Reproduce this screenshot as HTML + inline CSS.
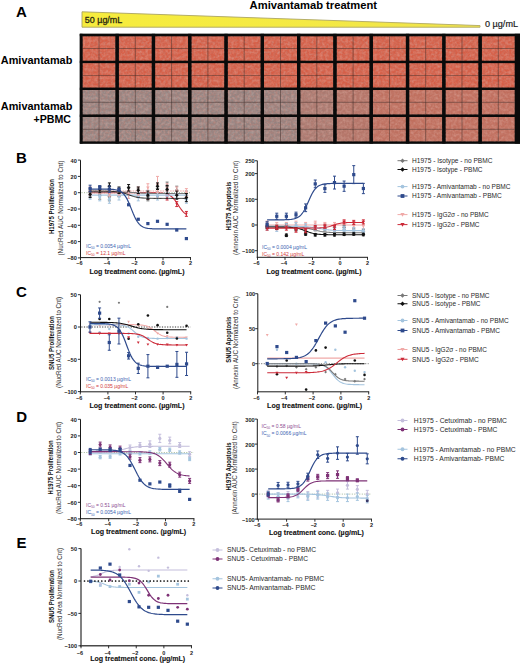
<!DOCTYPE html>
<html><head><meta charset="utf-8"><style>html,body{margin:0;padding:0;background:#fff;width:520px;height:664px;overflow:hidden}svg{display:block}</style></head>
<body><svg width="520" height="664" viewBox="0 0 520 664">
<rect width="520" height="664" fill="#fff"/>
<defs>
<linearGradient id="wedge" x1="0" x2="1" y1="0" y2="0"><stop offset="0" stop-color="#f8ec50" stop-opacity="0"/><stop offset="1" stop-color="#e0d070" stop-opacity="0.3"/></linearGradient>
<filter id="nz1" x="0" y="0" width="100%" height="100%" filterUnits="objectBoundingBox"><feTurbulence type="fractalNoise" baseFrequency="0.5" numOctaves="2" seed="4" result="t"/><feColorMatrix in="t" type="matrix" values="0 0 0 0 0.55  0 0 0 0 0.22  0 0 0 0 0.18  1.6 0 0 0 -0.55"/></filter>
<filter id="nz2" x="0" y="0" width="100%" height="100%" filterUnits="objectBoundingBox"><feTurbulence type="fractalNoise" baseFrequency="0.35" numOctaves="2" seed="11" result="t"/><feColorMatrix in="t" type="matrix" values="0 0 0 0 0.95  0 0 0 0 0.72  0 0 0 0 0.66  1.6 0 0 0 -0.6"/></filter>
<filter id="gblur" x="0" y="0" width="520" height="664" filterUnits="userSpaceOnUse"><feGaussianBlur stdDeviation="0.35"/></filter>
</defs>
<g>
<text x="16.00" y="16.60" font-size="15.0" font-family="Liberation Sans" font-weight="bold" text-anchor="start" fill="#000" >A</text>
<polygon points="82,11.8 480,25.6 480,27.2 82,27.2" fill="#f6ec3e" stroke="#a8a264" stroke-width="0.9"/>
<polygon points="82,11.8 480,25.6 480,27.2 82,27.2" fill="url(#wedge)"/>
<text x="84.80" y="23.00" font-size="9" font-family="Liberation Sans" text-anchor="start" fill="#2a2a10" textLength="37.5" lengthAdjust="spacingAndGlyphs" stroke="#2a2a10" stroke-width="0.3">50 µg/mL</text>
<text x="485.00" y="26.80" font-size="9" font-family="Liberation Sans" text-anchor="start" fill="#222" textLength="33" lengthAdjust="spacingAndGlyphs" stroke="#222" stroke-width="0.2">0 µg/mL</text>
<text x="249.60" y="9.00" font-size="10.3" font-family="Liberation Sans" font-weight="bold" text-anchor="start" fill="#000" textLength="127.5" lengthAdjust="spacingAndGlyphs" >Amivantamab treatment</text>
<text x="0.80" y="63.80" font-size="10" font-family="Liberation Sans" font-weight="bold" text-anchor="start" fill="#000" textLength="71.5" lengthAdjust="spacingAndGlyphs" >Amivantamab</text>
<text x="0.80" y="110.20" font-size="10" font-family="Liberation Sans" font-weight="bold" text-anchor="start" fill="#000" textLength="71.5" lengthAdjust="spacingAndGlyphs" >Amivantamab</text>
<text x="33.50" y="122.60" font-size="10" font-family="Liberation Sans" font-weight="bold" text-anchor="start" fill="#000" textLength="37.5" lengthAdjust="spacingAndGlyphs" >+PBMC</text>
<rect x="79.8" y="33.8" width="440.2" height="109.8" fill="#0a0a0a"/>
<rect x="82.5" y="36.2" width="33.0" height="24.6" fill="rgb(214, 94, 70)"/>
<rect x="118.8" y="36.2" width="33.0" height="24.6" fill="rgb(214, 94, 70)"/>
<rect x="155.1" y="36.2" width="33.0" height="24.6" fill="rgb(214, 94, 70)"/>
<rect x="191.4" y="36.2" width="33.0" height="24.6" fill="rgb(214, 94, 70)"/>
<rect x="227.7" y="36.2" width="33.0" height="24.6" fill="rgb(214, 94, 70)"/>
<rect x="264.0" y="36.2" width="33.0" height="24.6" fill="rgb(214, 94, 70)"/>
<rect x="300.3" y="36.2" width="33.0" height="24.6" fill="rgb(214, 94, 70)"/>
<rect x="336.6" y="36.2" width="33.0" height="24.6" fill="rgb(214, 94, 70)"/>
<rect x="372.9" y="36.2" width="33.0" height="24.6" fill="rgb(214, 94, 70)"/>
<rect x="409.2" y="36.2" width="33.0" height="24.6" fill="rgb(214, 94, 70)"/>
<rect x="445.5" y="36.2" width="33.0" height="24.6" fill="rgb(214, 94, 70)"/>
<rect x="481.8" y="36.2" width="33.0" height="24.6" fill="rgb(214, 94, 70)"/>
<rect x="82.5" y="63.1" width="33.0" height="24.6" fill="rgb(214, 94, 70)"/>
<rect x="118.8" y="63.1" width="33.0" height="24.6" fill="rgb(214, 94, 70)"/>
<rect x="155.1" y="63.1" width="33.0" height="24.6" fill="rgb(214, 94, 70)"/>
<rect x="191.4" y="63.1" width="33.0" height="24.6" fill="rgb(214, 94, 70)"/>
<rect x="227.7" y="63.1" width="33.0" height="24.6" fill="rgb(214, 94, 70)"/>
<rect x="264.0" y="63.1" width="33.0" height="24.6" fill="rgb(214, 94, 70)"/>
<rect x="300.3" y="63.1" width="33.0" height="24.6" fill="rgb(214, 94, 70)"/>
<rect x="336.6" y="63.1" width="33.0" height="24.6" fill="rgb(214, 94, 70)"/>
<rect x="372.9" y="63.1" width="33.0" height="24.6" fill="rgb(214, 94, 70)"/>
<rect x="409.2" y="63.1" width="33.0" height="24.6" fill="rgb(214, 94, 70)"/>
<rect x="445.5" y="63.1" width="33.0" height="24.6" fill="rgb(214, 94, 70)"/>
<rect x="481.8" y="63.1" width="33.0" height="24.6" fill="rgb(214, 94, 70)"/>
<rect x="82.5" y="90.0" width="33.0" height="24.6" fill="rgb(148, 132, 130)"/>
<rect x="118.8" y="90.0" width="33.0" height="24.6" fill="rgb(148, 132, 130)"/>
<rect x="155.1" y="90.0" width="33.0" height="24.6" fill="rgb(148, 132, 130)"/>
<rect x="191.4" y="90.0" width="33.0" height="24.6" fill="rgb(148, 132, 130)"/>
<rect x="227.7" y="90.0" width="33.0" height="24.6" fill="rgb(148, 132, 130)"/>
<rect x="264.0" y="90.0" width="33.0" height="24.6" fill="rgb(150, 130, 127)"/>
<rect x="300.3" y="90.0" width="33.0" height="24.6" fill="rgb(168, 122, 113)"/>
<rect x="336.6" y="90.0" width="33.0" height="24.6" fill="rgb(179, 117, 104)"/>
<rect x="372.9" y="90.0" width="33.0" height="24.6" fill="rgb(190, 112, 95)"/>
<rect x="409.2" y="90.0" width="33.0" height="24.6" fill="rgb(192, 111, 93)"/>
<rect x="445.5" y="90.0" width="33.0" height="24.6" fill="rgb(193, 110, 93)"/>
<rect x="481.8" y="90.0" width="33.0" height="24.6" fill="rgb(193, 110, 93)"/>
<rect x="82.5" y="117.0" width="33.0" height="24.6" fill="rgb(148, 132, 130)"/>
<rect x="118.8" y="117.0" width="33.0" height="24.6" fill="rgb(148, 132, 130)"/>
<rect x="155.1" y="117.0" width="33.0" height="24.6" fill="rgb(148, 132, 130)"/>
<rect x="191.4" y="117.0" width="33.0" height="24.6" fill="rgb(148, 132, 130)"/>
<rect x="227.7" y="117.0" width="33.0" height="24.6" fill="rgb(148, 132, 130)"/>
<rect x="264.0" y="117.0" width="33.0" height="24.6" fill="rgb(150, 130, 127)"/>
<rect x="300.3" y="117.0" width="33.0" height="24.6" fill="rgb(168, 122, 113)"/>
<rect x="336.6" y="117.0" width="33.0" height="24.6" fill="rgb(179, 117, 104)"/>
<rect x="372.9" y="117.0" width="33.0" height="24.6" fill="rgb(190, 112, 95)"/>
<rect x="409.2" y="117.0" width="33.0" height="24.6" fill="rgb(192, 111, 93)"/>
<rect x="445.5" y="117.0" width="33.0" height="24.6" fill="rgb(193, 110, 93)"/>
<rect x="481.8" y="117.0" width="33.0" height="24.6" fill="rgb(193, 110, 93)"/>
<rect x="80" y="34" width="440" height="109" filter="url(#nz1)" opacity="0.7"/>
<rect x="80" y="34" width="440" height="109" filter="url(#nz2)" opacity="0.3"/>
<rect x="115.5" y="33.8" width="3.3" height="109.8" fill="#0a0a0a"/>
<rect x="151.8" y="33.8" width="3.3" height="109.8" fill="#0a0a0a"/>
<rect x="188.1" y="33.8" width="3.3" height="109.8" fill="#0a0a0a"/>
<rect x="224.4" y="33.8" width="3.3" height="109.8" fill="#0a0a0a"/>
<rect x="260.7" y="33.8" width="3.3" height="109.8" fill="#0a0a0a"/>
<rect x="297.0" y="33.8" width="3.3" height="109.8" fill="#0a0a0a"/>
<rect x="333.3" y="33.8" width="3.3" height="109.8" fill="#0a0a0a"/>
<rect x="369.6" y="33.8" width="3.3" height="109.8" fill="#0a0a0a"/>
<rect x="405.9" y="33.8" width="3.3" height="109.8" fill="#0a0a0a"/>
<rect x="442.2" y="33.8" width="3.3" height="109.8" fill="#0a0a0a"/>
<rect x="478.5" y="33.8" width="3.3" height="109.8" fill="#0a0a0a"/>
<rect x="514.8" y="33.8" width="5.2" height="109.8" fill="#0a0a0a"/>
<rect x="79.8" y="33.8" width="2.7" height="109.8" fill="#0a0a0a"/>
<rect x="79.8" y="60.8" width="440.2" height="2.3" fill="#0a0a0a"/>
<rect x="79.8" y="87.7" width="440.2" height="2.3" fill="#0a0a0a"/>
<rect x="79.8" y="114.6" width="440.2" height="2.4" fill="#0a0a0a"/>
<rect x="79.8" y="141.6" width="440.2" height="2.0" fill="#0a0a0a"/>
<rect x="79.8" y="33.8" width="440.2" height="2.4" fill="#0a0a0a"/>
<line x1="99.0" y1="36.2" x2="99.0" y2="60.800000000000004" stroke="#3a2a26" stroke-width="0.8" opacity="0.6"/>
<line x1="82.5" y1="48.5" x2="115.5" y2="48.5" stroke="#3a2a26" stroke-width="0.8" opacity="0.6"/>
<line x1="135.3" y1="36.2" x2="135.3" y2="60.800000000000004" stroke="#3a2a26" stroke-width="0.8" opacity="0.6"/>
<line x1="118.8" y1="48.5" x2="151.8" y2="48.5" stroke="#3a2a26" stroke-width="0.8" opacity="0.6"/>
<line x1="171.6" y1="36.2" x2="171.6" y2="60.800000000000004" stroke="#3a2a26" stroke-width="0.8" opacity="0.6"/>
<line x1="155.1" y1="48.5" x2="188.1" y2="48.5" stroke="#3a2a26" stroke-width="0.8" opacity="0.6"/>
<line x1="207.9" y1="36.2" x2="207.9" y2="60.800000000000004" stroke="#3a2a26" stroke-width="0.8" opacity="0.6"/>
<line x1="191.39999999999998" y1="48.5" x2="224.39999999999998" y2="48.5" stroke="#3a2a26" stroke-width="0.8" opacity="0.6"/>
<line x1="244.2" y1="36.2" x2="244.2" y2="60.800000000000004" stroke="#3a2a26" stroke-width="0.8" opacity="0.6"/>
<line x1="227.7" y1="48.5" x2="260.7" y2="48.5" stroke="#3a2a26" stroke-width="0.8" opacity="0.6"/>
<line x1="280.5" y1="36.2" x2="280.5" y2="60.800000000000004" stroke="#3a2a26" stroke-width="0.8" opacity="0.6"/>
<line x1="264.0" y1="48.5" x2="297.0" y2="48.5" stroke="#3a2a26" stroke-width="0.8" opacity="0.6"/>
<line x1="316.8" y1="36.2" x2="316.8" y2="60.800000000000004" stroke="#3a2a26" stroke-width="0.8" opacity="0.6"/>
<line x1="300.29999999999995" y1="48.5" x2="333.29999999999995" y2="48.5" stroke="#3a2a26" stroke-width="0.8" opacity="0.6"/>
<line x1="353.1" y1="36.2" x2="353.1" y2="60.800000000000004" stroke="#3a2a26" stroke-width="0.8" opacity="0.6"/>
<line x1="336.59999999999997" y1="48.5" x2="369.59999999999997" y2="48.5" stroke="#3a2a26" stroke-width="0.8" opacity="0.6"/>
<line x1="389.4" y1="36.2" x2="389.4" y2="60.800000000000004" stroke="#3a2a26" stroke-width="0.8" opacity="0.6"/>
<line x1="372.9" y1="48.5" x2="405.9" y2="48.5" stroke="#3a2a26" stroke-width="0.8" opacity="0.6"/>
<line x1="425.7" y1="36.2" x2="425.7" y2="60.800000000000004" stroke="#3a2a26" stroke-width="0.8" opacity="0.6"/>
<line x1="409.2" y1="48.5" x2="442.2" y2="48.5" stroke="#3a2a26" stroke-width="0.8" opacity="0.6"/>
<line x1="462.0" y1="36.2" x2="462.0" y2="60.800000000000004" stroke="#3a2a26" stroke-width="0.8" opacity="0.6"/>
<line x1="445.5" y1="48.5" x2="478.5" y2="48.5" stroke="#3a2a26" stroke-width="0.8" opacity="0.6"/>
<line x1="498.3" y1="36.2" x2="498.3" y2="60.800000000000004" stroke="#3a2a26" stroke-width="0.8" opacity="0.6"/>
<line x1="481.79999999999995" y1="48.5" x2="514.8" y2="48.5" stroke="#3a2a26" stroke-width="0.8" opacity="0.6"/>
<line x1="99.0" y1="63.1" x2="99.0" y2="87.7" stroke="#3a2a26" stroke-width="0.8" opacity="0.6"/>
<line x1="82.5" y1="75.4" x2="115.5" y2="75.4" stroke="#3a2a26" stroke-width="0.8" opacity="0.6"/>
<line x1="135.3" y1="63.1" x2="135.3" y2="87.7" stroke="#3a2a26" stroke-width="0.8" opacity="0.6"/>
<line x1="118.8" y1="75.4" x2="151.8" y2="75.4" stroke="#3a2a26" stroke-width="0.8" opacity="0.6"/>
<line x1="171.6" y1="63.1" x2="171.6" y2="87.7" stroke="#3a2a26" stroke-width="0.8" opacity="0.6"/>
<line x1="155.1" y1="75.4" x2="188.1" y2="75.4" stroke="#3a2a26" stroke-width="0.8" opacity="0.6"/>
<line x1="207.9" y1="63.1" x2="207.9" y2="87.7" stroke="#3a2a26" stroke-width="0.8" opacity="0.6"/>
<line x1="191.39999999999998" y1="75.4" x2="224.39999999999998" y2="75.4" stroke="#3a2a26" stroke-width="0.8" opacity="0.6"/>
<line x1="244.2" y1="63.1" x2="244.2" y2="87.7" stroke="#3a2a26" stroke-width="0.8" opacity="0.6"/>
<line x1="227.7" y1="75.4" x2="260.7" y2="75.4" stroke="#3a2a26" stroke-width="0.8" opacity="0.6"/>
<line x1="280.5" y1="63.1" x2="280.5" y2="87.7" stroke="#3a2a26" stroke-width="0.8" opacity="0.6"/>
<line x1="264.0" y1="75.4" x2="297.0" y2="75.4" stroke="#3a2a26" stroke-width="0.8" opacity="0.6"/>
<line x1="316.8" y1="63.1" x2="316.8" y2="87.7" stroke="#3a2a26" stroke-width="0.8" opacity="0.6"/>
<line x1="300.29999999999995" y1="75.4" x2="333.29999999999995" y2="75.4" stroke="#3a2a26" stroke-width="0.8" opacity="0.6"/>
<line x1="353.1" y1="63.1" x2="353.1" y2="87.7" stroke="#3a2a26" stroke-width="0.8" opacity="0.6"/>
<line x1="336.59999999999997" y1="75.4" x2="369.59999999999997" y2="75.4" stroke="#3a2a26" stroke-width="0.8" opacity="0.6"/>
<line x1="389.4" y1="63.1" x2="389.4" y2="87.7" stroke="#3a2a26" stroke-width="0.8" opacity="0.6"/>
<line x1="372.9" y1="75.4" x2="405.9" y2="75.4" stroke="#3a2a26" stroke-width="0.8" opacity="0.6"/>
<line x1="425.7" y1="63.1" x2="425.7" y2="87.7" stroke="#3a2a26" stroke-width="0.8" opacity="0.6"/>
<line x1="409.2" y1="75.4" x2="442.2" y2="75.4" stroke="#3a2a26" stroke-width="0.8" opacity="0.6"/>
<line x1="462.0" y1="63.1" x2="462.0" y2="87.7" stroke="#3a2a26" stroke-width="0.8" opacity="0.6"/>
<line x1="445.5" y1="75.4" x2="478.5" y2="75.4" stroke="#3a2a26" stroke-width="0.8" opacity="0.6"/>
<line x1="498.3" y1="63.1" x2="498.3" y2="87.7" stroke="#3a2a26" stroke-width="0.8" opacity="0.6"/>
<line x1="481.79999999999995" y1="75.4" x2="514.8" y2="75.4" stroke="#3a2a26" stroke-width="0.8" opacity="0.6"/>
<line x1="99.0" y1="90.0" x2="99.0" y2="114.6" stroke="#3a2a26" stroke-width="0.8" opacity="0.6"/>
<line x1="82.5" y1="102.3" x2="115.5" y2="102.3" stroke="#3a2a26" stroke-width="0.8" opacity="0.6"/>
<line x1="135.3" y1="90.0" x2="135.3" y2="114.6" stroke="#3a2a26" stroke-width="0.8" opacity="0.6"/>
<line x1="118.8" y1="102.3" x2="151.8" y2="102.3" stroke="#3a2a26" stroke-width="0.8" opacity="0.6"/>
<line x1="171.6" y1="90.0" x2="171.6" y2="114.6" stroke="#3a2a26" stroke-width="0.8" opacity="0.6"/>
<line x1="155.1" y1="102.3" x2="188.1" y2="102.3" stroke="#3a2a26" stroke-width="0.8" opacity="0.6"/>
<line x1="207.9" y1="90.0" x2="207.9" y2="114.6" stroke="#3a2a26" stroke-width="0.8" opacity="0.6"/>
<line x1="191.39999999999998" y1="102.3" x2="224.39999999999998" y2="102.3" stroke="#3a2a26" stroke-width="0.8" opacity="0.6"/>
<line x1="244.2" y1="90.0" x2="244.2" y2="114.6" stroke="#3a2a26" stroke-width="0.8" opacity="0.6"/>
<line x1="227.7" y1="102.3" x2="260.7" y2="102.3" stroke="#3a2a26" stroke-width="0.8" opacity="0.6"/>
<line x1="280.5" y1="90.0" x2="280.5" y2="114.6" stroke="#3a2a26" stroke-width="0.8" opacity="0.6"/>
<line x1="264.0" y1="102.3" x2="297.0" y2="102.3" stroke="#3a2a26" stroke-width="0.8" opacity="0.6"/>
<line x1="316.8" y1="90.0" x2="316.8" y2="114.6" stroke="#3a2a26" stroke-width="0.8" opacity="0.6"/>
<line x1="300.29999999999995" y1="102.3" x2="333.29999999999995" y2="102.3" stroke="#3a2a26" stroke-width="0.8" opacity="0.6"/>
<line x1="353.1" y1="90.0" x2="353.1" y2="114.6" stroke="#3a2a26" stroke-width="0.8" opacity="0.6"/>
<line x1="336.59999999999997" y1="102.3" x2="369.59999999999997" y2="102.3" stroke="#3a2a26" stroke-width="0.8" opacity="0.6"/>
<line x1="389.4" y1="90.0" x2="389.4" y2="114.6" stroke="#3a2a26" stroke-width="0.8" opacity="0.6"/>
<line x1="372.9" y1="102.3" x2="405.9" y2="102.3" stroke="#3a2a26" stroke-width="0.8" opacity="0.6"/>
<line x1="425.7" y1="90.0" x2="425.7" y2="114.6" stroke="#3a2a26" stroke-width="0.8" opacity="0.6"/>
<line x1="409.2" y1="102.3" x2="442.2" y2="102.3" stroke="#3a2a26" stroke-width="0.8" opacity="0.6"/>
<line x1="462.0" y1="90.0" x2="462.0" y2="114.6" stroke="#3a2a26" stroke-width="0.8" opacity="0.6"/>
<line x1="445.5" y1="102.3" x2="478.5" y2="102.3" stroke="#3a2a26" stroke-width="0.8" opacity="0.6"/>
<line x1="498.3" y1="90.0" x2="498.3" y2="114.6" stroke="#3a2a26" stroke-width="0.8" opacity="0.6"/>
<line x1="481.79999999999995" y1="102.3" x2="514.8" y2="102.3" stroke="#3a2a26" stroke-width="0.8" opacity="0.6"/>
<line x1="99.0" y1="117.0" x2="99.0" y2="141.6" stroke="#3a2a26" stroke-width="0.8" opacity="0.6"/>
<line x1="82.5" y1="129.3" x2="115.5" y2="129.3" stroke="#3a2a26" stroke-width="0.8" opacity="0.6"/>
<line x1="135.3" y1="117.0" x2="135.3" y2="141.6" stroke="#3a2a26" stroke-width="0.8" opacity="0.6"/>
<line x1="118.8" y1="129.3" x2="151.8" y2="129.3" stroke="#3a2a26" stroke-width="0.8" opacity="0.6"/>
<line x1="171.6" y1="117.0" x2="171.6" y2="141.6" stroke="#3a2a26" stroke-width="0.8" opacity="0.6"/>
<line x1="155.1" y1="129.3" x2="188.1" y2="129.3" stroke="#3a2a26" stroke-width="0.8" opacity="0.6"/>
<line x1="207.9" y1="117.0" x2="207.9" y2="141.6" stroke="#3a2a26" stroke-width="0.8" opacity="0.6"/>
<line x1="191.39999999999998" y1="129.3" x2="224.39999999999998" y2="129.3" stroke="#3a2a26" stroke-width="0.8" opacity="0.6"/>
<line x1="244.2" y1="117.0" x2="244.2" y2="141.6" stroke="#3a2a26" stroke-width="0.8" opacity="0.6"/>
<line x1="227.7" y1="129.3" x2="260.7" y2="129.3" stroke="#3a2a26" stroke-width="0.8" opacity="0.6"/>
<line x1="280.5" y1="117.0" x2="280.5" y2="141.6" stroke="#3a2a26" stroke-width="0.8" opacity="0.6"/>
<line x1="264.0" y1="129.3" x2="297.0" y2="129.3" stroke="#3a2a26" stroke-width="0.8" opacity="0.6"/>
<line x1="316.8" y1="117.0" x2="316.8" y2="141.6" stroke="#3a2a26" stroke-width="0.8" opacity="0.6"/>
<line x1="300.29999999999995" y1="129.3" x2="333.29999999999995" y2="129.3" stroke="#3a2a26" stroke-width="0.8" opacity="0.6"/>
<line x1="353.1" y1="117.0" x2="353.1" y2="141.6" stroke="#3a2a26" stroke-width="0.8" opacity="0.6"/>
<line x1="336.59999999999997" y1="129.3" x2="369.59999999999997" y2="129.3" stroke="#3a2a26" stroke-width="0.8" opacity="0.6"/>
<line x1="389.4" y1="117.0" x2="389.4" y2="141.6" stroke="#3a2a26" stroke-width="0.8" opacity="0.6"/>
<line x1="372.9" y1="129.3" x2="405.9" y2="129.3" stroke="#3a2a26" stroke-width="0.8" opacity="0.6"/>
<line x1="425.7" y1="117.0" x2="425.7" y2="141.6" stroke="#3a2a26" stroke-width="0.8" opacity="0.6"/>
<line x1="409.2" y1="129.3" x2="442.2" y2="129.3" stroke="#3a2a26" stroke-width="0.8" opacity="0.6"/>
<line x1="462.0" y1="117.0" x2="462.0" y2="141.6" stroke="#3a2a26" stroke-width="0.8" opacity="0.6"/>
<line x1="445.5" y1="129.3" x2="478.5" y2="129.3" stroke="#3a2a26" stroke-width="0.8" opacity="0.6"/>
<line x1="498.3" y1="117.0" x2="498.3" y2="141.6" stroke="#3a2a26" stroke-width="0.8" opacity="0.6"/>
<line x1="481.79999999999995" y1="129.3" x2="514.8" y2="129.3" stroke="#3a2a26" stroke-width="0.8" opacity="0.6"/>
<text x="15.90" y="163.00" font-size="15.0" font-family="Liberation Sans" font-weight="bold" text-anchor="start" fill="#000" >B</text>
<text x="16.10" y="297.40" font-size="15.0" font-family="Liberation Sans" font-weight="bold" text-anchor="start" fill="#000" >C</text>
<text x="16.20" y="422.00" font-size="15.0" font-family="Liberation Sans" font-weight="bold" text-anchor="start" fill="#000" >D</text>
<text x="16.50" y="547.80" font-size="15.0" font-family="Liberation Sans" font-weight="bold" text-anchor="start" fill="#000" >E</text>
<line x1="81.50" y1="192.70" x2="190.50" y2="192.70" stroke="#7a9a6a" stroke-width="0.7" stroke-dasharray="1,1.5"/>
<g stroke="#cc2a38" stroke-width="1" opacity="1"><line x1="90.12" y1="191.88" x2="90.12" y2="195.14"/><line x1="88.62" y1="191.88" x2="91.62" y2="191.88"/><line x1="88.62" y1="195.14" x2="91.62" y2="195.14"/></g>
<polygon points="88.69,192.47 91.56,192.47 90.12,194.94" fill="#cc2a38"/>
<g stroke="#cc2a38" stroke-width="1" opacity="1"><line x1="99.75" y1="191.88" x2="99.75" y2="195.14"/><line x1="98.25" y1="191.88" x2="101.25" y2="191.88"/><line x1="98.25" y1="195.14" x2="101.25" y2="195.14"/></g>
<polygon points="98.32,192.47 101.18,192.47 99.75,194.94" fill="#cc2a38"/>
<g stroke="#cc2a38" stroke-width="1" opacity="1"><line x1="109.38" y1="191.88" x2="109.38" y2="195.14"/><line x1="107.88" y1="191.88" x2="110.88" y2="191.88"/><line x1="107.88" y1="195.14" x2="110.88" y2="195.14"/></g>
<polygon points="107.94,192.47 110.81,192.47 109.38,194.94" fill="#cc2a38"/>
<g stroke="#cc2a38" stroke-width="1" opacity="1"><line x1="119.00" y1="192.70" x2="119.00" y2="195.96"/><line x1="117.50" y1="192.70" x2="120.50" y2="192.70"/><line x1="117.50" y1="195.96" x2="120.50" y2="195.96"/></g>
<polygon points="117.57,193.29 120.43,193.29 119.00,195.76" fill="#cc2a38"/>
<g stroke="#cc2a38" stroke-width="1" opacity="1"><line x1="128.62" y1="191.88" x2="128.62" y2="195.14"/><line x1="127.12" y1="191.88" x2="130.12" y2="191.88"/><line x1="127.12" y1="195.14" x2="130.12" y2="195.14"/></g>
<polygon points="127.19,192.47 130.06,192.47 128.62,194.94" fill="#cc2a38"/>
<g stroke="#cc2a38" stroke-width="1" opacity="1"><line x1="138.25" y1="192.70" x2="138.25" y2="197.59"/><line x1="136.75" y1="192.70" x2="139.75" y2="192.70"/><line x1="136.75" y1="197.59" x2="139.75" y2="197.59"/></g>
<polygon points="136.82,194.10 139.68,194.10 138.25,196.57" fill="#cc2a38"/>
<g stroke="#cc2a38" stroke-width="1" opacity="1"><line x1="147.88" y1="194.33" x2="147.88" y2="199.22"/><line x1="146.38" y1="194.33" x2="149.38" y2="194.33"/><line x1="146.38" y1="199.22" x2="149.38" y2="199.22"/></g>
<polygon points="146.44,195.73 149.31,195.73 147.88,198.20" fill="#cc2a38"/>
<g stroke="#cc2a38" stroke-width="1" opacity="1"><line x1="157.50" y1="191.88" x2="157.50" y2="196.77"/><line x1="156.00" y1="191.88" x2="159.00" y2="191.88"/><line x1="156.00" y1="196.77" x2="159.00" y2="196.77"/></g>
<polygon points="156.07,193.29 158.93,193.29 157.50,195.76" fill="#cc2a38"/>
<g stroke="#cc2a38" stroke-width="1" opacity="1"><line x1="167.12" y1="195.14" x2="167.12" y2="200.03"/><line x1="165.62" y1="195.14" x2="168.62" y2="195.14"/><line x1="165.62" y1="200.03" x2="168.62" y2="200.03"/></g>
<polygon points="165.69,196.55 168.56,196.55 167.12,199.02" fill="#cc2a38"/>
<g stroke="#cc2a38" stroke-width="1" opacity="1"><line x1="176.75" y1="201.66" x2="176.75" y2="206.55"/><line x1="175.25" y1="201.66" x2="178.25" y2="201.66"/><line x1="175.25" y1="206.55" x2="178.25" y2="206.55"/></g>
<polygon points="175.32,203.07 178.18,203.07 176.75,205.54" fill="#cc2a38"/>
<g stroke="#cc2a38" stroke-width="1" opacity="1"><line x1="186.38" y1="211.44" x2="186.38" y2="216.33"/><line x1="184.88" y1="211.44" x2="187.88" y2="211.44"/><line x1="184.88" y1="216.33" x2="187.88" y2="216.33"/></g>
<polygon points="184.94,212.85 187.81,212.85 186.38,215.32" fill="#cc2a38"/>
<polyline points="90.12,192.70 91.33,192.70 92.53,192.70 93.73,192.70 94.94,192.70 96.14,192.70 97.34,192.70 98.55,192.70 99.75,192.70 100.95,192.70 102.16,192.70 103.36,192.70 104.56,192.70 105.77,192.70 106.97,192.70 108.17,192.70 109.38,192.70 110.58,192.70 111.78,192.70 112.98,192.70 114.19,192.70 115.39,192.70 116.59,192.70 117.80,192.70 119.00,192.70 120.20,192.70 121.41,192.70 122.61,192.70 123.81,192.70 125.02,192.70 126.22,192.70 127.42,192.70 128.62,192.70 129.83,192.70 131.03,192.70 132.23,192.70 133.44,192.70 134.64,192.70 135.84,192.70 137.05,192.70 138.25,192.70 139.45,192.70 140.66,192.70 141.86,192.70 143.06,192.70 144.27,192.70 145.47,192.71 146.67,192.71 147.88,192.71 149.08,192.72 150.28,192.72 151.48,192.73 152.69,192.74 153.89,192.76 155.09,192.77 156.30,192.80 157.50,192.84 158.70,192.88 159.91,192.95 161.11,193.04 162.31,193.15 163.52,193.31 164.72,193.51 165.92,193.79 167.12,194.15 168.33,194.62 169.53,195.23 170.73,196.00 171.94,196.97 173.14,198.14 174.34,199.52 175.55,201.10 176.75,202.83 177.95,204.66 179.16,206.50 180.36,208.27 181.56,209.90 182.77,211.34 183.97,212.57 185.17,213.59 186.38,214.42" fill="none" stroke="#cc2a38" stroke-width="1.1" opacity="1"/>
<g stroke="#787878" stroke-width="1" opacity="1"><line x1="90.12" y1="188.62" x2="90.12" y2="196.77"/><line x1="88.62" y1="188.62" x2="91.62" y2="188.62"/><line x1="88.62" y1="196.77" x2="91.62" y2="196.77"/></g>
<polygon points="90.12,190.78 92.05,192.70 90.12,194.62 88.20,192.70" fill="#787878"/>
<g stroke="#787878" stroke-width="1" opacity="1"><line x1="99.75" y1="191.07" x2="99.75" y2="199.22"/><line x1="98.25" y1="191.07" x2="101.25" y2="191.07"/><line x1="98.25" y1="199.22" x2="101.25" y2="199.22"/></g>
<polygon points="99.75,193.22 101.67,195.14 99.75,197.06 97.83,195.14" fill="#787878"/>
<g stroke="#787878" stroke-width="1" opacity="1"><line x1="109.38" y1="192.70" x2="109.38" y2="200.85"/><line x1="107.88" y1="192.70" x2="110.88" y2="192.70"/><line x1="107.88" y1="200.85" x2="110.88" y2="200.85"/></g>
<polygon points="109.38,194.85 111.30,196.77 109.38,198.69 107.45,196.77" fill="#787878"/>
<g stroke="#787878" stroke-width="1" opacity="1"><line x1="119.00" y1="188.62" x2="119.00" y2="196.77"/><line x1="117.50" y1="188.62" x2="120.50" y2="188.62"/><line x1="117.50" y1="196.77" x2="120.50" y2="196.77"/></g>
<polygon points="119.00,190.78 120.92,192.70 119.00,194.62 117.08,192.70" fill="#787878"/>
<g stroke="#787878" stroke-width="1" opacity="1"><line x1="128.62" y1="187.00" x2="128.62" y2="195.14"/><line x1="127.12" y1="187.00" x2="130.12" y2="187.00"/><line x1="127.12" y1="195.14" x2="130.12" y2="195.14"/></g>
<polygon points="128.62,189.15 130.54,191.07 128.62,192.99 126.70,191.07" fill="#787878"/>
<g stroke="#787878" stroke-width="1" opacity="1"><line x1="138.25" y1="188.62" x2="138.25" y2="196.77"/><line x1="136.75" y1="188.62" x2="139.75" y2="188.62"/><line x1="136.75" y1="196.77" x2="139.75" y2="196.77"/></g>
<polygon points="138.25,190.78 140.17,192.70 138.25,194.62 136.33,192.70" fill="#787878"/>
<g stroke="#787878" stroke-width="1" opacity="1"><line x1="147.88" y1="192.70" x2="147.88" y2="200.85"/><line x1="146.38" y1="192.70" x2="149.38" y2="192.70"/><line x1="146.38" y1="200.85" x2="149.38" y2="200.85"/></g>
<polygon points="147.88,194.85 149.79,196.77 147.88,198.69 145.96,196.77" fill="#787878"/>
<g stroke="#787878" stroke-width="1" opacity="1"><line x1="157.50" y1="184.55" x2="157.50" y2="192.70"/><line x1="156.00" y1="184.55" x2="159.00" y2="184.55"/><line x1="156.00" y1="192.70" x2="159.00" y2="192.70"/></g>
<polygon points="157.50,186.71 159.42,188.62 157.50,190.54 155.58,188.62" fill="#787878"/>
<g stroke="#787878" stroke-width="1" opacity="1"><line x1="167.12" y1="182.10" x2="167.12" y2="190.25"/><line x1="165.62" y1="182.10" x2="168.62" y2="182.10"/><line x1="165.62" y1="190.25" x2="168.62" y2="190.25"/></g>
<polygon points="167.12,184.26 169.04,186.18 167.12,188.10 165.21,186.18" fill="#787878"/>
<g stroke="#787878" stroke-width="1" opacity="1"><line x1="176.75" y1="186.18" x2="176.75" y2="194.33"/><line x1="175.25" y1="186.18" x2="178.25" y2="186.18"/><line x1="175.25" y1="194.33" x2="178.25" y2="194.33"/></g>
<polygon points="176.75,188.34 178.67,190.25 176.75,192.17 174.83,190.25" fill="#787878"/>
<g stroke="#787878" stroke-width="1" opacity="1"><line x1="186.38" y1="191.07" x2="186.38" y2="199.22"/><line x1="184.88" y1="191.07" x2="187.88" y2="191.07"/><line x1="184.88" y1="199.22" x2="187.88" y2="199.22"/></g>
<polygon points="186.38,193.22 188.29,195.14 186.38,197.06 184.46,195.14" fill="#787878"/>
<polyline points="90.12,191.89 91.33,191.89 92.53,191.89 93.73,191.89 94.94,191.89 96.14,191.89 97.34,191.89 98.55,191.89 99.75,191.89 100.95,191.89 102.16,191.89 103.36,191.89 104.56,191.89 105.77,191.90 106.97,191.90 108.17,191.90 109.38,191.91 110.58,191.91 111.78,191.92 112.98,191.92 114.19,191.93 115.39,191.94 116.59,191.95 117.80,191.96 119.00,191.98 120.20,192.00 121.41,192.03 122.61,192.05 123.81,192.09 125.02,192.13 126.22,192.17 127.42,192.22 128.62,192.28 129.83,192.34 131.03,192.41 132.23,192.48 133.44,192.56 134.64,192.64 135.84,192.72 137.05,192.80 138.25,192.88 139.45,192.96 140.66,193.03 141.86,193.10 143.06,193.16 144.27,193.21 145.47,193.26 146.67,193.30 147.88,193.33 149.08,193.36 150.28,193.39 151.48,193.41 152.69,193.43 153.89,193.44 155.09,193.46 156.30,193.47 157.50,193.48 158.70,193.48 159.91,193.49 161.11,193.49 162.31,193.50 163.52,193.50 164.72,193.50 165.92,193.51 167.12,193.51 168.33,193.51 169.53,193.51 170.73,193.51 171.94,193.51 173.14,193.51 174.34,193.51 175.55,193.51 176.75,193.51 177.95,193.51 179.16,193.51 180.36,193.51 181.56,193.51 182.77,193.51 183.97,193.51 185.17,193.51 186.38,193.51" fill="none" stroke="#787878" stroke-width="1.1" opacity="1"/>
<g stroke="#a4c4de" stroke-width="1" opacity="1"><line x1="90.12" y1="191.07" x2="90.12" y2="199.22"/><line x1="88.62" y1="191.07" x2="91.62" y2="191.07"/><line x1="88.62" y1="199.22" x2="91.62" y2="199.22"/></g>
<circle cx="90.12" cy="195.14" r="1.60" fill="#a4c4de"/>
<g stroke="#a4c4de" stroke-width="1" opacity="1"><line x1="99.75" y1="192.70" x2="99.75" y2="200.85"/><line x1="98.25" y1="192.70" x2="101.25" y2="192.70"/><line x1="98.25" y1="200.85" x2="101.25" y2="200.85"/></g>
<circle cx="99.75" cy="196.77" r="1.60" fill="#a4c4de"/>
<g stroke="#a4c4de" stroke-width="1" opacity="1"><line x1="109.38" y1="195.15" x2="109.38" y2="203.29"/><line x1="107.88" y1="195.15" x2="110.88" y2="195.15"/><line x1="107.88" y1="203.29" x2="110.88" y2="203.29"/></g>
<circle cx="109.38" cy="199.22" r="1.60" fill="#a4c4de"/>
<g stroke="#a4c4de" stroke-width="1" opacity="1"><line x1="119.00" y1="191.88" x2="119.00" y2="200.03"/><line x1="117.50" y1="191.88" x2="120.50" y2="191.88"/><line x1="117.50" y1="200.03" x2="120.50" y2="200.03"/></g>
<circle cx="119.00" cy="195.96" r="1.60" fill="#a4c4de"/>
<g stroke="#a4c4de" stroke-width="1" opacity="1"><line x1="128.62" y1="190.25" x2="128.62" y2="198.40"/><line x1="127.12" y1="190.25" x2="130.12" y2="190.25"/><line x1="127.12" y1="198.40" x2="130.12" y2="198.40"/></g>
<circle cx="128.62" cy="194.33" r="1.60" fill="#a4c4de"/>
<g stroke="#a4c4de" stroke-width="1" opacity="1"><line x1="138.25" y1="192.70" x2="138.25" y2="200.85"/><line x1="136.75" y1="192.70" x2="139.75" y2="192.70"/><line x1="136.75" y1="200.85" x2="139.75" y2="200.85"/></g>
<circle cx="138.25" cy="196.77" r="1.60" fill="#a4c4de"/>
<g stroke="#a4c4de" stroke-width="1" opacity="1"><line x1="147.88" y1="190.25" x2="147.88" y2="198.40"/><line x1="146.38" y1="190.25" x2="149.38" y2="190.25"/><line x1="146.38" y1="198.40" x2="149.38" y2="198.40"/></g>
<circle cx="147.88" cy="194.33" r="1.60" fill="#a4c4de"/>
<g stroke="#a4c4de" stroke-width="1" opacity="1"><line x1="157.50" y1="191.88" x2="157.50" y2="200.03"/><line x1="156.00" y1="191.88" x2="159.00" y2="191.88"/><line x1="156.00" y1="200.03" x2="159.00" y2="200.03"/></g>
<circle cx="157.50" cy="195.96" r="1.60" fill="#a4c4de"/>
<g stroke="#a4c4de" stroke-width="1" opacity="1"><line x1="167.12" y1="188.62" x2="167.12" y2="196.77"/><line x1="165.62" y1="188.62" x2="168.62" y2="188.62"/><line x1="165.62" y1="196.77" x2="168.62" y2="196.77"/></g>
<circle cx="167.12" cy="192.70" r="1.60" fill="#a4c4de"/>
<g stroke="#a4c4de" stroke-width="1" opacity="1"><line x1="176.75" y1="190.25" x2="176.75" y2="198.40"/><line x1="175.25" y1="190.25" x2="178.25" y2="190.25"/><line x1="175.25" y1="198.40" x2="178.25" y2="198.40"/></g>
<circle cx="176.75" cy="194.33" r="1.60" fill="#a4c4de"/>
<g stroke="#a4c4de" stroke-width="1" opacity="1"><line x1="186.38" y1="195.15" x2="186.38" y2="203.29"/><line x1="184.88" y1="195.15" x2="187.88" y2="195.15"/><line x1="184.88" y1="203.29" x2="187.88" y2="203.29"/></g>
<circle cx="186.38" cy="199.22" r="1.60" fill="#a4c4de"/>
<polyline points="90.12,195.14 91.33,195.14 92.53,195.14 93.73,195.14 94.94,195.14 96.14,195.14 97.34,195.14 98.55,195.14 99.75,195.14 100.95,195.14 102.16,195.14 103.36,195.14 104.56,195.14 105.77,195.14 106.97,195.14 108.17,195.14 109.38,195.14 110.58,195.14 111.78,195.14 112.98,195.14 114.19,195.14 115.39,195.14 116.59,195.14 117.80,195.14 119.00,195.14 120.20,195.14 121.41,195.14 122.61,195.14 123.81,195.14 125.02,195.14 126.22,195.14 127.42,195.14 128.62,195.14 129.83,195.14 131.03,195.14 132.23,195.14 133.44,195.14 134.64,195.14 135.84,195.14 137.05,195.14 138.25,195.14 139.45,195.14 140.66,195.14 141.86,195.14 143.06,195.14 144.27,195.14 145.47,195.14 146.67,195.14 147.88,195.14 149.08,195.14 150.28,195.14 151.48,195.14 152.69,195.14 153.89,195.14 155.09,195.14 156.30,195.14 157.50,195.14 158.70,195.14 159.91,195.14 161.11,195.14 162.31,195.14 163.52,195.14 164.72,195.14 165.92,195.14 167.12,195.14 168.33,195.14 169.53,195.14 170.73,195.14 171.94,195.14 173.14,195.14 174.34,195.14 175.55,195.14 176.75,195.14 177.95,195.14 179.16,195.14 180.36,195.14 181.56,195.14 182.77,195.14 183.97,195.14 185.17,195.14 186.38,195.14" fill="none" stroke="#a4c4de" stroke-width="1.1" opacity="1"/>
<g stroke="#f0aaa8" stroke-width="1" opacity="1"><line x1="90.12" y1="187.00" x2="90.12" y2="195.14"/><line x1="88.62" y1="187.00" x2="91.62" y2="187.00"/><line x1="88.62" y1="195.14" x2="91.62" y2="195.14"/></g>
<polygon points="88.36,189.79 91.89,189.79 90.12,192.83" fill="#f0aaa8"/>
<g stroke="#f0aaa8" stroke-width="1" opacity="1"><line x1="99.75" y1="187.00" x2="99.75" y2="193.51"/><line x1="98.25" y1="187.00" x2="101.25" y2="187.00"/><line x1="98.25" y1="193.51" x2="101.25" y2="193.51"/></g>
<polygon points="97.99,188.97 101.51,188.97 99.75,192.01" fill="#f0aaa8"/>
<g stroke="#f0aaa8" stroke-width="1" opacity="1"><line x1="109.38" y1="189.44" x2="109.38" y2="195.96"/><line x1="107.88" y1="189.44" x2="110.88" y2="189.44"/><line x1="107.88" y1="195.96" x2="110.88" y2="195.96"/></g>
<polygon points="107.61,191.42 111.14,191.42 109.38,194.46" fill="#f0aaa8"/>
<g stroke="#f0aaa8" stroke-width="1" opacity="1"><line x1="119.00" y1="188.62" x2="119.00" y2="195.14"/><line x1="117.50" y1="188.62" x2="120.50" y2="188.62"/><line x1="117.50" y1="195.14" x2="120.50" y2="195.14"/></g>
<polygon points="117.24,190.60 120.76,190.60 119.00,193.64" fill="#f0aaa8"/>
<g stroke="#f0aaa8" stroke-width="1" opacity="1"><line x1="128.62" y1="190.25" x2="128.62" y2="198.40"/><line x1="127.12" y1="190.25" x2="130.12" y2="190.25"/><line x1="127.12" y1="198.40" x2="130.12" y2="198.40"/></g>
<polygon points="126.86,193.05 130.38,193.05 128.62,196.09" fill="#f0aaa8"/>
<g stroke="#f0aaa8" stroke-width="1" opacity="1"><line x1="138.25" y1="187.00" x2="138.25" y2="195.14"/><line x1="136.75" y1="187.00" x2="139.75" y2="187.00"/><line x1="136.75" y1="195.14" x2="139.75" y2="195.14"/></g>
<polygon points="136.49,189.79 140.01,189.79 138.25,192.83" fill="#f0aaa8"/>
<g stroke="#f0aaa8" stroke-width="1" opacity="1"><line x1="147.88" y1="183.74" x2="147.88" y2="191.88"/><line x1="146.38" y1="183.74" x2="149.38" y2="183.74"/><line x1="146.38" y1="191.88" x2="149.38" y2="191.88"/></g>
<polygon points="146.12,186.53 149.63,186.53 147.88,189.57" fill="#f0aaa8"/>
<g stroke="#f0aaa8" stroke-width="1" opacity="1"><line x1="157.50" y1="176.40" x2="157.50" y2="192.70"/><line x1="156.00" y1="176.40" x2="159.00" y2="176.40"/><line x1="156.00" y1="192.70" x2="159.00" y2="192.70"/></g>
<polygon points="155.74,183.27 159.26,183.27 157.50,186.31" fill="#f0aaa8"/>
<g stroke="#f0aaa8" stroke-width="1" opacity="1"><line x1="167.12" y1="183.74" x2="167.12" y2="193.51"/><line x1="165.62" y1="183.74" x2="168.62" y2="183.74"/><line x1="165.62" y1="193.51" x2="168.62" y2="193.51"/></g>
<polygon points="165.37,187.34 168.88,187.34 167.12,190.38" fill="#f0aaa8"/>
<g stroke="#f0aaa8" stroke-width="1" opacity="1"><line x1="176.75" y1="187.00" x2="176.75" y2="195.14"/><line x1="175.25" y1="187.00" x2="178.25" y2="187.00"/><line x1="175.25" y1="195.14" x2="178.25" y2="195.14"/></g>
<polygon points="174.99,189.79 178.51,189.79 176.75,192.83" fill="#f0aaa8"/>
<g stroke="#f0aaa8" stroke-width="1" opacity="1"><line x1="186.38" y1="188.62" x2="186.38" y2="196.77"/><line x1="184.88" y1="188.62" x2="187.88" y2="188.62"/><line x1="184.88" y1="196.77" x2="187.88" y2="196.77"/></g>
<polygon points="184.62,191.42 188.13,191.42 186.38,194.46" fill="#f0aaa8"/>
<polyline points="90.12,191.07 91.33,191.07 92.53,191.07 93.73,191.07 94.94,191.07 96.14,191.07 97.34,191.07 98.55,191.07 99.75,191.07 100.95,191.07 102.16,191.07 103.36,191.07 104.56,191.07 105.77,191.07 106.97,191.07 108.17,191.07 109.38,191.07 110.58,191.07 111.78,191.07 112.98,191.07 114.19,191.07 115.39,191.07 116.59,191.07 117.80,191.07 119.00,191.07 120.20,191.07 121.41,191.07 122.61,191.07 123.81,191.07 125.02,191.07 126.22,191.07 127.42,191.07 128.62,191.07 129.83,191.07 131.03,191.07 132.23,191.07 133.44,191.07 134.64,191.07 135.84,191.07 137.05,191.07 138.25,191.07 139.45,191.07 140.66,191.07 141.86,191.07 143.06,191.07 144.27,191.07 145.47,191.07 146.67,191.07 147.88,191.07 149.08,191.07 150.28,191.07 151.48,191.07 152.69,191.07 153.89,191.07 155.09,191.07 156.30,191.07 157.50,191.07 158.70,191.07 159.91,191.07 161.11,191.07 162.31,191.07 163.52,191.07 164.72,191.07 165.92,191.07 167.12,191.07 168.33,191.07 169.53,191.07 170.73,191.07 171.94,191.07 173.14,191.07 174.34,191.07 175.55,191.07 176.75,191.07 177.95,191.07 179.16,191.07 180.36,191.07 181.56,191.07 182.77,191.07 183.97,191.07 185.17,191.07 186.38,191.07" fill="none" stroke="#f0aaa8" stroke-width="1.1" opacity="1" stroke-dasharray="1.5,1"/>
<g stroke="#111111" stroke-width="1" opacity="1"><line x1="90.12" y1="191.07" x2="90.12" y2="197.59"/><line x1="88.62" y1="191.07" x2="91.62" y2="191.07"/><line x1="88.62" y1="197.59" x2="91.62" y2="197.59"/></g>
<polygon points="90.12,192.41 92.05,194.33 90.12,196.25 88.20,194.33" fill="#111111"/>
<g stroke="#111111" stroke-width="1" opacity="1"><line x1="99.75" y1="186.18" x2="99.75" y2="192.70"/><line x1="98.25" y1="186.18" x2="101.25" y2="186.18"/><line x1="98.25" y1="192.70" x2="101.25" y2="192.70"/></g>
<polygon points="99.75,187.52 101.67,189.44 99.75,191.36 97.83,189.44" fill="#111111"/>
<g stroke="#111111" stroke-width="1" opacity="1"><line x1="109.38" y1="182.92" x2="109.38" y2="189.44"/><line x1="107.88" y1="182.92" x2="110.88" y2="182.92"/><line x1="107.88" y1="189.44" x2="110.88" y2="189.44"/></g>
<polygon points="109.38,184.26 111.30,186.18 109.38,188.10 107.45,186.18" fill="#111111"/>
<g stroke="#111111" stroke-width="1" opacity="1"><line x1="119.00" y1="187.00" x2="119.00" y2="193.51"/><line x1="117.50" y1="187.00" x2="120.50" y2="187.00"/><line x1="117.50" y1="193.51" x2="120.50" y2="193.51"/></g>
<polygon points="119.00,188.34 120.92,190.25 119.00,192.17 117.08,190.25" fill="#111111"/>
<g stroke="#111111" stroke-width="1" opacity="1"><line x1="128.62" y1="184.55" x2="128.62" y2="191.07"/><line x1="127.12" y1="184.55" x2="130.12" y2="184.55"/><line x1="127.12" y1="191.07" x2="130.12" y2="191.07"/></g>
<polygon points="128.62,185.89 130.54,187.81 128.62,189.73 126.70,187.81" fill="#111111"/>
<g stroke="#111111" stroke-width="1" opacity="1"><line x1="138.25" y1="187.00" x2="138.25" y2="193.51"/><line x1="136.75" y1="187.00" x2="139.75" y2="187.00"/><line x1="136.75" y1="193.51" x2="139.75" y2="193.51"/></g>
<polygon points="138.25,188.34 140.17,190.25 138.25,192.17 136.33,190.25" fill="#111111"/>
<g stroke="#111111" stroke-width="1" opacity="1"><line x1="147.88" y1="191.07" x2="147.88" y2="199.22"/><line x1="146.38" y1="191.07" x2="149.38" y2="191.07"/><line x1="146.38" y1="199.22" x2="149.38" y2="199.22"/></g>
<polygon points="147.88,193.22 149.79,195.14 147.88,197.06 145.96,195.14" fill="#111111"/>
<g stroke="#111111" stroke-width="1" opacity="1"><line x1="157.50" y1="182.92" x2="157.50" y2="189.44"/><line x1="156.00" y1="182.92" x2="159.00" y2="182.92"/><line x1="156.00" y1="189.44" x2="159.00" y2="189.44"/></g>
<polygon points="157.50,184.26 159.42,186.18 157.50,188.10 155.58,186.18" fill="#111111"/>
<g stroke="#111111" stroke-width="1" opacity="1"><line x1="167.12" y1="185.37" x2="167.12" y2="193.51"/><line x1="165.62" y1="185.37" x2="168.62" y2="185.37"/><line x1="165.62" y1="193.51" x2="168.62" y2="193.51"/></g>
<polygon points="167.12,187.52 169.04,189.44 167.12,191.36 165.21,189.44" fill="#111111"/>
<g stroke="#111111" stroke-width="1" opacity="1"><line x1="176.75" y1="191.07" x2="176.75" y2="199.22"/><line x1="175.25" y1="191.07" x2="178.25" y2="191.07"/><line x1="175.25" y1="199.22" x2="178.25" y2="199.22"/></g>
<polygon points="176.75,193.22 178.67,195.14 176.75,197.06 174.83,195.14" fill="#111111"/>
<g stroke="#111111" stroke-width="1" opacity="1"><line x1="186.38" y1="193.51" x2="186.38" y2="201.66"/><line x1="184.88" y1="193.51" x2="187.88" y2="193.51"/><line x1="184.88" y1="201.66" x2="187.88" y2="201.66"/></g>
<polygon points="186.38,195.67 188.29,197.59 186.38,199.51 184.46,197.59" fill="#111111"/>
<polyline points="90.12,191.07 91.33,191.07 92.53,191.08 93.73,191.08 94.94,191.08 96.14,191.08 97.34,191.08 98.55,191.09 99.75,191.09 100.95,191.10 102.16,191.11 103.36,191.12 104.56,191.13 105.77,191.14 106.97,191.16 108.17,191.19 109.38,191.22 110.58,191.26 111.78,191.31 112.98,191.37 114.19,191.45 115.39,191.55 116.59,191.67 117.80,191.82 119.00,192.00 120.20,192.21 121.41,192.46 122.61,192.76 123.81,193.09 125.02,193.46 126.22,193.87 127.42,194.30 128.62,194.74 129.83,195.18 131.03,195.61 132.23,196.01 133.44,196.38 134.64,196.72 135.84,197.01 137.05,197.26 138.25,197.48 139.45,197.66 140.66,197.80 141.86,197.93 143.06,198.02 144.27,198.10 145.47,198.16 146.67,198.21 147.88,198.25 149.08,198.29 150.28,198.31 151.48,198.33 152.69,198.35 153.89,198.36 155.09,198.37 156.30,198.38 157.50,198.38 158.70,198.39 159.91,198.39 161.11,198.39 162.31,198.40 163.52,198.40 164.72,198.40 165.92,198.40 167.12,198.40 168.33,198.40 169.53,198.40 170.73,198.40 171.94,198.40 173.14,198.40 174.34,198.40 175.55,198.40 176.75,198.40 177.95,198.40 179.16,198.40 180.36,198.40 181.56,198.40 182.77,198.40 183.97,198.40 185.17,198.40 186.38,198.40" fill="none" stroke="#111111" stroke-width="0.9" opacity="1"/>
<g stroke="#2e4a8c" stroke-width="1" opacity="1"><line x1="90.12" y1="185.20" x2="90.12" y2="191.72"/><line x1="88.62" y1="185.20" x2="91.62" y2="185.20"/><line x1="88.62" y1="191.72" x2="91.62" y2="191.72"/></g>
<rect x="88.53" y="186.86" width="3.20" height="3.20" fill="#2e4a8c"/>
<g stroke="#2e4a8c" stroke-width="1" opacity="1"><line x1="99.75" y1="185.69" x2="99.75" y2="188.95"/><line x1="98.25" y1="185.69" x2="101.25" y2="185.69"/><line x1="98.25" y1="188.95" x2="101.25" y2="188.95"/></g>
<rect x="98.15" y="185.72" width="3.20" height="3.20" fill="#2e4a8c"/>
<g stroke="#2e4a8c" stroke-width="1" opacity="1"><line x1="109.38" y1="185.94" x2="109.38" y2="192.46"/><line x1="107.88" y1="185.94" x2="110.88" y2="185.94"/><line x1="107.88" y1="192.46" x2="110.88" y2="192.46"/></g>
<rect x="107.78" y="187.60" width="3.20" height="3.20" fill="#2e4a8c"/>
<g stroke="#2e4a8c" stroke-width="1" opacity="1"><line x1="119.00" y1="187.97" x2="119.00" y2="191.23"/><line x1="117.50" y1="187.97" x2="120.50" y2="187.97"/><line x1="117.50" y1="191.23" x2="120.50" y2="191.23"/></g>
<rect x="117.40" y="188.00" width="3.20" height="3.20" fill="#2e4a8c"/>
<rect x="127.03" y="203.16" width="3.20" height="3.20" fill="#2e4a8c"/>
<rect x="136.65" y="217.67" width="3.20" height="3.20" fill="#2e4a8c"/>
<rect x="146.28" y="221.99" width="3.20" height="3.20" fill="#2e4a8c"/>
<rect x="155.90" y="219.71" width="3.20" height="3.20" fill="#2e4a8c"/>
<rect x="165.53" y="222.72" width="3.20" height="3.20" fill="#2e4a8c"/>
<rect x="175.15" y="228.43" width="3.20" height="3.20" fill="#2e4a8c"/>
<rect x="184.78" y="236.98" width="3.20" height="3.20" fill="#2e4a8c"/>
<polyline points="90.12,189.03 91.33,189.03 92.53,189.03 93.73,189.04 94.94,189.04 96.14,189.04 97.34,189.04 98.55,189.04 99.75,189.05 100.95,189.05 102.16,189.06 103.36,189.07 104.56,189.08 105.77,189.10 106.97,189.12 108.17,189.15 109.38,189.19 110.58,189.25 111.78,189.32 112.98,189.42 114.19,189.56 115.39,189.74 116.59,189.98 117.80,190.31 119.00,190.74 120.20,191.31 121.41,192.05 122.61,193.01 123.81,194.23 125.02,195.76 126.22,197.62 127.42,199.83 128.62,202.37 129.83,205.17 131.03,208.14 132.23,211.15 133.44,214.06 134.64,216.76 135.84,219.16 137.05,221.22 138.25,222.94 139.45,224.33 140.66,225.43 141.86,226.29 143.06,226.95 144.27,227.46 145.47,227.84 146.67,228.13 147.88,228.34 149.08,228.51 150.28,228.62 151.48,228.71 152.69,228.78 153.89,228.83 155.09,228.86 156.30,228.89 157.50,228.91 158.70,228.93 159.91,228.94 161.11,228.94 162.31,228.95 163.52,228.96 164.72,228.96 165.92,228.96 167.12,228.96 168.33,228.96 169.53,228.96 170.73,228.97 171.94,228.97 173.14,228.97 174.34,228.97 175.55,228.97 176.75,228.97 177.95,228.97 179.16,228.97 180.36,228.97 181.56,228.97 182.77,228.97 183.97,228.97 185.17,228.97 186.38,228.97" fill="none" stroke="#2e4a8c" stroke-width="1.2" opacity="1"/>
<text x="86.00" y="247.60" font-size="5.0" font-family="Liberation Sans" fill="#3a62b0">IC<tspan font-size="3.3" dy="1.2">50</tspan><tspan dy="-1.2"> = 0.0054 µg/mL</tspan></text>
<text x="86.00" y="254.50" font-size="5.0" font-family="Liberation Sans" fill="#d23a3a">IC<tspan font-size="3.3" dy="1.2">50</tspan><tspan dy="-1.2"> = 12.1 µg/mL</tspan></text>
<g stroke="#f0aaa8" stroke-width="1" opacity="1"><line x1="267.12" y1="221.15" x2="267.12" y2="226.28"/><line x1="265.62" y1="221.15" x2="268.62" y2="221.15"/><line x1="265.62" y1="226.28" x2="268.62" y2="226.28"/></g>
<polygon points="265.37,222.44 268.88,222.44 267.12,225.47" fill="#f0aaa8"/>
<g stroke="#f0aaa8" stroke-width="1" opacity="1"><line x1="276.75" y1="222.43" x2="276.75" y2="227.57"/><line x1="275.25" y1="222.43" x2="278.25" y2="222.43"/><line x1="275.25" y1="227.57" x2="278.25" y2="227.57"/></g>
<polygon points="274.99,223.72 278.51,223.72 276.75,226.76" fill="#f0aaa8"/>
<g stroke="#f0aaa8" stroke-width="1" opacity="1"><line x1="286.38" y1="222.43" x2="286.38" y2="227.57"/><line x1="284.88" y1="222.43" x2="287.88" y2="222.43"/><line x1="284.88" y1="227.57" x2="287.88" y2="227.57"/></g>
<polygon points="284.62,223.72 288.13,223.72 286.38,226.76" fill="#f0aaa8"/>
<g stroke="#f0aaa8" stroke-width="1" opacity="1"><line x1="296.00" y1="221.15" x2="296.00" y2="226.28"/><line x1="294.50" y1="221.15" x2="297.50" y2="221.15"/><line x1="294.50" y1="226.28" x2="297.50" y2="226.28"/></g>
<polygon points="294.24,222.44 297.76,222.44 296.00,225.47" fill="#f0aaa8"/>
<g stroke="#f0aaa8" stroke-width="1" opacity="1"><line x1="305.62" y1="222.43" x2="305.62" y2="227.57"/><line x1="304.12" y1="222.43" x2="307.12" y2="222.43"/><line x1="304.12" y1="227.57" x2="307.12" y2="227.57"/></g>
<polygon points="303.87,223.72 307.38,223.72 305.62,226.76" fill="#f0aaa8"/>
<g stroke="#f0aaa8" stroke-width="1" opacity="1"><line x1="315.25" y1="221.15" x2="315.25" y2="226.28"/><line x1="313.75" y1="221.15" x2="316.75" y2="221.15"/><line x1="313.75" y1="226.28" x2="316.75" y2="226.28"/></g>
<polygon points="313.49,222.44 317.01,222.44 315.25,225.47" fill="#f0aaa8"/>
<g stroke="#f0aaa8" stroke-width="1" opacity="1"><line x1="324.88" y1="222.43" x2="324.88" y2="227.57"/><line x1="323.38" y1="222.43" x2="326.38" y2="222.43"/><line x1="323.38" y1="227.57" x2="326.38" y2="227.57"/></g>
<polygon points="323.12,223.72 326.63,223.72 324.88,226.76" fill="#f0aaa8"/>
<g stroke="#f0aaa8" stroke-width="1" opacity="1"><line x1="334.50" y1="222.43" x2="334.50" y2="227.57"/><line x1="333.00" y1="222.43" x2="336.00" y2="222.43"/><line x1="333.00" y1="227.57" x2="336.00" y2="227.57"/></g>
<polygon points="332.74,223.72 336.26,223.72 334.50,226.76" fill="#f0aaa8"/>
<g stroke="#f0aaa8" stroke-width="1" opacity="1"><line x1="344.12" y1="221.15" x2="344.12" y2="226.28"/><line x1="342.62" y1="221.15" x2="345.62" y2="221.15"/><line x1="342.62" y1="226.28" x2="345.62" y2="226.28"/></g>
<polygon points="342.37,222.44 345.88,222.44 344.12,225.47" fill="#f0aaa8"/>
<g stroke="#f0aaa8" stroke-width="1" opacity="1"><line x1="353.75" y1="223.72" x2="353.75" y2="228.85"/><line x1="352.25" y1="223.72" x2="355.25" y2="223.72"/><line x1="352.25" y1="228.85" x2="355.25" y2="228.85"/></g>
<polygon points="351.99,225.00 355.51,225.00 353.75,228.04" fill="#f0aaa8"/>
<g stroke="#f0aaa8" stroke-width="1" opacity="1"><line x1="363.38" y1="223.72" x2="363.38" y2="228.85"/><line x1="361.88" y1="223.72" x2="364.88" y2="223.72"/><line x1="361.88" y1="228.85" x2="364.88" y2="228.85"/></g>
<polygon points="361.62,225.00 365.13,225.00 363.38,228.04" fill="#f0aaa8"/>
<polyline points="267.12,225.00 268.33,225.00 269.53,225.00 270.73,225.00 271.94,225.00 273.14,225.00 274.34,225.00 275.55,225.00 276.75,225.00 277.95,225.00 279.16,225.00 280.36,225.00 281.56,225.00 282.77,225.00 283.97,225.00 285.17,225.00 286.38,225.00 287.58,225.00 288.78,225.00 289.98,225.00 291.19,225.00 292.39,225.00 293.59,225.00 294.80,225.00 296.00,225.00 297.20,225.00 298.41,225.00 299.61,225.00 300.81,225.00 302.02,225.00 303.22,225.00 304.42,225.00 305.62,225.00 306.83,225.00 308.03,225.00 309.23,225.00 310.44,225.00 311.64,225.00 312.84,225.00 314.05,225.00 315.25,225.00 316.45,225.00 317.66,225.00 318.86,225.00 320.06,225.00 321.27,225.00 322.47,225.00 323.67,225.00 324.88,225.00 326.08,225.00 327.28,225.00 328.48,225.00 329.69,225.00 330.89,225.00 332.09,225.00 333.30,225.00 334.50,225.00 335.70,225.00 336.91,225.00 338.11,225.00 339.31,225.00 340.52,225.00 341.72,225.00 342.92,225.00 344.12,225.00 345.33,225.00 346.53,225.00 347.73,225.00 348.94,225.00 350.14,225.00 351.34,225.00 352.55,225.00 353.75,225.00 354.95,225.00 356.16,225.00 357.36,225.00 358.56,225.00 359.77,225.00 360.97,225.00 362.17,225.00 363.38,225.00" fill="none" stroke="#f0aaa8" stroke-width="1.1" opacity="1"/>
<g stroke="#787878" stroke-width="1" opacity="1"><line x1="267.12" y1="224.23" x2="267.12" y2="228.34"/><line x1="265.62" y1="224.23" x2="268.62" y2="224.23"/><line x1="265.62" y1="228.34" x2="268.62" y2="228.34"/></g>
<polygon points="267.12,224.37 269.05,226.28 267.12,228.20 265.20,226.28" fill="#787878"/>
<g stroke="#787878" stroke-width="1" opacity="1"><line x1="276.75" y1="225.00" x2="276.75" y2="229.11"/><line x1="275.25" y1="225.00" x2="278.25" y2="225.00"/><line x1="275.25" y1="229.11" x2="278.25" y2="229.11"/></g>
<polygon points="276.75,225.14 278.67,227.06 276.75,228.98 274.83,227.06" fill="#787878"/>
<g stroke="#787878" stroke-width="1" opacity="1"><line x1="286.38" y1="223.46" x2="286.38" y2="227.57"/><line x1="284.88" y1="223.46" x2="287.88" y2="223.46"/><line x1="284.88" y1="227.57" x2="287.88" y2="227.57"/></g>
<polygon points="286.38,223.59 288.30,225.51 286.38,227.43 284.45,225.51" fill="#787878"/>
<g stroke="#787878" stroke-width="1" opacity="1"><line x1="296.00" y1="226.80" x2="296.00" y2="230.91"/><line x1="294.50" y1="226.80" x2="297.50" y2="226.80"/><line x1="294.50" y1="230.91" x2="297.50" y2="230.91"/></g>
<polygon points="296.00,226.94 297.92,228.85 296.00,230.77 294.08,228.85" fill="#787878"/>
<g stroke="#787878" stroke-width="1" opacity="1"><line x1="305.62" y1="229.37" x2="305.62" y2="233.48"/><line x1="304.12" y1="229.37" x2="307.12" y2="229.37"/><line x1="304.12" y1="233.48" x2="307.12" y2="233.48"/></g>
<polygon points="305.62,229.51 307.55,231.43 305.62,233.34 303.70,231.43" fill="#787878"/>
<g stroke="#787878" stroke-width="1" opacity="1"><line x1="315.25" y1="226.80" x2="315.25" y2="230.91"/><line x1="313.75" y1="226.80" x2="316.75" y2="226.80"/><line x1="313.75" y1="230.91" x2="316.75" y2="230.91"/></g>
<polygon points="315.25,226.94 317.17,228.85 315.25,230.77 313.33,228.85" fill="#787878"/>
<g stroke="#787878" stroke-width="1" opacity="1"><line x1="324.88" y1="226.80" x2="324.88" y2="230.91"/><line x1="323.38" y1="226.80" x2="326.38" y2="226.80"/><line x1="323.38" y1="230.91" x2="326.38" y2="230.91"/></g>
<polygon points="324.88,226.94 326.80,228.85 324.88,230.77 322.95,228.85" fill="#787878"/>
<g stroke="#787878" stroke-width="1" opacity="1"><line x1="334.50" y1="225.51" x2="334.50" y2="229.63"/><line x1="333.00" y1="225.51" x2="336.00" y2="225.51"/><line x1="333.00" y1="229.63" x2="336.00" y2="229.63"/></g>
<polygon points="334.50,225.65 336.42,227.57 334.50,229.49 332.58,227.57" fill="#787878"/>
<g stroke="#787878" stroke-width="1" opacity="1"><line x1="344.12" y1="225.51" x2="344.12" y2="229.63"/><line x1="342.62" y1="225.51" x2="345.62" y2="225.51"/><line x1="342.62" y1="229.63" x2="345.62" y2="229.63"/></g>
<polygon points="344.12,225.65 346.05,227.57 344.12,229.49 342.20,227.57" fill="#787878"/>
<g stroke="#787878" stroke-width="1" opacity="1"><line x1="353.75" y1="228.08" x2="353.75" y2="232.20"/><line x1="352.25" y1="228.08" x2="355.25" y2="228.08"/><line x1="352.25" y1="232.20" x2="355.25" y2="232.20"/></g>
<polygon points="353.75,228.22 355.67,230.14 353.75,232.06 351.83,230.14" fill="#787878"/>
<g stroke="#787878" stroke-width="1" opacity="1"><line x1="363.38" y1="229.37" x2="363.38" y2="233.48"/><line x1="361.88" y1="229.37" x2="364.88" y2="229.37"/><line x1="361.88" y1="233.48" x2="364.88" y2="233.48"/></g>
<polygon points="363.38,229.51 365.30,231.43 363.38,233.34 361.45,231.43" fill="#787878"/>
<polyline points="267.12,226.29 268.33,226.29 269.53,226.29 270.73,226.29 271.94,226.29 273.14,226.29 274.34,226.30 275.55,226.30 276.75,226.30 277.95,226.30 279.16,226.31 280.36,226.31 281.56,226.32 282.77,226.33 283.97,226.34 285.17,226.35 286.38,226.36 287.58,226.38 288.78,226.40 289.98,226.43 291.19,226.46 292.39,226.50 293.59,226.54 294.80,226.60 296.00,226.67 297.20,226.75 298.41,226.84 299.61,226.95 300.81,227.08 302.02,227.23 303.22,227.41 304.42,227.60 305.62,227.83 306.83,228.08 308.03,228.35 309.23,228.64 310.44,228.95 311.64,229.27 312.84,229.59 314.05,229.91 315.25,230.22 316.45,230.52 317.66,230.80 318.86,231.06 320.06,231.30 321.27,231.51 322.47,231.69 323.67,231.85 324.88,231.99 326.08,232.11 327.28,232.21 328.48,232.30 329.69,232.37 330.89,232.43 332.09,232.48 333.30,232.52 334.50,232.55 335.70,232.58 336.91,232.60 338.11,232.62 339.31,232.64 340.52,232.65 341.72,232.66 342.92,232.67 344.12,232.68 345.33,232.68 346.53,232.69 347.73,232.69 348.94,232.70 350.14,232.70 351.34,232.70 352.55,232.70 353.75,232.70 354.95,232.70 356.16,232.71 357.36,232.71 358.56,232.71 359.77,232.71 360.97,232.71 362.17,232.71 363.38,232.71" fill="none" stroke="#787878" stroke-width="1.1" opacity="1"/>
<g stroke="#a4c4de" stroke-width="1" opacity="1"><line x1="267.12" y1="225.00" x2="267.12" y2="230.14"/><line x1="265.62" y1="225.00" x2="268.62" y2="225.00"/><line x1="265.62" y1="230.14" x2="268.62" y2="230.14"/></g>
<circle cx="267.12" cy="227.57" r="1.60" fill="#a4c4de"/>
<g stroke="#a4c4de" stroke-width="1" opacity="1"><line x1="276.75" y1="226.28" x2="276.75" y2="231.42"/><line x1="275.25" y1="226.28" x2="278.25" y2="226.28"/><line x1="275.25" y1="231.42" x2="278.25" y2="231.42"/></g>
<circle cx="276.75" cy="228.85" r="1.60" fill="#a4c4de"/>
<g stroke="#a4c4de" stroke-width="1" opacity="1"><line x1="286.38" y1="223.72" x2="286.38" y2="228.85"/><line x1="284.88" y1="223.72" x2="287.88" y2="223.72"/><line x1="284.88" y1="228.85" x2="287.88" y2="228.85"/></g>
<circle cx="286.38" cy="226.28" r="1.60" fill="#a4c4de"/>
<g stroke="#a4c4de" stroke-width="1" opacity="1"><line x1="296.00" y1="222.43" x2="296.00" y2="227.57"/><line x1="294.50" y1="222.43" x2="297.50" y2="222.43"/><line x1="294.50" y1="227.57" x2="297.50" y2="227.57"/></g>
<circle cx="296.00" cy="225.00" r="1.60" fill="#a4c4de"/>
<g stroke="#a4c4de" stroke-width="1" opacity="1"><line x1="305.62" y1="223.72" x2="305.62" y2="228.85"/><line x1="304.12" y1="223.72" x2="307.12" y2="223.72"/><line x1="304.12" y1="228.85" x2="307.12" y2="228.85"/></g>
<circle cx="305.62" cy="226.28" r="1.60" fill="#a4c4de"/>
<g stroke="#a4c4de" stroke-width="1" opacity="1"><line x1="315.25" y1="225.00" x2="315.25" y2="230.14"/><line x1="313.75" y1="225.00" x2="316.75" y2="225.00"/><line x1="313.75" y1="230.14" x2="316.75" y2="230.14"/></g>
<circle cx="315.25" cy="227.57" r="1.60" fill="#a4c4de"/>
<g stroke="#a4c4de" stroke-width="1" opacity="1"><line x1="324.88" y1="225.00" x2="324.88" y2="230.14"/><line x1="323.38" y1="225.00" x2="326.38" y2="225.00"/><line x1="323.38" y1="230.14" x2="326.38" y2="230.14"/></g>
<circle cx="324.88" cy="227.57" r="1.60" fill="#a4c4de"/>
<g stroke="#a4c4de" stroke-width="1" opacity="1"><line x1="334.50" y1="226.28" x2="334.50" y2="231.42"/><line x1="333.00" y1="226.28" x2="336.00" y2="226.28"/><line x1="333.00" y1="231.42" x2="336.00" y2="231.42"/></g>
<circle cx="334.50" cy="228.85" r="1.60" fill="#a4c4de"/>
<g stroke="#a4c4de" stroke-width="1" opacity="1"><line x1="344.12" y1="226.28" x2="344.12" y2="231.42"/><line x1="342.62" y1="226.28" x2="345.62" y2="226.28"/><line x1="342.62" y1="231.42" x2="345.62" y2="231.42"/></g>
<circle cx="344.12" cy="228.85" r="1.60" fill="#a4c4de"/>
<g stroke="#a4c4de" stroke-width="1" opacity="1"><line x1="353.75" y1="227.57" x2="353.75" y2="232.71"/><line x1="352.25" y1="227.57" x2="355.25" y2="227.57"/><line x1="352.25" y1="232.71" x2="355.25" y2="232.71"/></g>
<circle cx="353.75" cy="230.14" r="1.60" fill="#a4c4de"/>
<g stroke="#a4c4de" stroke-width="1" opacity="1"><line x1="363.38" y1="228.86" x2="363.38" y2="234.00"/><line x1="361.88" y1="228.86" x2="364.88" y2="228.86"/><line x1="361.88" y1="234.00" x2="364.88" y2="234.00"/></g>
<circle cx="363.38" cy="231.43" r="1.60" fill="#a4c4de"/>
<polyline points="267.12,226.29 268.33,226.29 269.53,226.29 270.73,226.29 271.94,226.29 273.14,226.29 274.34,226.29 275.55,226.29 276.75,226.29 277.95,226.29 279.16,226.29 280.36,226.29 281.56,226.29 282.77,226.29 283.97,226.30 285.17,226.30 286.38,226.30 287.58,226.31 288.78,226.31 289.98,226.32 291.19,226.32 292.39,226.33 293.59,226.34 294.80,226.36 296.00,226.37 297.20,226.39 298.41,226.41 299.61,226.44 300.81,226.47 302.02,226.51 303.22,226.56 304.42,226.62 305.62,226.68 306.83,226.76 308.03,226.85 309.23,226.96 310.44,227.08 311.64,227.22 312.84,227.38 314.05,227.55 315.25,227.74 316.45,227.95 317.66,228.16 318.86,228.38 320.06,228.60 321.27,228.81 322.47,229.02 323.67,229.22 324.88,229.41 326.08,229.58 327.28,229.74 328.48,229.87 329.69,229.99 330.89,230.10 332.09,230.19 333.30,230.27 334.50,230.33 335.70,230.39 336.91,230.43 338.11,230.47 339.31,230.50 340.52,230.53 341.72,230.55 342.92,230.57 344.12,230.59 345.33,230.60 346.53,230.61 347.73,230.62 348.94,230.62 350.14,230.63 351.34,230.63 352.55,230.64 353.75,230.64 354.95,230.64 356.16,230.64 357.36,230.65 358.56,230.65 359.77,230.65 360.97,230.65 362.17,230.65 363.38,230.65" fill="none" stroke="#a4c4de" stroke-width="1.1" opacity="1"/>
<g stroke="#111111" stroke-width="1" opacity="1"><line x1="267.12" y1="225.77" x2="267.12" y2="228.34"/><line x1="265.62" y1="225.77" x2="268.62" y2="225.77"/><line x1="265.62" y1="228.34" x2="268.62" y2="228.34"/></g>
<polygon points="267.12,225.14 269.05,227.06 267.12,228.98 265.20,227.06" fill="#111111"/>
<g stroke="#111111" stroke-width="1" opacity="1"><line x1="276.75" y1="226.80" x2="276.75" y2="229.37"/><line x1="275.25" y1="226.80" x2="278.25" y2="226.80"/><line x1="275.25" y1="229.37" x2="278.25" y2="229.37"/></g>
<polygon points="276.75,226.16 278.67,228.08 276.75,230.00 274.83,228.08" fill="#111111"/>
<g stroke="#111111" stroke-width="1" opacity="1"><line x1="286.38" y1="234.00" x2="286.38" y2="236.56"/><line x1="284.88" y1="234.00" x2="287.88" y2="234.00"/><line x1="284.88" y1="236.56" x2="287.88" y2="236.56"/></g>
<polygon points="286.38,233.36 288.30,235.28 286.38,237.20 284.45,235.28" fill="#111111"/>
<g stroke="#111111" stroke-width="1" opacity="1"><line x1="296.00" y1="227.57" x2="296.00" y2="230.14"/><line x1="294.50" y1="227.57" x2="297.50" y2="227.57"/><line x1="294.50" y1="230.14" x2="297.50" y2="230.14"/></g>
<polygon points="296.00,226.94 297.92,228.85 296.00,230.77 294.08,228.85" fill="#111111"/>
<g stroke="#111111" stroke-width="1" opacity="1"><line x1="305.62" y1="232.71" x2="305.62" y2="235.28"/><line x1="304.12" y1="232.71" x2="307.12" y2="232.71"/><line x1="304.12" y1="235.28" x2="307.12" y2="235.28"/></g>
<polygon points="305.62,232.08 307.55,234.00 305.62,235.91 303.70,234.00" fill="#111111"/>
<g stroke="#111111" stroke-width="1" opacity="1"><line x1="315.25" y1="233.48" x2="315.25" y2="236.05"/><line x1="313.75" y1="233.48" x2="316.75" y2="233.48"/><line x1="313.75" y1="236.05" x2="316.75" y2="236.05"/></g>
<polygon points="315.25,232.85 317.17,234.77 315.25,236.69 313.33,234.77" fill="#111111"/>
<g stroke="#111111" stroke-width="1" opacity="1"><line x1="324.88" y1="233.48" x2="324.88" y2="236.05"/><line x1="323.38" y1="233.48" x2="326.38" y2="233.48"/><line x1="323.38" y1="236.05" x2="326.38" y2="236.05"/></g>
<polygon points="324.88,232.85 326.80,234.77 324.88,236.69 322.95,234.77" fill="#111111"/>
<g stroke="#111111" stroke-width="1" opacity="1"><line x1="334.50" y1="233.48" x2="334.50" y2="236.05"/><line x1="333.00" y1="233.48" x2="336.00" y2="233.48"/><line x1="333.00" y1="236.05" x2="336.00" y2="236.05"/></g>
<polygon points="334.50,232.85 336.42,234.77 334.50,236.69 332.58,234.77" fill="#111111"/>
<g stroke="#111111" stroke-width="1" opacity="1"><line x1="344.12" y1="232.97" x2="344.12" y2="235.54"/><line x1="342.62" y1="232.97" x2="345.62" y2="232.97"/><line x1="342.62" y1="235.54" x2="345.62" y2="235.54"/></g>
<polygon points="344.12,232.33 346.05,234.25 344.12,236.17 342.20,234.25" fill="#111111"/>
<g stroke="#111111" stroke-width="1" opacity="1"><line x1="353.75" y1="232.71" x2="353.75" y2="235.28"/><line x1="352.25" y1="232.71" x2="355.25" y2="232.71"/><line x1="352.25" y1="235.28" x2="355.25" y2="235.28"/></g>
<polygon points="353.75,232.08 355.67,234.00 353.75,235.91 351.83,234.00" fill="#111111"/>
<g stroke="#111111" stroke-width="1" opacity="1"><line x1="363.38" y1="233.22" x2="363.38" y2="235.79"/><line x1="361.88" y1="233.22" x2="364.88" y2="233.22"/><line x1="361.88" y1="235.79" x2="364.88" y2="235.79"/></g>
<polygon points="363.38,232.59 365.30,234.51 363.38,236.43 361.45,234.51" fill="#111111"/>
<polyline points="267.12,227.06 268.33,227.06 269.53,227.06 270.73,227.06 271.94,227.06 273.14,227.07 274.34,227.07 275.55,227.07 276.75,227.08 277.95,227.09 279.16,227.09 280.36,227.10 281.56,227.12 282.77,227.13 283.97,227.15 285.17,227.18 286.38,227.21 287.58,227.26 288.78,227.31 289.98,227.37 291.19,227.46 292.39,227.56 293.59,227.69 294.80,227.84 296.00,228.03 297.20,228.25 298.41,228.52 299.61,228.83 300.81,229.18 302.02,229.57 303.22,230.00 304.42,230.45 305.62,230.91 306.83,231.37 308.03,231.83 309.23,232.25 310.44,232.64 311.64,232.99 312.84,233.30 314.05,233.57 315.25,233.79 316.45,233.98 317.66,234.14 318.86,234.26 320.06,234.36 321.27,234.45 322.47,234.51 323.67,234.57 324.88,234.61 326.08,234.64 327.28,234.67 328.48,234.69 329.69,234.71 330.89,234.72 332.09,234.73 333.30,234.74 334.50,234.74 335.70,234.75 336.91,234.75 338.11,234.75 339.31,234.76 340.52,234.76 341.72,234.76 342.92,234.76 344.12,234.76 345.33,234.76 346.53,234.76 347.73,234.76 348.94,234.76 350.14,234.76 351.34,234.77 352.55,234.77 353.75,234.77 354.95,234.77 356.16,234.77 357.36,234.77 358.56,234.77 359.77,234.77 360.97,234.77 362.17,234.77 363.38,234.77" fill="none" stroke="#111111" stroke-width="1.1" opacity="1"/>
<g stroke="#cc2a38" stroke-width="1" opacity="1"><line x1="267.12" y1="226.03" x2="267.12" y2="230.14"/><line x1="265.62" y1="226.03" x2="268.62" y2="226.03"/><line x1="265.62" y1="230.14" x2="268.62" y2="230.14"/></g>
<polygon points="265.37,226.80 268.88,226.80 267.12,229.84" fill="#cc2a38"/>
<g stroke="#cc2a38" stroke-width="1" opacity="1"><line x1="276.75" y1="225.51" x2="276.75" y2="229.63"/><line x1="275.25" y1="225.51" x2="278.25" y2="225.51"/><line x1="275.25" y1="229.63" x2="278.25" y2="229.63"/></g>
<polygon points="274.99,226.29 278.51,226.29 276.75,229.33" fill="#cc2a38"/>
<g stroke="#cc2a38" stroke-width="1" opacity="1"><line x1="286.38" y1="226.03" x2="286.38" y2="230.14"/><line x1="284.88" y1="226.03" x2="287.88" y2="226.03"/><line x1="284.88" y1="230.14" x2="287.88" y2="230.14"/></g>
<polygon points="284.62,226.80 288.13,226.80 286.38,229.84" fill="#cc2a38"/>
<g stroke="#cc2a38" stroke-width="1" opacity="1"><line x1="296.00" y1="228.08" x2="296.00" y2="232.20"/><line x1="294.50" y1="228.08" x2="297.50" y2="228.08"/><line x1="294.50" y1="232.20" x2="297.50" y2="232.20"/></g>
<polygon points="294.24,228.86 297.76,228.86 296.00,231.90" fill="#cc2a38"/>
<g stroke="#cc2a38" stroke-width="1" opacity="1"><line x1="305.62" y1="228.60" x2="305.62" y2="232.71"/><line x1="304.12" y1="228.60" x2="307.12" y2="228.60"/><line x1="304.12" y1="232.71" x2="307.12" y2="232.71"/></g>
<polygon points="303.87,229.37 307.38,229.37 305.62,232.41" fill="#cc2a38"/>
<g stroke="#cc2a38" stroke-width="1" opacity="1"><line x1="315.25" y1="225.51" x2="315.25" y2="229.63"/><line x1="313.75" y1="225.51" x2="316.75" y2="225.51"/><line x1="313.75" y1="229.63" x2="316.75" y2="229.63"/></g>
<polygon points="313.49,226.29 317.01,226.29 315.25,229.33" fill="#cc2a38"/>
<g stroke="#cc2a38" stroke-width="1" opacity="1"><line x1="324.88" y1="224.23" x2="324.88" y2="228.34"/><line x1="323.38" y1="224.23" x2="326.38" y2="224.23"/><line x1="323.38" y1="228.34" x2="326.38" y2="228.34"/></g>
<polygon points="323.12,225.00 326.63,225.00 324.88,228.04" fill="#cc2a38"/>
<g stroke="#cc2a38" stroke-width="1" opacity="1"><line x1="334.50" y1="225.51" x2="334.50" y2="229.63"/><line x1="333.00" y1="225.51" x2="336.00" y2="225.51"/><line x1="333.00" y1="229.63" x2="336.00" y2="229.63"/></g>
<polygon points="332.74,226.29 336.26,226.29 334.50,229.33" fill="#cc2a38"/>
<g stroke="#cc2a38" stroke-width="1" opacity="1"><line x1="344.12" y1="219.86" x2="344.12" y2="223.97"/><line x1="342.62" y1="219.86" x2="345.62" y2="219.86"/><line x1="342.62" y1="223.97" x2="345.62" y2="223.97"/></g>
<polygon points="342.37,220.64 345.88,220.64 344.12,223.68" fill="#cc2a38"/>
<g stroke="#cc2a38" stroke-width="1" opacity="1"><line x1="353.75" y1="220.37" x2="353.75" y2="224.49"/><line x1="352.25" y1="220.37" x2="355.25" y2="220.37"/><line x1="352.25" y1="224.49" x2="355.25" y2="224.49"/></g>
<polygon points="351.99,221.15 355.51,221.15 353.75,224.19" fill="#cc2a38"/>
<g stroke="#cc2a38" stroke-width="1" opacity="1"><line x1="363.38" y1="219.86" x2="363.38" y2="223.97"/><line x1="361.88" y1="219.86" x2="364.88" y2="219.86"/><line x1="361.88" y1="223.97" x2="364.88" y2="223.97"/></g>
<polygon points="361.62,220.64 365.13,220.64 363.38,223.68" fill="#cc2a38"/>
<polyline points="267.12,228.08 268.33,228.08 269.53,228.08 270.73,228.08 271.94,228.08 273.14,228.08 274.34,228.08 275.55,228.08 276.75,228.08 277.95,228.08 279.16,228.08 280.36,228.08 281.56,228.08 282.77,228.08 283.97,228.08 285.17,228.08 286.38,228.08 287.58,228.08 288.78,228.08 289.98,228.08 291.19,228.08 292.39,228.08 293.59,228.08 294.80,228.08 296.00,228.08 297.20,228.08 298.41,228.08 299.61,228.08 300.81,228.08 302.02,228.08 303.22,228.08 304.42,228.08 305.62,228.08 306.83,228.08 308.03,228.07 309.23,228.07 310.44,228.07 311.64,228.06 312.84,228.05 314.05,228.04 315.25,228.02 316.45,228.00 317.66,227.97 318.86,227.93 320.06,227.88 321.27,227.81 322.47,227.72 323.67,227.60 324.88,227.45 326.08,227.26 327.28,227.03 328.48,226.74 329.69,226.41 330.89,226.03 332.09,225.62 333.30,225.20 334.50,224.77 335.70,224.37 336.91,224.01 338.11,223.69 339.31,223.42 340.52,223.19 341.72,223.02 342.92,222.87 344.12,222.77 345.33,222.68 346.53,222.62 347.73,222.57 348.94,222.53 350.14,222.51 351.34,222.49 352.55,222.47 353.75,222.46 354.95,222.45 356.16,222.45 357.36,222.44 358.56,222.44 359.77,222.44 360.97,222.44 362.17,222.43 363.38,222.43" fill="none" stroke="#cc2a38" stroke-width="1.1" opacity="1"/>
<g stroke="#2e4a8c" stroke-width="1" opacity="1"><line x1="267.12" y1="221.74" x2="267.12" y2="226.88"/><line x1="265.62" y1="221.74" x2="268.62" y2="221.74"/><line x1="265.62" y1="226.88" x2="268.62" y2="226.88"/></g>
<rect x="265.52" y="222.71" width="3.20" height="3.20" fill="#2e4a8c"/>
<g stroke="#2e4a8c" stroke-width="1" opacity="1"><line x1="276.75" y1="213.18" x2="276.75" y2="219.35"/><line x1="275.25" y1="213.18" x2="278.25" y2="213.18"/><line x1="275.25" y1="219.35" x2="278.25" y2="219.35"/></g>
<rect x="275.15" y="214.66" width="3.20" height="3.20" fill="#2e4a8c"/>
<g stroke="#2e4a8c" stroke-width="1" opacity="1"><line x1="286.38" y1="213.18" x2="286.38" y2="219.35"/><line x1="284.88" y1="213.18" x2="287.88" y2="213.18"/><line x1="284.88" y1="219.35" x2="287.88" y2="219.35"/></g>
<rect x="284.77" y="214.66" width="3.20" height="3.20" fill="#2e4a8c"/>
<g stroke="#2e4a8c" stroke-width="1" opacity="1"><line x1="296.00" y1="212.15" x2="296.00" y2="217.29"/><line x1="294.50" y1="212.15" x2="297.50" y2="212.15"/><line x1="294.50" y1="217.29" x2="297.50" y2="217.29"/></g>
<rect x="294.40" y="213.12" width="3.20" height="3.20" fill="#2e4a8c"/>
<g stroke="#2e4a8c" stroke-width="1" opacity="1"><line x1="305.62" y1="203.93" x2="305.62" y2="211.64"/><line x1="304.12" y1="203.93" x2="307.12" y2="203.93"/><line x1="304.12" y1="211.64" x2="307.12" y2="211.64"/></g>
<rect x="304.02" y="206.18" width="3.20" height="3.20" fill="#2e4a8c"/>
<g stroke="#2e4a8c" stroke-width="1" opacity="1"><line x1="315.25" y1="180.03" x2="315.25" y2="187.73"/><line x1="313.75" y1="180.03" x2="316.75" y2="180.03"/><line x1="313.75" y1="187.73" x2="316.75" y2="187.73"/></g>
<rect x="313.65" y="182.28" width="3.20" height="3.20" fill="#2e4a8c"/>
<g stroke="#2e4a8c" stroke-width="1" opacity="1"><line x1="324.88" y1="184.65" x2="324.88" y2="192.36"/><line x1="323.38" y1="184.65" x2="326.38" y2="184.65"/><line x1="323.38" y1="192.36" x2="326.38" y2="192.36"/></g>
<rect x="323.27" y="186.91" width="3.20" height="3.20" fill="#2e4a8c"/>
<g stroke="#2e4a8c" stroke-width="1" opacity="1"><line x1="334.50" y1="176.17" x2="334.50" y2="189.02"/><line x1="333.00" y1="176.17" x2="336.00" y2="176.17"/><line x1="333.00" y1="189.02" x2="336.00" y2="189.02"/></g>
<rect x="332.90" y="181.00" width="3.20" height="3.20" fill="#2e4a8c"/>
<g stroke="#2e4a8c" stroke-width="1" opacity="1"><line x1="344.12" y1="181.05" x2="344.12" y2="191.33"/><line x1="342.62" y1="181.05" x2="345.62" y2="181.05"/><line x1="342.62" y1="191.33" x2="345.62" y2="191.33"/></g>
<rect x="342.52" y="184.59" width="3.20" height="3.20" fill="#2e4a8c"/>
<g stroke="#2e4a8c" stroke-width="1" opacity="1"><line x1="353.75" y1="165.63" x2="353.75" y2="183.62"/><line x1="352.25" y1="165.63" x2="355.25" y2="165.63"/><line x1="352.25" y1="183.62" x2="355.25" y2="183.62"/></g>
<rect x="352.15" y="173.03" width="3.20" height="3.20" fill="#2e4a8c"/>
<g stroke="#2e4a8c" stroke-width="1" opacity="1"><line x1="363.38" y1="183.37" x2="363.38" y2="193.65"/><line x1="361.88" y1="183.37" x2="364.88" y2="183.37"/><line x1="361.88" y1="193.65" x2="364.88" y2="193.65"/></g>
<rect x="361.77" y="186.91" width="3.20" height="3.20" fill="#2e4a8c"/>
<polyline points="267.12,219.86 268.33,219.86 269.53,219.86 270.73,219.86 271.94,219.86 273.14,219.85 274.34,219.85 275.55,219.85 276.75,219.85 277.95,219.84 279.16,219.84 280.36,219.83 281.56,219.82 282.77,219.80 283.97,219.78 285.17,219.75 286.38,219.72 287.58,219.66 288.78,219.60 289.98,219.50 291.19,219.38 292.39,219.21 293.59,218.99 294.80,218.69 296.00,218.30 297.20,217.78 298.41,217.10 299.61,216.23 300.81,215.11 302.02,213.72 303.22,212.01 304.42,209.99 305.62,207.68 306.83,205.11 308.03,202.40 309.23,199.65 310.44,196.99 311.64,194.52 312.84,192.33 314.05,190.44 315.25,188.88 316.45,187.61 317.66,186.60 318.86,185.81 320.06,185.21 321.27,184.74 322.47,184.39 323.67,184.13 324.88,183.94 326.08,183.79 327.28,183.68 328.48,183.60 329.69,183.54 330.89,183.49 332.09,183.46 333.30,183.44 334.50,183.42 335.70,183.40 336.91,183.39 338.11,183.39 339.31,183.38 340.52,183.38 341.72,183.37 342.92,183.37 344.12,183.37 345.33,183.37 346.53,183.37 347.73,183.37 348.94,183.37 350.14,183.37 351.34,183.37 352.55,183.37 353.75,183.37 354.95,183.37 356.16,183.37 357.36,183.37 358.56,183.37 359.77,183.37 360.97,183.37 362.17,183.37 363.38,183.37" fill="none" stroke="#2e4a8c" stroke-width="1.2" opacity="1"/>
<text x="262.00" y="248.80" font-size="5.0" font-family="Liberation Sans" fill="#3a62b0">IC<tspan font-size="3.3" dy="1.2">50</tspan><tspan dy="-1.2"> = 0.0004 µg/mL</tspan></text>
<text x="262.00" y="255.50" font-size="5.0" font-family="Liberation Sans" fill="#d23a3a">IC<tspan font-size="3.3" dy="1.2">50</tspan><tspan dy="-1.2"> = 0.142 µg/mL</tspan></text>
<line x1="81.30" y1="327.00" x2="190.70" y2="327.00" stroke="#222" stroke-width="0.9" stroke-dasharray="1.2,1.4"/>
<circle cx="99.62" cy="301.81" r="1.10" fill="#787878"/>
<circle cx="118.94" cy="302.77" r="1.10" fill="#787878"/>
<circle cx="167.24" cy="306.97" r="1.10" fill="#787878"/>
<polyline points="89.96,324.61 91.17,324.61 92.38,324.61 93.58,324.61 94.79,324.61 96.00,324.61 97.21,324.61 98.41,324.61 99.62,324.61 100.83,324.61 102.03,324.61 103.24,324.61 104.45,324.61 105.66,324.61 106.87,324.61 108.07,324.61 109.28,324.61 110.49,324.61 111.70,324.61 112.90,324.61 114.11,324.61 115.32,324.61 116.53,324.61 117.73,324.61 118.94,324.61 120.15,324.61 121.36,324.61 122.56,324.61 123.77,324.62 124.98,324.62 126.19,324.62 127.39,324.62 128.60,324.63 129.81,324.63 131.01,324.64 132.22,324.65 133.43,324.67 134.64,324.69 135.84,324.72 137.05,324.76 138.26,324.81 139.47,324.88 140.68,324.97 141.88,325.09 143.09,325.25 144.30,325.46 145.50,325.74 146.71,326.09 147.92,326.53 149.13,327.08 150.34,327.73 151.54,328.50 152.75,329.36 153.96,330.29 155.16,331.25 156.37,332.19 157.58,333.09 158.79,333.90 160.00,334.60 161.20,335.19 162.41,335.68 163.62,336.07 164.82,336.37 166.03,336.61 167.24,336.79 168.45,336.93 169.66,337.03 170.86,337.11 172.07,337.17 173.28,337.21 174.49,337.24 175.69,337.27 176.90,337.29 178.11,337.30 179.31,337.31 180.52,337.32 181.73,337.32 182.94,337.32 184.15,337.33 185.35,337.33 186.56,337.33" fill="none" stroke="#f0aaa8" stroke-width="1.1" opacity="1"/>
<polygon points="88.64,323.46 91.28,323.46 89.96,325.74" fill="#f0aaa8"/>
<polygon points="98.30,324.75 100.94,324.75 99.62,327.03" fill="#f0aaa8"/>
<polygon points="107.96,324.10 110.60,324.10 109.28,326.38" fill="#f0aaa8"/>
<polygon points="117.62,323.46 120.26,323.46 118.94,325.74" fill="#f0aaa8"/>
<polygon points="127.28,320.87 129.92,320.87 128.60,323.15" fill="#f0aaa8"/>
<polygon points="136.94,324.75 139.58,324.75 138.26,327.03" fill="#f0aaa8"/>
<polygon points="146.60,327.98 149.24,327.98 147.92,330.26" fill="#f0aaa8"/>
<polygon points="156.26,332.50 158.90,332.50 157.58,334.78" fill="#f0aaa8"/>
<polygon points="165.92,335.08 168.56,335.08 167.24,337.36" fill="#f0aaa8"/>
<polygon points="175.58,336.38 178.22,336.38 176.90,338.66" fill="#f0aaa8"/>
<polygon points="185.24,336.38 187.88,336.38 186.56,338.66" fill="#f0aaa8"/>
<polyline points="89.96,324.61 91.17,324.61 92.38,324.61 93.58,324.61 94.79,324.61 96.00,324.61 97.21,324.61 98.41,324.61 99.62,324.61 100.83,324.61 102.03,324.61 103.24,324.62 104.45,324.62 105.66,324.62 106.87,324.62 108.07,324.63 109.28,324.64 110.49,324.65 111.70,324.66 112.90,324.68 114.11,324.70 115.32,324.73 116.53,324.78 117.73,324.84 118.94,324.91 120.15,325.02 121.36,325.16 122.56,325.34 123.77,325.58 124.98,325.89 126.19,326.29 127.39,326.78 128.60,327.40 129.81,328.13 131.01,328.98 132.22,329.94 133.43,330.96 134.64,332.00 135.84,333.03 137.05,333.99 138.26,334.86 139.47,335.61 140.68,336.24 141.88,336.76 143.09,337.17 144.30,337.49 145.50,337.74 146.71,337.93 147.92,338.07 149.13,338.18 150.34,338.26 151.54,338.32 152.75,338.37 153.96,338.40 155.16,338.43 156.37,338.45 157.58,338.46 158.79,338.47 160.00,338.48 161.20,338.48 162.41,338.49 163.62,338.49 164.82,338.49 166.03,338.49 167.24,338.50 168.45,338.50 169.66,338.50 170.86,338.50 172.07,338.50 173.28,338.50 174.49,338.50 175.69,338.50 176.90,338.50 178.11,338.50 179.31,338.50 180.52,338.50 181.73,338.50 182.94,338.50 184.15,338.50 185.35,338.50 186.56,338.50" fill="none" stroke="#a4c4de" stroke-width="1.1" opacity="1"/>
<circle cx="89.96" cy="325.71" r="1.20" fill="#a4c4de"/>
<circle cx="99.62" cy="332.17" r="1.20" fill="#a4c4de"/>
<circle cx="109.28" cy="328.94" r="1.20" fill="#a4c4de"/>
<circle cx="118.94" cy="332.17" r="1.20" fill="#a4c4de"/>
<circle cx="128.60" cy="333.46" r="1.20" fill="#a4c4de"/>
<circle cx="138.26" cy="336.69" r="1.20" fill="#a4c4de"/>
<circle cx="147.92" cy="337.98" r="1.20" fill="#a4c4de"/>
<circle cx="157.58" cy="338.63" r="1.20" fill="#a4c4de"/>
<circle cx="167.24" cy="337.98" r="1.20" fill="#a4c4de"/>
<circle cx="176.90" cy="337.34" r="1.20" fill="#a4c4de"/>
<circle cx="186.56" cy="338.63" r="1.20" fill="#a4c4de"/>
<circle cx="99.62" cy="318.93" r="1.30" fill="#111111"/>
<circle cx="109.28" cy="318.93" r="1.30" fill="#111111"/>
<circle cx="128.60" cy="338.63" r="1.30" fill="#111111"/>
<circle cx="138.26" cy="324.22" r="1.30" fill="#111111"/>
<circle cx="147.92" cy="315.44" r="1.30" fill="#111111"/>
<circle cx="157.58" cy="325.13" r="1.30" fill="#111111"/>
<circle cx="167.24" cy="332.75" r="1.30" fill="#111111"/>
<circle cx="176.90" cy="338.56" r="1.30" fill="#111111"/>
<circle cx="186.56" cy="325.84" r="1.30" fill="#111111"/>
<polyline points="89.96,322.29 91.17,322.29 92.38,322.30 93.58,322.30 94.79,322.30 96.00,322.30 97.21,322.31 98.41,322.31 99.62,322.32 100.83,322.33 102.03,322.34 103.24,322.35 104.45,322.37 105.66,322.38 106.87,322.41 108.07,322.43 109.28,322.47 110.49,322.51 111.70,322.55 112.90,322.61 114.11,322.68 115.32,322.76 116.53,322.86 117.73,322.98 118.94,323.11 120.15,323.28 121.36,323.46 122.56,323.68 123.77,323.92 124.98,324.19 126.19,324.49 127.39,324.81 128.60,325.16 129.81,325.52 131.01,325.89 132.22,326.27 133.43,326.63 134.64,326.99 135.84,327.33 137.05,327.64 138.26,327.93 139.47,328.19 140.68,328.42 141.88,328.62 143.09,328.79 144.30,328.94 145.50,329.07 146.71,329.18 147.92,329.27 149.13,329.35 150.34,329.41 151.54,329.47 152.75,329.51 153.96,329.55 155.16,329.58 156.37,329.60 157.58,329.62 158.79,329.64 160.00,329.65 161.20,329.66 162.41,329.67 163.62,329.68 164.82,329.69 166.03,329.69 167.24,329.69 168.45,329.70 169.66,329.70 170.86,329.70 172.07,329.70 173.28,329.71 174.49,329.71 175.69,329.71 176.90,329.71 178.11,329.71 179.31,329.71 180.52,329.71 181.73,329.71 182.94,329.71 184.15,329.71 185.35,329.71 186.56,329.71" fill="none" stroke="#111111" stroke-width="1.1" opacity="1"/>
<polyline points="89.96,333.40 91.17,333.40 92.38,333.40 93.58,333.40 94.79,333.40 96.00,333.40 97.21,333.40 98.41,333.40 99.62,333.40 100.83,333.40 102.03,333.40 103.24,333.40 104.45,333.40 105.66,333.40 106.87,333.40 108.07,333.40 109.28,333.40 110.49,333.40 111.70,333.40 112.90,333.40 114.11,333.40 115.32,333.40 116.53,333.40 117.73,333.40 118.94,333.40 120.15,333.41 121.36,333.41 122.56,333.42 123.77,333.42 124.98,333.43 126.19,333.45 127.39,333.46 128.60,333.49 129.81,333.52 131.01,333.56 132.22,333.62 133.43,333.70 134.64,333.80 135.84,333.93 137.05,334.11 138.26,334.34 139.47,334.64 140.68,335.02 141.88,335.49 143.09,336.05 144.30,336.72 145.50,337.48 146.71,338.31 147.92,339.18 149.13,340.04 150.34,340.87 151.54,341.63 152.75,342.30 153.96,342.87 155.16,343.34 156.37,343.71 157.58,344.01 158.79,344.24 160.00,344.42 161.20,344.56 162.41,344.66 163.62,344.74 164.82,344.79 166.03,344.84 167.24,344.87 168.45,344.89 169.66,344.91 170.86,344.92 172.07,344.93 173.28,344.94 174.49,344.94 175.69,344.95 176.90,344.95 178.11,344.95 179.31,344.95 180.52,344.96 181.73,344.96 182.94,344.96 184.15,344.96 185.35,344.96 186.56,344.96" fill="none" stroke="#cc2a38" stroke-width="1.1" opacity="1"/>
<polygon points="88.53,331.77 91.39,331.77 89.96,334.24" fill="#cc2a38"/>
<polygon points="98.19,332.42 101.05,332.42 99.62,334.89" fill="#cc2a38"/>
<polygon points="107.85,332.42 110.71,332.42 109.28,334.89" fill="#cc2a38"/>
<polygon points="117.51,332.42 120.37,332.42 118.94,334.89" fill="#cc2a38"/>
<polygon points="127.17,336.30 130.03,336.30 128.60,338.77" fill="#cc2a38"/>
<polygon points="136.83,341.46 139.69,341.46 138.26,343.93" fill="#cc2a38"/>
<polygon points="146.49,343.40 149.35,343.40 147.92,345.87" fill="#cc2a38"/>
<polygon points="156.15,343.40 159.01,343.40 157.58,345.87" fill="#cc2a38"/>
<polygon points="165.81,343.40 168.67,343.40 167.24,345.87" fill="#cc2a38"/>
<polygon points="175.47,344.05 178.33,344.05 176.90,346.52" fill="#cc2a38"/>
<polygon points="185.13,344.05 187.99,344.05 186.56,346.52" fill="#cc2a38"/>
<g stroke="#2e4a8c" stroke-width="1" opacity="1"><line x1="89.96" y1="321.83" x2="89.96" y2="332.17"/><line x1="88.46" y1="321.83" x2="91.46" y2="321.83"/><line x1="88.46" y1="332.17" x2="91.46" y2="332.17"/></g>
<rect x="88.36" y="325.40" width="3.20" height="3.20" fill="#2e4a8c"/>
<g stroke="#2e4a8c" stroke-width="1" opacity="1"><line x1="99.62" y1="307.94" x2="99.62" y2="318.28"/><line x1="98.12" y1="307.94" x2="101.12" y2="307.94"/><line x1="98.12" y1="318.28" x2="101.12" y2="318.28"/></g>
<rect x="98.02" y="311.51" width="3.20" height="3.20" fill="#2e4a8c"/>
<g stroke="#2e4a8c" stroke-width="1" opacity="1"><line x1="109.28" y1="334.75" x2="109.28" y2="350.26"/><line x1="107.78" y1="334.75" x2="110.78" y2="334.75"/><line x1="107.78" y1="350.26" x2="110.78" y2="350.26"/></g>
<rect x="107.68" y="340.90" width="3.20" height="3.20" fill="#2e4a8c"/>
<g stroke="#2e4a8c" stroke-width="1" opacity="1"><line x1="118.94" y1="318.15" x2="118.94" y2="343.99"/><line x1="117.44" y1="318.15" x2="120.44" y2="318.15"/><line x1="117.44" y1="343.99" x2="120.44" y2="343.99"/></g>
<rect x="117.34" y="329.47" width="3.20" height="3.20" fill="#2e4a8c"/>
<g stroke="#2e4a8c" stroke-width="1" opacity="1"><line x1="128.60" y1="352.58" x2="128.60" y2="359.04"/><line x1="127.10" y1="352.58" x2="130.10" y2="352.58"/><line x1="127.10" y1="359.04" x2="130.10" y2="359.04"/></g>
<rect x="127.00" y="354.21" width="3.20" height="3.20" fill="#2e4a8c"/>
<g stroke="#2e4a8c" stroke-width="1" opacity="1"><line x1="138.26" y1="363.18" x2="138.26" y2="373.51"/><line x1="136.76" y1="363.18" x2="139.76" y2="363.18"/><line x1="136.76" y1="373.51" x2="139.76" y2="373.51"/></g>
<rect x="136.66" y="366.74" width="3.20" height="3.20" fill="#2e4a8c"/>
<g stroke="#2e4a8c" stroke-width="1" opacity="1"><line x1="147.92" y1="354.58" x2="147.92" y2="377.84"/><line x1="146.42" y1="354.58" x2="149.42" y2="354.58"/><line x1="146.42" y1="377.84" x2="149.42" y2="377.84"/></g>
<rect x="146.32" y="364.61" width="3.20" height="3.20" fill="#2e4a8c"/>
<rect x="155.98" y="365.77" width="3.20" height="3.20" fill="#2e4a8c"/>
<rect x="165.64" y="364.61" width="3.20" height="3.20" fill="#2e4a8c"/>
<g stroke="#2e4a8c" stroke-width="1" opacity="1"><line x1="176.90" y1="351.48" x2="176.90" y2="377.32"/><line x1="175.40" y1="351.48" x2="178.40" y2="351.48"/><line x1="175.40" y1="377.32" x2="178.40" y2="377.32"/></g>
<rect x="175.30" y="362.80" width="3.20" height="3.20" fill="#2e4a8c"/>
<g stroke="#2e4a8c" stroke-width="1" opacity="1"><line x1="186.56" y1="352.26" x2="186.56" y2="375.51"/><line x1="185.06" y1="352.26" x2="188.06" y2="352.26"/><line x1="185.06" y1="375.51" x2="188.06" y2="375.51"/></g>
<rect x="184.96" y="362.29" width="3.20" height="3.20" fill="#2e4a8c"/>
<polyline points="89.96,323.52 91.17,323.52 92.38,323.52 93.58,323.52 94.79,323.53 96.00,323.53 97.21,323.54 98.41,323.55 99.62,323.56 100.83,323.58 102.03,323.60 103.24,323.64 104.45,323.68 105.66,323.74 106.87,323.82 108.07,323.93 109.28,324.08 110.49,324.27 111.70,324.53 112.90,324.88 114.11,325.35 115.32,325.96 116.53,326.75 117.73,327.78 118.94,329.09 120.15,330.73 121.36,332.73 122.56,335.11 123.77,337.83 124.98,340.84 126.19,344.03 127.39,347.26 128.60,350.39 129.81,353.29 131.01,355.87 132.22,358.09 133.43,359.93 134.64,361.42 135.84,362.61 137.05,363.53 138.26,364.24 139.47,364.79 140.68,365.20 141.88,365.51 143.09,365.74 144.30,365.91 145.50,366.04 146.71,366.13 147.92,366.20 149.13,366.26 150.34,366.30 151.54,366.32 152.75,366.35 153.96,366.36 155.16,366.37 156.37,366.38 157.58,366.39 158.79,366.39 160.00,366.40 161.20,366.40 162.41,366.40 163.62,366.40 164.82,366.40 166.03,366.40 167.24,366.40 168.45,366.40 169.66,366.41 170.86,366.41 172.07,366.41 173.28,366.41 174.49,366.41 175.69,366.41 176.90,366.41 178.11,366.41 179.31,366.41 180.52,366.41 181.73,366.41 182.94,366.41 184.15,366.41 185.35,366.41 186.56,366.41" fill="none" stroke="#2e4a8c" stroke-width="1.2" opacity="1"/>
<text x="86.00" y="380.80" font-size="5.0" font-family="Liberation Sans" fill="#3a62b0">IC<tspan font-size="3.3" dy="1.2">50</tspan><tspan dy="-1.2"> = 0.0013 µg/mL</tspan></text>
<text x="86.00" y="387.70" font-size="5.0" font-family="Liberation Sans" fill="#d23a3a">IC<tspan font-size="3.3" dy="1.2">50</tspan><tspan dy="-1.2"> = 0.035 µg/mL</tspan></text>
<line x1="258.50" y1="363.70" x2="368.70" y2="363.70" stroke="#555" stroke-width="0.8" stroke-dasharray="1.2,1.4"/>
<polygon points="265.80,333.96 268.66,333.96 267.23,336.43" fill="#f0aaa8"/>
<polygon points="294.99,323.46 297.85,323.46 296.42,325.93" fill="#f0aaa8"/>
<circle cx="267.23" cy="363.70" r="1.20" fill="#a4c4de"/>
<circle cx="276.96" cy="349.70" r="1.20" fill="#a4c4de"/>
<circle cx="286.69" cy="352.50" r="1.20" fill="#a4c4de"/>
<circle cx="296.42" cy="363.70" r="1.20" fill="#a4c4de"/>
<circle cx="325.61" cy="362.30" r="1.20" fill="#a4c4de"/>
<circle cx="335.34" cy="349.70" r="1.20" fill="#a4c4de"/>
<circle cx="345.07" cy="367.20" r="1.20" fill="#a4c4de"/>
<circle cx="354.80" cy="370.70" r="1.20" fill="#a4c4de"/>
<circle cx="364.53" cy="372.10" r="1.20" fill="#a4c4de"/>
<polyline points="267.23,358.10 268.45,358.10 269.66,358.10 270.88,358.10 272.09,358.10 273.31,358.10 274.53,358.10 275.74,358.10 276.96,358.10 278.18,358.10 279.39,358.10 280.61,358.10 281.82,358.10 283.04,358.10 284.26,358.10 285.47,358.10 286.69,358.10 287.91,358.10 289.12,358.10 290.34,358.10 291.56,358.10 292.77,358.10 293.99,358.10 295.20,358.10 296.42,358.10 297.64,358.10 298.85,358.10 300.07,358.10 301.29,358.10 302.50,358.10 303.72,358.10 304.93,358.10 306.15,358.10 307.37,358.10 308.58,358.10 309.80,358.10 311.01,358.10 312.23,358.10 313.45,358.10 314.66,358.10 315.88,358.10 317.10,358.10 318.31,358.10 319.53,358.10 320.75,358.10 321.96,358.10 323.18,358.10 324.39,358.10 325.61,358.10 326.83,358.10 328.04,358.10 329.26,358.10 330.48,358.10 331.69,358.10 332.91,358.10 334.12,358.10 335.34,358.10 336.56,358.10 337.77,358.10 338.99,358.10 340.20,358.10 341.42,358.10 342.64,358.10 343.85,358.10 345.07,358.10 346.29,358.10 347.50,358.10 348.72,358.10 349.94,358.10 351.15,358.10 352.37,358.10 353.58,358.10 354.80,358.10 356.02,358.10 357.23,358.10 358.45,358.10 359.67,358.10 360.88,358.10 362.10,358.10 363.31,358.10 364.53,358.10" fill="none" stroke="#f0aaa8" stroke-width="1.1" opacity="1"/>
<polyline points="267.23,363.70 268.45,363.70 269.66,363.70 270.88,363.70 272.09,363.70 273.31,363.70 274.53,363.70 275.74,363.70 276.96,363.70 278.18,363.70 279.39,363.70 280.61,363.70 281.82,363.70 283.04,363.70 284.26,363.70 285.47,363.70 286.69,363.70 287.91,363.70 289.12,363.70 290.34,363.70 291.56,363.70 292.77,363.70 293.99,363.70 295.20,363.70 296.42,363.70 297.64,363.70 298.85,363.70 300.07,363.71 301.29,363.71 302.50,363.71 303.72,363.72 304.93,363.72 306.15,363.73 307.37,363.74 308.58,363.75 309.80,363.77 311.01,363.80 312.23,363.83 313.45,363.88 314.66,363.94 315.88,364.03 317.10,364.14 318.31,364.29 319.53,364.49 320.75,364.76 321.96,365.11 323.18,365.56 324.39,366.14 325.61,366.87 326.83,367.77 328.04,368.86 329.26,370.12 330.48,371.54 331.69,373.07 332.91,374.65 334.12,376.21 335.34,377.69 336.56,379.02 337.77,380.19 338.99,381.16 340.20,381.97 341.42,382.61 342.64,383.11 343.85,383.50 345.07,383.80 346.29,384.03 347.50,384.20 348.72,384.33 349.94,384.42 351.15,384.50 352.37,384.55 353.58,384.59 354.80,384.62 356.02,384.64 357.23,384.65 358.45,384.67 359.67,384.68 360.88,384.68 362.10,384.69 363.31,384.69 364.53,384.69" fill="none" stroke="#a4c4de" stroke-width="1.1" opacity="1"/>
<polyline points="267.23,363.70 268.45,363.70 269.66,363.70 270.88,363.70 272.09,363.70 273.31,363.70 274.53,363.70 275.74,363.70 276.96,363.70 278.18,363.70 279.39,363.70 280.61,363.70 281.82,363.70 283.04,363.70 284.26,363.70 285.47,363.70 286.69,363.70 287.91,363.70 289.12,363.70 290.34,363.70 291.56,363.70 292.77,363.70 293.99,363.70 295.20,363.70 296.42,363.70 297.64,363.70 298.85,363.70 300.07,363.71 301.29,363.71 302.50,363.71 303.72,363.71 304.93,363.72 306.15,363.72 307.37,363.73 308.58,363.75 309.80,363.76 311.01,363.78 312.23,363.81 313.45,363.85 314.66,363.90 315.88,363.97 317.10,364.07 318.31,364.19 319.53,364.36 320.75,364.58 321.96,364.87 323.18,365.25 324.39,365.73 325.61,366.34 326.83,367.09 328.04,368.00 329.26,369.05 330.48,370.23 331.69,371.51 332.91,372.83 334.12,374.13 335.34,375.36 336.56,376.47 337.77,377.44 338.99,378.25 340.20,378.92 341.42,379.46 342.64,379.88 343.85,380.20 345.07,380.45 346.29,380.64 347.50,380.78 348.72,380.89 349.94,380.97 351.15,381.03 352.37,381.07 353.58,381.11 354.80,381.13 356.02,381.15 357.23,381.16 358.45,381.17 359.67,381.18 360.88,381.18 362.10,381.19 363.31,381.19 364.53,381.19" fill="none" stroke="#787878" stroke-width="1.1" opacity="1"/>
<polygon points="267.23,363.66 268.67,365.10 267.23,366.54 265.79,365.10" fill="#787878"/>
<polygon points="276.96,365.06 278.40,366.50 276.96,367.94 275.52,366.50" fill="#787878"/>
<polygon points="286.69,364.36 288.13,365.80 286.69,367.24 285.25,365.80" fill="#787878"/>
<polygon points="296.42,365.76 297.86,367.20 296.42,368.64 294.98,367.20" fill="#787878"/>
<polygon points="306.15,367.86 307.59,369.30 306.15,370.74 304.71,369.30" fill="#787878"/>
<polygon points="315.88,365.76 317.32,367.20 315.88,368.64 314.44,367.20" fill="#787878"/>
<polygon points="325.61,370.66 327.05,372.10 325.61,373.54 324.17,372.10" fill="#787878"/>
<polygon points="335.34,372.76 336.78,374.20 335.34,375.64 333.90,374.20" fill="#787878"/>
<polygon points="345.07,377.66 346.51,379.10 345.07,380.54 343.63,379.10" fill="#787878"/>
<polygon points="354.80,379.76 356.24,381.20 354.80,382.64 353.36,381.20" fill="#787878"/>
<polygon points="364.53,377.66 365.97,379.10 364.53,380.54 363.09,379.10" fill="#787878"/>
<circle cx="276.96" cy="374.20" r="1.30" fill="#111111"/>
<circle cx="286.69" cy="360.48" r="1.30" fill="#111111"/>
<circle cx="306.15" cy="389.60" r="1.30" fill="#111111"/>
<circle cx="315.88" cy="350.40" r="1.30" fill="#111111"/>
<circle cx="325.61" cy="347.60" r="1.30" fill="#111111"/>
<circle cx="354.80" cy="360.48" r="1.30" fill="#111111"/>
<circle cx="364.53" cy="374.90" r="1.30" fill="#111111"/>
<polyline points="267.23,366.15 268.45,366.15 269.66,366.15 270.88,366.15 272.09,366.15 273.31,366.15 274.53,366.15 275.74,366.15 276.96,366.15 278.18,366.15 279.39,366.15 280.61,366.15 281.82,366.15 283.04,366.15 284.26,366.15 285.47,366.15 286.69,366.15 287.91,366.15 289.12,366.15 290.34,366.14 291.56,366.14 292.77,366.14 293.99,366.14 295.20,366.14 296.42,366.13 297.64,366.13 298.85,366.13 300.07,366.12 301.29,366.12 302.50,366.11 303.72,366.10 304.93,366.09 306.15,366.07 307.37,366.06 308.58,366.04 309.80,366.02 311.01,365.99 312.23,365.95 313.45,365.92 314.66,365.87 315.88,365.81 317.10,365.75 318.31,365.68 319.53,365.60 320.75,365.51 321.96,365.41 323.18,365.30 324.39,365.19 325.61,365.07 326.83,364.94 328.04,364.82 329.26,364.70 330.48,364.58 331.69,364.47 332.91,364.37 334.12,364.28 335.34,364.19 336.56,364.12 337.77,364.05 338.99,364.00 340.20,363.95 341.42,363.91 342.64,363.87 343.85,363.84 345.07,363.82 346.29,363.80 347.50,363.78 348.72,363.77 349.94,363.75 351.15,363.74 352.37,363.74 353.58,363.73 354.80,363.72 356.02,363.72 357.23,363.72 358.45,363.71 359.67,363.71 360.88,363.71 362.10,363.71 363.31,363.71 364.53,363.70" fill="none" stroke="#111111" stroke-width="1.1" opacity="1"/>
<polygon points="275.53,371.76 278.39,371.76 276.96,374.23" fill="#cc2a38"/>
<polygon points="285.26,376.66 288.12,376.66 286.69,379.13" fill="#cc2a38"/>
<polygon points="294.99,371.76 297.85,371.76 296.42,374.23" fill="#cc2a38"/>
<polygon points="304.72,371.06 307.58,371.06 306.15,373.53" fill="#cc2a38"/>
<polyline points="267.23,372.80 268.45,372.80 269.66,372.80 270.88,372.80 272.09,372.80 273.31,372.80 274.53,372.80 275.74,372.80 276.96,372.80 278.18,372.80 279.39,372.80 280.61,372.80 281.82,372.80 283.04,372.80 284.26,372.80 285.47,372.80 286.69,372.80 287.91,372.79 289.12,372.79 290.34,372.79 291.56,372.79 292.77,372.79 293.99,372.78 295.20,372.78 296.42,372.78 297.64,372.77 298.85,372.76 300.07,372.75 301.29,372.74 302.50,372.73 303.72,372.72 304.93,372.70 306.15,372.68 307.37,372.65 308.58,372.62 309.80,372.58 311.01,372.53 312.23,372.47 313.45,372.39 314.66,372.31 315.88,372.20 317.10,372.07 318.31,371.91 319.53,371.73 320.75,371.50 321.96,371.24 323.18,370.92 324.39,370.55 325.61,370.12 326.83,369.62 328.04,369.04 329.26,368.39 330.48,367.67 331.69,366.87 332.91,366.00 334.12,365.08 335.34,364.12 336.56,363.14 337.77,362.16 338.99,361.19 340.20,360.25 341.42,359.37 342.64,358.55 343.85,357.81 345.07,357.13 346.29,356.54 347.50,356.02 348.72,355.57 349.94,355.18 351.15,354.85 352.37,354.57 353.58,354.33 354.80,354.14 356.02,353.97 357.23,353.84 358.45,353.72 359.67,353.63 360.88,353.55 362.10,353.49 363.31,353.44 364.53,353.39" fill="none" stroke="#cc2a38" stroke-width="1.1" opacity="1"/>
<rect x="265.63" y="361.89" width="3.20" height="3.20" fill="#2e4a8c"/>
<rect x="275.36" y="345.02" width="3.20" height="3.20" fill="#2e4a8c"/>
<rect x="285.09" y="350.90" width="3.20" height="3.20" fill="#2e4a8c"/>
<rect x="294.82" y="355.80" width="3.20" height="3.20" fill="#2e4a8c"/>
<rect x="304.55" y="360.00" width="3.20" height="3.20" fill="#2e4a8c"/>
<rect x="314.28" y="339.00" width="3.20" height="3.20" fill="#2e4a8c"/>
<rect x="324.01" y="321.50" width="3.20" height="3.20" fill="#2e4a8c"/>
<rect x="333.74" y="324.30" width="3.20" height="3.20" fill="#2e4a8c"/>
<rect x="343.47" y="330.60" width="3.20" height="3.20" fill="#2e4a8c"/>
<rect x="353.20" y="299.10" width="3.20" height="3.20" fill="#2e4a8c"/>
<rect x="362.93" y="316.60" width="3.20" height="3.20" fill="#2e4a8c"/>
<polyline points="267.23,358.80 268.45,358.80 269.66,358.79 270.88,358.79 272.09,358.79 273.31,358.79 274.53,358.79 275.74,358.78 276.96,358.78 278.18,358.77 279.39,358.77 280.61,358.76 281.82,358.75 283.04,358.74 284.26,358.72 285.47,358.70 286.69,358.68 287.91,358.65 289.12,358.61 290.34,358.57 291.56,358.51 292.77,358.44 293.99,358.35 295.20,358.24 296.42,358.11 297.64,357.94 298.85,357.73 300.07,357.47 301.29,357.16 302.50,356.77 303.72,356.30 304.93,355.72 306.15,355.03 307.37,354.20 308.58,353.22 309.80,352.06 311.01,350.72 312.23,349.19 313.45,347.48 314.66,345.58 315.88,343.53 317.10,341.37 318.31,339.14 319.53,336.90 320.75,334.69 321.96,332.57 323.18,330.59 324.39,328.77 325.61,327.13 326.83,325.68 328.04,324.42 329.26,323.34 330.48,322.42 331.69,321.66 332.91,321.02 334.12,320.49 335.34,320.05 336.56,319.70 337.77,319.41 338.99,319.18 340.20,318.99 341.42,318.83 342.64,318.71 343.85,318.61 345.07,318.53 346.29,318.46 347.50,318.41 348.72,318.37 349.94,318.34 351.15,318.31 352.37,318.29 353.58,318.27 354.80,318.26 356.02,318.24 357.23,318.24 358.45,318.23 359.67,318.22 360.88,318.22 362.10,318.21 363.31,318.21 364.53,318.21" fill="none" stroke="#2e4a8c" stroke-width="1.2" opacity="1"/>
<line x1="81.30" y1="452.50" x2="193.90" y2="452.50" stroke="#7a9a6a" stroke-width="0.7" stroke-dasharray="1,1.5"/>
<polyline points="90.24,452.47 91.48,452.46 92.72,452.45 93.97,452.44 95.21,452.43 96.45,452.42 97.70,452.40 98.94,452.37 100.18,452.35 101.42,452.31 102.66,452.27 103.91,452.23 105.15,452.17 106.39,452.10 107.64,452.02 108.88,451.92 110.12,451.80 111.36,451.67 112.61,451.51 113.85,451.33 115.09,451.13 116.33,450.90 117.57,450.65 118.82,450.38 120.06,450.09 121.30,449.79 122.54,449.48 123.79,449.16 125.03,448.86 126.27,448.56 127.52,448.27 128.76,448.01 130.00,447.77 131.24,447.55 132.49,447.36 133.73,447.19 134.97,447.05 136.21,446.92 137.45,446.81 138.70,446.72 139.94,446.64 141.18,446.58 142.43,446.53 143.67,446.48 144.91,446.45 146.15,446.42 147.39,446.39 148.64,446.37 149.88,446.35 151.12,446.34 152.37,446.33 153.61,446.32 154.85,446.31 156.09,446.30 157.33,446.30 158.58,446.29 159.82,446.29 161.06,446.29 162.31,446.29 163.55,446.28 164.79,446.28 166.03,446.28 167.27,446.28 168.52,446.28 169.76,446.28 171.00,446.28 172.25,446.28 173.49,446.28 174.73,446.28 175.97,446.28 177.21,446.28 178.46,446.28 179.70,446.28 180.94,446.28 182.19,446.28 183.43,446.28 184.67,446.28 185.91,446.28 187.16,446.28 188.40,446.28 189.64,446.28" fill="none" stroke="#c4bedc" stroke-width="1.1" opacity="1"/>
<g stroke="#c4bedc" stroke-width="1" opacity="1"><line x1="90.24" y1="450.01" x2="90.24" y2="454.99"/><line x1="88.74" y1="450.01" x2="91.74" y2="450.01"/><line x1="88.74" y1="454.99" x2="91.74" y2="454.99"/></g>
<circle cx="90.24" cy="452.50" r="1.60" fill="#c4bedc"/>
<g stroke="#c4bedc" stroke-width="1" opacity="1"><line x1="100.18" y1="448.35" x2="100.18" y2="453.33"/><line x1="98.68" y1="448.35" x2="101.68" y2="448.35"/><line x1="98.68" y1="453.33" x2="101.68" y2="453.33"/></g>
<circle cx="100.18" cy="450.84" r="1.60" fill="#c4bedc"/>
<g stroke="#c4bedc" stroke-width="1" opacity="1"><line x1="110.12" y1="447.52" x2="110.12" y2="452.50"/><line x1="108.62" y1="447.52" x2="111.62" y2="447.52"/><line x1="108.62" y1="452.50" x2="111.62" y2="452.50"/></g>
<circle cx="110.12" cy="450.01" r="1.60" fill="#c4bedc"/>
<g stroke="#c4bedc" stroke-width="1" opacity="1"><line x1="120.06" y1="447.52" x2="120.06" y2="452.50"/><line x1="118.56" y1="447.52" x2="121.56" y2="447.52"/><line x1="118.56" y1="452.50" x2="121.56" y2="452.50"/></g>
<circle cx="120.06" cy="450.01" r="1.60" fill="#c4bedc"/>
<g stroke="#c4bedc" stroke-width="1" opacity="1"><line x1="130.00" y1="445.03" x2="130.00" y2="450.01"/><line x1="128.50" y1="445.03" x2="131.50" y2="445.03"/><line x1="128.50" y1="450.01" x2="131.50" y2="450.01"/></g>
<circle cx="130.00" cy="447.52" r="1.60" fill="#c4bedc"/>
<g stroke="#c4bedc" stroke-width="1" opacity="1"><line x1="139.94" y1="442.54" x2="139.94" y2="447.52"/><line x1="138.44" y1="442.54" x2="141.44" y2="442.54"/><line x1="138.44" y1="447.52" x2="141.44" y2="447.52"/></g>
<circle cx="139.94" cy="445.03" r="1.60" fill="#c4bedc"/>
<g stroke="#c4bedc" stroke-width="1" opacity="1"><line x1="149.88" y1="440.88" x2="149.88" y2="447.52"/><line x1="148.38" y1="440.88" x2="151.38" y2="440.88"/><line x1="148.38" y1="447.52" x2="151.38" y2="447.52"/></g>
<circle cx="149.88" cy="444.20" r="1.60" fill="#c4bedc"/>
<g stroke="#c4bedc" stroke-width="1" opacity="1"><line x1="159.82" y1="434.24" x2="159.82" y2="442.54"/><line x1="158.32" y1="434.24" x2="161.32" y2="434.24"/><line x1="158.32" y1="442.54" x2="161.32" y2="442.54"/></g>
<circle cx="159.82" cy="438.39" r="1.60" fill="#c4bedc"/>
<g stroke="#c4bedc" stroke-width="1" opacity="1"><line x1="169.76" y1="437.14" x2="169.76" y2="443.78"/><line x1="168.26" y1="437.14" x2="171.26" y2="437.14"/><line x1="168.26" y1="443.78" x2="171.26" y2="443.78"/></g>
<circle cx="169.76" cy="440.46" r="1.60" fill="#c4bedc"/>
<g stroke="#c4bedc" stroke-width="1" opacity="1"><line x1="179.70" y1="442.54" x2="179.70" y2="447.52"/><line x1="178.20" y1="442.54" x2="181.20" y2="442.54"/><line x1="178.20" y1="447.52" x2="181.20" y2="447.52"/></g>
<circle cx="179.70" cy="445.03" r="1.60" fill="#c4bedc"/>
<g stroke="#c4bedc" stroke-width="1" opacity="1"><line x1="189.64" y1="451.67" x2="189.64" y2="456.65"/><line x1="188.14" y1="451.67" x2="191.14" y2="451.67"/><line x1="188.14" y1="456.65" x2="191.14" y2="456.65"/></g>
<circle cx="189.64" cy="454.16" r="1.60" fill="#c4bedc"/>
<polyline points="90.24,453.75 91.48,453.75 92.72,453.75 93.97,453.75 95.21,453.75 96.45,453.75 97.70,453.75 98.94,453.75 100.18,453.75 101.42,453.75 102.66,453.75 103.91,453.75 105.15,453.75 106.39,453.75 107.64,453.75 108.88,453.75 110.12,453.75 111.36,453.75 112.61,453.75 113.85,453.75 115.09,453.75 116.33,453.75 117.57,453.75 118.82,453.75 120.06,453.75 121.30,453.75 122.54,453.75 123.79,453.75 125.03,453.75 126.27,453.75 127.52,453.75 128.76,453.75 130.00,453.75 131.24,453.75 132.49,453.75 133.73,453.75 134.97,453.75 136.21,453.75 137.45,453.75 138.70,453.75 139.94,453.75 141.18,453.75 142.43,453.75 143.67,453.75 144.91,453.75 146.15,453.75 147.39,453.75 148.64,453.75 149.88,453.75 151.12,453.75 152.37,453.75 153.61,453.75 154.85,453.75 156.09,453.75 157.33,453.75 158.58,453.75 159.82,453.75 161.06,453.75 162.31,453.75 163.55,453.75 164.79,453.75 166.03,453.75 167.27,453.75 168.52,453.75 169.76,453.75 171.00,453.75 172.25,453.75 173.49,453.75 174.73,453.75 175.97,453.75 177.21,453.75 178.46,453.75 179.70,453.75 180.94,453.75 182.19,453.75 183.43,453.75 184.67,453.75 185.91,453.75 187.16,453.75 188.40,453.75 189.64,453.75" fill="none" stroke="#a4c4de" stroke-width="1.1" opacity="1"/>
<g stroke="#a4c4de" stroke-width="1" opacity="1"><line x1="90.24" y1="451.67" x2="90.24" y2="454.99"/><line x1="88.74" y1="451.67" x2="91.74" y2="451.67"/><line x1="88.74" y1="454.99" x2="91.74" y2="454.99"/></g>
<circle cx="90.24" cy="453.33" r="1.60" fill="#a4c4de"/>
<g stroke="#a4c4de" stroke-width="1" opacity="1"><line x1="100.18" y1="455.49" x2="100.18" y2="458.81"/><line x1="98.68" y1="455.49" x2="101.68" y2="455.49"/><line x1="98.68" y1="458.81" x2="101.68" y2="458.81"/></g>
<circle cx="100.18" cy="457.15" r="1.60" fill="#a4c4de"/>
<g stroke="#a4c4de" stroke-width="1" opacity="1"><line x1="110.12" y1="454.99" x2="110.12" y2="458.31"/><line x1="108.62" y1="454.99" x2="111.62" y2="454.99"/><line x1="108.62" y1="458.31" x2="111.62" y2="458.31"/></g>
<circle cx="110.12" cy="456.65" r="1.60" fill="#a4c4de"/>
<g stroke="#a4c4de" stroke-width="1" opacity="1"><line x1="120.06" y1="451.67" x2="120.06" y2="454.99"/><line x1="118.56" y1="451.67" x2="121.56" y2="451.67"/><line x1="118.56" y1="454.99" x2="121.56" y2="454.99"/></g>
<circle cx="120.06" cy="453.33" r="1.60" fill="#a4c4de"/>
<g stroke="#a4c4de" stroke-width="1" opacity="1"><line x1="130.00" y1="450.84" x2="130.00" y2="454.16"/><line x1="128.50" y1="450.84" x2="131.50" y2="450.84"/><line x1="128.50" y1="454.16" x2="131.50" y2="454.16"/></g>
<circle cx="130.00" cy="452.50" r="1.60" fill="#a4c4de"/>
<g stroke="#a4c4de" stroke-width="1" opacity="1"><line x1="139.94" y1="451.67" x2="139.94" y2="454.99"/><line x1="138.44" y1="451.67" x2="141.44" y2="451.67"/><line x1="138.44" y1="454.99" x2="141.44" y2="454.99"/></g>
<circle cx="139.94" cy="453.33" r="1.60" fill="#a4c4de"/>
<g stroke="#a4c4de" stroke-width="1" opacity="1"><line x1="149.88" y1="450.84" x2="149.88" y2="454.16"/><line x1="148.38" y1="450.84" x2="151.38" y2="450.84"/><line x1="148.38" y1="454.16" x2="151.38" y2="454.16"/></g>
<circle cx="149.88" cy="452.50" r="1.60" fill="#a4c4de"/>
<g stroke="#a4c4de" stroke-width="1" opacity="1"><line x1="159.82" y1="447.60" x2="159.82" y2="450.92"/><line x1="158.32" y1="447.60" x2="161.32" y2="447.60"/><line x1="158.32" y1="450.92" x2="161.32" y2="450.92"/></g>
<circle cx="159.82" cy="449.26" r="1.60" fill="#a4c4de"/>
<g stroke="#a4c4de" stroke-width="1" opacity="1"><line x1="169.76" y1="448.10" x2="169.76" y2="451.42"/><line x1="168.26" y1="448.10" x2="171.26" y2="448.10"/><line x1="168.26" y1="451.42" x2="171.26" y2="451.42"/></g>
<circle cx="169.76" cy="449.76" r="1.60" fill="#a4c4de"/>
<g stroke="#a4c4de" stroke-width="1" opacity="1"><line x1="179.70" y1="450.84" x2="179.70" y2="454.16"/><line x1="178.20" y1="450.84" x2="181.20" y2="450.84"/><line x1="178.20" y1="454.16" x2="181.20" y2="454.16"/></g>
<circle cx="179.70" cy="452.50" r="1.60" fill="#a4c4de"/>
<g stroke="#a4c4de" stroke-width="1" opacity="1"><line x1="189.64" y1="457.31" x2="189.64" y2="460.63"/><line x1="188.14" y1="457.31" x2="191.14" y2="457.31"/><line x1="188.14" y1="460.63" x2="191.14" y2="460.63"/></g>
<circle cx="189.64" cy="458.97" r="1.60" fill="#a4c4de"/>
<g stroke="#7e3276" stroke-width="1" opacity="1"><line x1="90.24" y1="449.51" x2="90.24" y2="454.49"/><line x1="88.74" y1="449.51" x2="91.74" y2="449.51"/><line x1="88.74" y1="454.49" x2="91.74" y2="454.49"/></g>
<circle cx="90.24" cy="452.00" r="1.60" fill="#7e3276"/>
<g stroke="#7e3276" stroke-width="1" opacity="1"><line x1="100.18" y1="442.12" x2="100.18" y2="447.11"/><line x1="98.68" y1="442.12" x2="101.68" y2="442.12"/><line x1="98.68" y1="447.11" x2="101.68" y2="447.11"/></g>
<circle cx="100.18" cy="444.62" r="1.60" fill="#7e3276"/>
<g stroke="#7e3276" stroke-width="1" opacity="1"><line x1="110.12" y1="444.95" x2="110.12" y2="449.93"/><line x1="108.62" y1="444.95" x2="111.62" y2="444.95"/><line x1="108.62" y1="449.93" x2="111.62" y2="449.93"/></g>
<circle cx="110.12" cy="447.44" r="1.60" fill="#7e3276"/>
<g stroke="#7e3276" stroke-width="1" opacity="1"><line x1="120.06" y1="446.11" x2="120.06" y2="451.09"/><line x1="118.56" y1="446.11" x2="121.56" y2="446.11"/><line x1="118.56" y1="451.09" x2="121.56" y2="451.09"/></g>
<circle cx="120.06" cy="448.60" r="1.60" fill="#7e3276"/>
<g stroke="#7e3276" stroke-width="1" opacity="1"><line x1="130.00" y1="454.16" x2="130.00" y2="459.14"/><line x1="128.50" y1="454.16" x2="131.50" y2="454.16"/><line x1="128.50" y1="459.14" x2="131.50" y2="459.14"/></g>
<circle cx="130.00" cy="456.65" r="1.60" fill="#7e3276"/>
<g stroke="#7e3276" stroke-width="1" opacity="1"><line x1="139.94" y1="457.65" x2="139.94" y2="462.63"/><line x1="138.44" y1="457.65" x2="141.44" y2="457.65"/><line x1="138.44" y1="462.63" x2="141.44" y2="462.63"/></g>
<circle cx="139.94" cy="460.14" r="1.60" fill="#7e3276"/>
<g stroke="#7e3276" stroke-width="1" opacity="1"><line x1="149.88" y1="456.90" x2="149.88" y2="461.88"/><line x1="148.38" y1="456.90" x2="151.38" y2="456.90"/><line x1="148.38" y1="461.88" x2="151.38" y2="461.88"/></g>
<circle cx="149.88" cy="459.39" r="1.60" fill="#7e3276"/>
<g stroke="#7e3276" stroke-width="1" opacity="1"><line x1="159.82" y1="460.63" x2="159.82" y2="465.61"/><line x1="158.32" y1="460.63" x2="161.32" y2="460.63"/><line x1="158.32" y1="465.61" x2="161.32" y2="465.61"/></g>
<circle cx="159.82" cy="463.12" r="1.60" fill="#7e3276"/>
<g stroke="#7e3276" stroke-width="1" opacity="1"><line x1="169.76" y1="462.21" x2="169.76" y2="467.19"/><line x1="168.26" y1="462.21" x2="171.26" y2="462.21"/><line x1="168.26" y1="467.19" x2="171.26" y2="467.19"/></g>
<circle cx="169.76" cy="464.70" r="1.60" fill="#7e3276"/>
<g stroke="#7e3276" stroke-width="1" opacity="1"><line x1="179.70" y1="472.17" x2="179.70" y2="477.15"/><line x1="178.20" y1="472.17" x2="181.20" y2="472.17"/><line x1="178.20" y1="477.15" x2="181.20" y2="477.15"/></g>
<circle cx="179.70" cy="474.66" r="1.60" fill="#7e3276"/>
<g stroke="#7e3276" stroke-width="1" opacity="1"><line x1="189.64" y1="478.40" x2="189.64" y2="483.38"/><line x1="188.14" y1="478.40" x2="191.14" y2="478.40"/><line x1="188.14" y1="483.38" x2="191.14" y2="483.38"/></g>
<circle cx="189.64" cy="480.89" r="1.60" fill="#7e3276"/>
<polyline points="90.24,451.67 91.48,451.67 92.72,451.67 93.97,451.67 95.21,451.67 96.45,451.67 97.70,451.67 98.94,451.67 100.18,451.67 101.42,451.67 102.66,451.67 103.91,451.67 105.15,451.67 106.39,451.67 107.64,451.67 108.88,451.67 110.12,451.67 111.36,451.67 112.61,451.67 113.85,451.67 115.09,451.67 116.33,451.67 117.57,451.67 118.82,451.67 120.06,451.67 121.30,451.67 122.54,451.67 123.79,451.68 125.03,451.68 126.27,451.68 127.52,451.68 128.76,451.68 130.00,451.69 131.24,451.69 132.49,451.70 133.73,451.71 134.97,451.72 136.21,451.73 137.45,451.75 138.70,451.77 139.94,451.80 141.18,451.83 142.43,451.88 143.67,451.93 144.91,452.00 146.15,452.09 147.39,452.21 148.64,452.35 149.88,452.53 151.12,452.76 152.37,453.04 153.61,453.38 154.85,453.81 156.09,454.33 157.33,454.96 158.58,455.72 159.82,456.60 161.06,457.62 162.31,458.78 163.55,460.06 164.79,461.44 166.03,462.90 167.27,464.38 168.52,465.85 169.76,467.26 171.00,468.59 172.25,469.80 173.49,470.88 174.73,471.83 175.97,472.64 177.21,473.32 178.46,473.88 179.70,474.35 180.94,474.73 182.19,475.04 183.43,475.29 184.67,475.48 185.91,475.64 187.16,475.77 188.40,475.87 189.64,475.95" fill="none" stroke="#7e3276" stroke-width="1.1" opacity="1"/>
<g stroke="#2e4a8c" stroke-width="1" opacity="1"><line x1="90.24" y1="448.43" x2="90.24" y2="453.41"/><line x1="88.74" y1="448.43" x2="91.74" y2="448.43"/><line x1="88.74" y1="453.41" x2="91.74" y2="453.41"/></g>
<rect x="88.64" y="449.32" width="3.20" height="3.20" fill="#2e4a8c"/>
<rect x="98.58" y="447.66" width="3.20" height="3.20" fill="#2e4a8c"/>
<g stroke="#2e4a8c" stroke-width="1" opacity="1"><line x1="110.12" y1="448.10" x2="110.12" y2="451.42"/><line x1="108.62" y1="448.10" x2="111.62" y2="448.10"/><line x1="108.62" y1="451.42" x2="111.62" y2="451.42"/></g>
<rect x="108.52" y="448.16" width="3.20" height="3.20" fill="#2e4a8c"/>
<g stroke="#2e4a8c" stroke-width="1" opacity="1"><line x1="120.06" y1="448.10" x2="120.06" y2="451.42"/><line x1="118.56" y1="448.10" x2="121.56" y2="448.10"/><line x1="118.56" y1="451.42" x2="121.56" y2="451.42"/></g>
<rect x="118.46" y="448.16" width="3.20" height="3.20" fill="#2e4a8c"/>
<rect x="128.40" y="463.85" width="3.20" height="3.20" fill="#2e4a8c"/>
<rect x="138.34" y="478.62" width="3.20" height="3.20" fill="#2e4a8c"/>
<rect x="148.28" y="482.27" width="3.20" height="3.20" fill="#2e4a8c"/>
<rect x="158.22" y="480.45" width="3.20" height="3.20" fill="#2e4a8c"/>
<g stroke="#2e4a8c" stroke-width="1" opacity="1"><line x1="169.76" y1="483.87" x2="169.76" y2="487.19"/><line x1="168.26" y1="483.87" x2="171.26" y2="483.87"/><line x1="168.26" y1="487.19" x2="171.26" y2="487.19"/></g>
<rect x="168.16" y="483.93" width="3.20" height="3.20" fill="#2e4a8c"/>
<g stroke="#2e4a8c" stroke-width="1" opacity="1"><line x1="179.70" y1="489.19" x2="179.70" y2="492.51"/><line x1="178.20" y1="489.19" x2="181.20" y2="489.19"/><line x1="178.20" y1="492.51" x2="181.20" y2="492.51"/></g>
<rect x="178.10" y="489.25" width="3.20" height="3.20" fill="#2e4a8c"/>
<rect x="188.04" y="497.79" width="3.20" height="3.20" fill="#2e4a8c"/>
<polyline points="90.24,449.77 91.48,449.77 92.72,449.77 93.97,449.77 95.21,449.77 96.45,449.78 97.70,449.78 98.94,449.79 100.18,449.80 101.42,449.81 102.66,449.82 103.91,449.83 105.15,449.85 106.39,449.88 107.64,449.92 108.88,449.96 110.12,450.02 111.36,450.09 112.61,450.18 113.85,450.30 115.09,450.45 116.33,450.65 117.57,450.90 118.82,451.21 120.06,451.60 121.30,452.10 122.54,452.72 123.79,453.49 125.03,454.43 126.27,455.57 127.52,456.93 128.76,458.53 130.00,460.37 131.24,462.44 132.49,464.71 133.73,467.11 134.97,469.60 136.21,472.08 137.45,474.49 138.70,476.75 139.94,478.82 141.18,480.66 142.43,482.26 143.67,483.63 144.91,484.77 146.15,485.71 147.39,486.48 148.64,487.10 149.88,487.59 151.12,487.99 152.37,488.30 153.61,488.55 154.85,488.74 156.09,488.89 157.33,489.01 158.58,489.11 159.82,489.18 161.06,489.24 162.31,489.28 163.55,489.31 164.79,489.34 166.03,489.36 167.27,489.38 168.52,489.39 169.76,489.40 171.00,489.41 172.25,489.41 173.49,489.42 174.73,489.42 175.97,489.43 177.21,489.43 178.46,489.43 179.70,489.43 180.94,489.43 182.19,489.43 183.43,489.43 184.67,489.43 185.91,489.43 187.16,489.43 188.40,489.43 189.64,489.43" fill="none" stroke="#2e4a8c" stroke-width="1.2" opacity="1"/>
<text x="86.00" y="507.20" font-size="5.0" font-family="Liberation Sans" fill="#8b4a90">IC<tspan font-size="3.3" dy="1.2">50</tspan><tspan dy="-1.2"> = 0.51 µg/mL</tspan></text>
<text x="86.00" y="514.30" font-size="5.0" font-family="Liberation Sans" fill="#3a62b0">IC<tspan font-size="3.3" dy="1.2">50</tspan><tspan dy="-1.2"> = 0.0054 µg/mL</tspan></text>
<line x1="259.30" y1="494.10" x2="371.50" y2="494.10" stroke="#7a9a6a" stroke-width="0.7" stroke-dasharray="1,1.5"/>
<g stroke="#c4bedc" stroke-width="1" opacity="1"><line x1="268.21" y1="490.35" x2="268.21" y2="497.85"/><line x1="266.71" y1="490.35" x2="269.71" y2="490.35"/><line x1="266.71" y1="497.85" x2="269.71" y2="497.85"/></g>
<circle cx="268.21" cy="494.10" r="1.60" fill="#c4bedc"/>
<g stroke="#c4bedc" stroke-width="1" opacity="1"><line x1="278.11" y1="492.85" x2="278.11" y2="500.35"/><line x1="276.61" y1="492.85" x2="279.61" y2="492.85"/><line x1="276.61" y1="500.35" x2="279.61" y2="500.35"/></g>
<circle cx="278.11" cy="496.60" r="1.60" fill="#c4bedc"/>
<g stroke="#c4bedc" stroke-width="1" opacity="1"><line x1="288.01" y1="491.60" x2="288.01" y2="499.10"/><line x1="286.51" y1="491.60" x2="289.51" y2="491.60"/><line x1="286.51" y1="499.10" x2="289.51" y2="499.10"/></g>
<circle cx="288.01" cy="495.35" r="1.60" fill="#c4bedc"/>
<g stroke="#c4bedc" stroke-width="1" opacity="1"><line x1="297.92" y1="489.10" x2="297.92" y2="496.60"/><line x1="296.42" y1="489.10" x2="299.42" y2="489.10"/><line x1="296.42" y1="496.60" x2="299.42" y2="496.60"/></g>
<circle cx="297.92" cy="492.85" r="1.60" fill="#c4bedc"/>
<g stroke="#c4bedc" stroke-width="1" opacity="1"><line x1="307.82" y1="491.60" x2="307.82" y2="499.10"/><line x1="306.32" y1="491.60" x2="309.32" y2="491.60"/><line x1="306.32" y1="499.10" x2="309.32" y2="499.10"/></g>
<circle cx="307.82" cy="495.35" r="1.60" fill="#c4bedc"/>
<g stroke="#c4bedc" stroke-width="1" opacity="1"><line x1="317.73" y1="490.35" x2="317.73" y2="497.85"/><line x1="316.23" y1="490.35" x2="319.23" y2="490.35"/><line x1="316.23" y1="497.85" x2="319.23" y2="497.85"/></g>
<circle cx="317.73" cy="494.10" r="1.60" fill="#c4bedc"/>
<g stroke="#c4bedc" stroke-width="1" opacity="1"><line x1="327.63" y1="490.35" x2="327.63" y2="497.85"/><line x1="326.13" y1="490.35" x2="329.13" y2="490.35"/><line x1="326.13" y1="497.85" x2="329.13" y2="497.85"/></g>
<circle cx="327.63" cy="494.10" r="1.60" fill="#c4bedc"/>
<g stroke="#c4bedc" stroke-width="1" opacity="1"><line x1="337.54" y1="489.10" x2="337.54" y2="496.60"/><line x1="336.04" y1="489.10" x2="339.04" y2="489.10"/><line x1="336.04" y1="496.60" x2="339.04" y2="496.60"/></g>
<circle cx="337.54" cy="492.85" r="1.60" fill="#c4bedc"/>
<g stroke="#c4bedc" stroke-width="1" opacity="1"><line x1="347.44" y1="481.60" x2="347.44" y2="489.10"/><line x1="345.94" y1="481.60" x2="348.94" y2="481.60"/><line x1="345.94" y1="489.10" x2="348.94" y2="489.10"/></g>
<circle cx="347.44" cy="485.35" r="1.60" fill="#c4bedc"/>
<g stroke="#c4bedc" stroke-width="1" opacity="1"><line x1="357.35" y1="485.60" x2="357.35" y2="493.10"/><line x1="355.85" y1="485.60" x2="358.85" y2="485.60"/><line x1="355.85" y1="493.10" x2="358.85" y2="493.10"/></g>
<circle cx="357.35" cy="489.35" r="1.60" fill="#c4bedc"/>
<g stroke="#c4bedc" stroke-width="1" opacity="1"><line x1="367.25" y1="490.35" x2="367.25" y2="497.85"/><line x1="365.75" y1="490.35" x2="368.75" y2="490.35"/><line x1="365.75" y1="497.85" x2="368.75" y2="497.85"/></g>
<circle cx="367.25" cy="494.10" r="1.60" fill="#c4bedc"/>
<g stroke="#a4c4de" stroke-width="1" opacity="1"><line x1="268.21" y1="491.60" x2="268.21" y2="499.10"/><line x1="266.71" y1="491.60" x2="269.71" y2="491.60"/><line x1="266.71" y1="499.10" x2="269.71" y2="499.10"/></g>
<circle cx="268.21" cy="495.35" r="1.60" fill="#a4c4de"/>
<g stroke="#a4c4de" stroke-width="1" opacity="1"><line x1="278.11" y1="492.85" x2="278.11" y2="500.35"/><line x1="276.61" y1="492.85" x2="279.61" y2="492.85"/><line x1="276.61" y1="500.35" x2="279.61" y2="500.35"/></g>
<circle cx="278.11" cy="496.60" r="1.60" fill="#a4c4de"/>
<g stroke="#a4c4de" stroke-width="1" opacity="1"><line x1="288.01" y1="494.10" x2="288.01" y2="501.60"/><line x1="286.51" y1="494.10" x2="289.51" y2="494.10"/><line x1="286.51" y1="501.60" x2="289.51" y2="501.60"/></g>
<circle cx="288.01" cy="497.85" r="1.60" fill="#a4c4de"/>
<g stroke="#a4c4de" stroke-width="1" opacity="1"><line x1="297.92" y1="490.35" x2="297.92" y2="497.85"/><line x1="296.42" y1="490.35" x2="299.42" y2="490.35"/><line x1="296.42" y1="497.85" x2="299.42" y2="497.85"/></g>
<circle cx="297.92" cy="494.10" r="1.60" fill="#a4c4de"/>
<g stroke="#a4c4de" stroke-width="1" opacity="1"><line x1="307.82" y1="492.85" x2="307.82" y2="500.35"/><line x1="306.32" y1="492.85" x2="309.32" y2="492.85"/><line x1="306.32" y1="500.35" x2="309.32" y2="500.35"/></g>
<circle cx="307.82" cy="496.60" r="1.60" fill="#a4c4de"/>
<g stroke="#a4c4de" stroke-width="1" opacity="1"><line x1="317.73" y1="491.60" x2="317.73" y2="499.10"/><line x1="316.23" y1="491.60" x2="319.23" y2="491.60"/><line x1="316.23" y1="499.10" x2="319.23" y2="499.10"/></g>
<circle cx="317.73" cy="495.35" r="1.60" fill="#a4c4de"/>
<g stroke="#a4c4de" stroke-width="1" opacity="1"><line x1="327.63" y1="492.85" x2="327.63" y2="500.35"/><line x1="326.13" y1="492.85" x2="329.13" y2="492.85"/><line x1="326.13" y1="500.35" x2="329.13" y2="500.35"/></g>
<circle cx="327.63" cy="496.60" r="1.60" fill="#a4c4de"/>
<g stroke="#a4c4de" stroke-width="1" opacity="1"><line x1="337.54" y1="494.10" x2="337.54" y2="501.60"/><line x1="336.04" y1="494.10" x2="339.04" y2="494.10"/><line x1="336.04" y1="501.60" x2="339.04" y2="501.60"/></g>
<circle cx="337.54" cy="497.85" r="1.60" fill="#a4c4de"/>
<g stroke="#a4c4de" stroke-width="1" opacity="1"><line x1="347.44" y1="494.10" x2="347.44" y2="501.60"/><line x1="345.94" y1="494.10" x2="348.94" y2="494.10"/><line x1="345.94" y1="501.60" x2="348.94" y2="501.60"/></g>
<circle cx="347.44" cy="497.85" r="1.60" fill="#a4c4de"/>
<g stroke="#a4c4de" stroke-width="1" opacity="1"><line x1="357.35" y1="492.85" x2="357.35" y2="500.35"/><line x1="355.85" y1="492.85" x2="358.85" y2="492.85"/><line x1="355.85" y1="500.35" x2="358.85" y2="500.35"/></g>
<circle cx="357.35" cy="496.60" r="1.60" fill="#a4c4de"/>
<g stroke="#a4c4de" stroke-width="1" opacity="1"><line x1="367.25" y1="495.35" x2="367.25" y2="502.85"/><line x1="365.75" y1="495.35" x2="368.75" y2="495.35"/><line x1="365.75" y1="502.85" x2="368.75" y2="502.85"/></g>
<circle cx="367.25" cy="499.10" r="1.60" fill="#a4c4de"/>
<polyline points="268.21,494.10 269.44,494.10 270.68,494.10 271.92,494.10 273.16,494.10 274.40,494.10 275.63,494.10 276.87,494.10 278.11,494.10 279.35,494.10 280.59,494.10 281.82,494.10 283.06,494.10 284.30,494.10 285.54,494.10 286.78,494.10 288.01,494.11 289.25,494.11 290.49,494.11 291.73,494.11 292.97,494.11 294.21,494.11 295.44,494.12 296.68,494.12 297.92,494.13 299.16,494.13 300.40,494.14 301.63,494.15 302.87,494.16 304.11,494.17 305.35,494.18 306.59,494.20 307.82,494.22 309.06,494.25 310.30,494.28 311.54,494.32 312.78,494.36 314.02,494.42 315.25,494.48 316.49,494.56 317.73,494.65 318.97,494.75 320.21,494.87 321.44,495.00 322.68,495.15 323.92,495.31 325.16,495.49 326.40,495.67 327.63,495.87 328.87,496.07 330.11,496.27 331.35,496.47 332.59,496.66 333.83,496.84 335.06,497.01 336.30,497.16 337.54,497.30 338.78,497.42 340.02,497.53 341.25,497.62 342.49,497.70 343.73,497.76 344.97,497.82 346.21,497.87 347.44,497.91 348.68,497.94 349.92,497.97 351.16,497.99 352.40,498.01 353.64,498.03 354.87,498.04 356.11,498.05 357.35,498.06 358.59,498.07 359.83,498.07 361.06,498.08 362.30,498.08 363.54,498.09 364.78,498.09 366.02,498.09 367.25,498.09" fill="none" stroke="#a4c4de" stroke-width="1.1" opacity="1"/>
<g stroke="#7e3276" stroke-width="1" opacity="1"><line x1="268.21" y1="492.60" x2="268.21" y2="496.60"/><line x1="266.71" y1="492.60" x2="269.71" y2="492.60"/><line x1="266.71" y1="496.60" x2="269.71" y2="496.60"/></g>
<rect x="266.61" y="493.00" width="3.20" height="3.20" fill="#7e3276"/>
<g stroke="#7e3276" stroke-width="1" opacity="1"><line x1="278.11" y1="497.98" x2="278.11" y2="501.98"/><line x1="276.61" y1="497.98" x2="279.61" y2="497.98"/><line x1="276.61" y1="501.98" x2="279.61" y2="501.98"/></g>
<rect x="276.51" y="498.38" width="3.20" height="3.20" fill="#7e3276"/>
<g stroke="#7e3276" stroke-width="1" opacity="1"><line x1="288.01" y1="493.85" x2="288.01" y2="497.85"/><line x1="286.51" y1="493.85" x2="289.51" y2="493.85"/><line x1="286.51" y1="497.85" x2="289.51" y2="497.85"/></g>
<rect x="286.41" y="494.25" width="3.20" height="3.20" fill="#7e3276"/>
<g stroke="#7e3276" stroke-width="1" opacity="1"><line x1="297.92" y1="487.35" x2="297.92" y2="491.35"/><line x1="296.42" y1="487.35" x2="299.42" y2="487.35"/><line x1="296.42" y1="491.35" x2="299.42" y2="491.35"/></g>
<rect x="296.32" y="487.75" width="3.20" height="3.20" fill="#7e3276"/>
<g stroke="#7e3276" stroke-width="1" opacity="1"><line x1="307.82" y1="476.10" x2="307.82" y2="481.10"/><line x1="306.32" y1="476.10" x2="309.32" y2="476.10"/><line x1="306.32" y1="481.10" x2="309.32" y2="481.10"/></g>
<rect x="306.22" y="477.00" width="3.20" height="3.20" fill="#7e3276"/>
<g stroke="#7e3276" stroke-width="1" opacity="1"><line x1="317.73" y1="474.35" x2="317.73" y2="479.35"/><line x1="316.23" y1="474.35" x2="319.23" y2="474.35"/><line x1="316.23" y1="479.35" x2="319.23" y2="479.35"/></g>
<rect x="316.13" y="475.25" width="3.20" height="3.20" fill="#7e3276"/>
<g stroke="#7e3276" stroke-width="1" opacity="1"><line x1="327.63" y1="472.60" x2="327.63" y2="478.60"/><line x1="326.13" y1="472.60" x2="329.13" y2="472.60"/><line x1="326.13" y1="478.60" x2="329.13" y2="478.60"/></g>
<rect x="326.03" y="474.00" width="3.20" height="3.20" fill="#7e3276"/>
<g stroke="#7e3276" stroke-width="1" opacity="1"><line x1="337.54" y1="470.85" x2="337.54" y2="478.35"/><line x1="336.04" y1="470.85" x2="339.04" y2="470.85"/><line x1="336.04" y1="478.35" x2="339.04" y2="478.35"/></g>
<rect x="335.94" y="473.00" width="3.20" height="3.20" fill="#7e3276"/>
<g stroke="#7e3276" stroke-width="1" opacity="1"><line x1="347.44" y1="476.60" x2="347.44" y2="480.60"/><line x1="345.94" y1="476.60" x2="348.94" y2="476.60"/><line x1="345.94" y1="480.60" x2="348.94" y2="480.60"/></g>
<rect x="345.84" y="477.00" width="3.20" height="3.20" fill="#7e3276"/>
<g stroke="#7e3276" stroke-width="1" opacity="1"><line x1="357.35" y1="478.85" x2="357.35" y2="481.85"/><line x1="355.85" y1="478.85" x2="358.85" y2="478.85"/><line x1="355.85" y1="481.85" x2="358.85" y2="481.85"/></g>
<rect x="355.75" y="478.75" width="3.20" height="3.20" fill="#7e3276"/>
<polyline points="268.21,497.60 269.44,497.60 270.68,497.59 271.92,497.59 273.16,497.59 274.40,497.59 275.63,497.58 276.87,497.58 278.11,497.57 279.35,497.55 280.59,497.54 281.82,497.52 283.06,497.49 284.30,497.45 285.54,497.40 286.78,497.33 288.01,497.23 289.25,497.11 290.49,496.94 291.73,496.72 292.97,496.43 294.21,496.06 295.44,495.58 296.68,494.98 297.92,494.24 299.16,493.35 300.40,492.32 301.63,491.18 302.87,489.95 304.11,488.68 305.35,487.44 306.59,486.28 307.82,485.24 309.06,484.33 310.30,483.57 311.54,482.95 312.78,482.45 314.02,482.07 315.25,481.77 316.49,481.54 317.73,481.36 318.97,481.23 320.21,481.13 321.44,481.06 322.68,481.01 323.92,480.97 325.16,480.94 326.40,480.91 327.63,480.90 328.87,480.88 330.11,480.88 331.35,480.87 332.59,480.86 333.83,480.86 335.06,480.86 336.30,480.86 337.54,480.85 338.78,480.85 340.02,480.85 341.25,480.85 342.49,480.85 343.73,480.85 344.97,480.85 346.21,480.85 347.44,480.85 348.68,480.85 349.92,480.85 351.16,480.85 352.40,480.85 353.64,480.85 354.87,480.85 356.11,480.85 357.35,480.85 358.59,480.85 359.83,480.85 361.06,480.85 362.30,480.85 363.54,480.85 364.78,480.85 366.02,480.85 367.25,480.85" fill="none" stroke="#7e3276" stroke-width="1.1" opacity="1"/>
<circle cx="367.25" cy="500.85" r="1.50" fill="#3a3a6a"/>
<g stroke="#2e4a8c" stroke-width="1" opacity="1"><line x1="268.21" y1="491.98" x2="268.21" y2="495.98"/><line x1="266.71" y1="491.98" x2="269.71" y2="491.98"/><line x1="266.71" y1="495.98" x2="269.71" y2="495.98"/></g>
<circle cx="268.21" cy="493.98" r="1.60" fill="#2e4a8c"/>
<g stroke="#2e4a8c" stroke-width="1" opacity="1"><line x1="278.11" y1="482.45" x2="278.11" y2="488.45"/><line x1="276.61" y1="482.45" x2="279.61" y2="482.45"/><line x1="276.61" y1="488.45" x2="279.61" y2="488.45"/></g>
<circle cx="278.11" cy="485.45" r="1.60" fill="#2e4a8c"/>
<g stroke="#2e4a8c" stroke-width="1" opacity="1"><line x1="288.01" y1="482.25" x2="288.01" y2="487.25"/><line x1="286.51" y1="482.25" x2="289.51" y2="482.25"/><line x1="286.51" y1="487.25" x2="289.51" y2="487.25"/></g>
<circle cx="288.01" cy="484.75" r="1.60" fill="#2e4a8c"/>
<g stroke="#2e4a8c" stroke-width="1" opacity="1"><line x1="297.92" y1="481.35" x2="297.92" y2="486.35"/><line x1="296.42" y1="481.35" x2="299.42" y2="481.35"/><line x1="296.42" y1="486.35" x2="299.42" y2="486.35"/></g>
<circle cx="297.92" cy="483.85" r="1.60" fill="#2e4a8c"/>
<g stroke="#2e4a8c" stroke-width="1" opacity="1"><line x1="307.82" y1="473.20" x2="307.82" y2="479.20"/><line x1="306.32" y1="473.20" x2="309.32" y2="473.20"/><line x1="306.32" y1="479.20" x2="309.32" y2="479.20"/></g>
<circle cx="307.82" cy="476.20" r="1.60" fill="#2e4a8c"/>
<g stroke="#2e4a8c" stroke-width="1" opacity="1"><line x1="317.73" y1="450.98" x2="317.73" y2="458.48"/><line x1="316.23" y1="450.98" x2="319.23" y2="450.98"/><line x1="316.23" y1="458.48" x2="319.23" y2="458.48"/></g>
<circle cx="317.73" cy="454.73" r="1.60" fill="#2e4a8c"/>
<g stroke="#2e4a8c" stroke-width="1" opacity="1"><line x1="327.63" y1="454.68" x2="327.63" y2="462.18"/><line x1="326.13" y1="454.68" x2="329.13" y2="454.68"/><line x1="326.13" y1="462.18" x2="329.13" y2="462.18"/></g>
<circle cx="327.63" cy="458.43" r="1.60" fill="#2e4a8c"/>
<g stroke="#2e4a8c" stroke-width="1" opacity="1"><line x1="337.54" y1="446.85" x2="337.54" y2="459.35"/><line x1="336.04" y1="446.85" x2="339.04" y2="446.85"/><line x1="336.04" y1="459.35" x2="339.04" y2="459.35"/></g>
<circle cx="337.54" cy="453.10" r="1.60" fill="#2e4a8c"/>
<g stroke="#2e4a8c" stroke-width="1" opacity="1"><line x1="347.44" y1="453.35" x2="347.44" y2="460.85"/><line x1="345.94" y1="453.35" x2="348.94" y2="453.35"/><line x1="345.94" y1="460.85" x2="348.94" y2="460.85"/></g>
<circle cx="347.44" cy="457.10" r="1.60" fill="#2e4a8c"/>
<g stroke="#2e4a8c" stroke-width="1" opacity="1"><line x1="357.35" y1="436.73" x2="357.35" y2="454.23"/><line x1="355.85" y1="436.73" x2="358.85" y2="436.73"/><line x1="355.85" y1="454.23" x2="358.85" y2="454.23"/></g>
<circle cx="357.35" cy="445.48" r="1.60" fill="#2e4a8c"/>
<g stroke="#2e4a8c" stroke-width="1" opacity="1"><line x1="367.25" y1="453.85" x2="367.25" y2="463.85"/><line x1="365.75" y1="453.85" x2="368.75" y2="453.85"/><line x1="365.75" y1="463.85" x2="368.75" y2="463.85"/></g>
<circle cx="367.25" cy="458.85" r="1.60" fill="#2e4a8c"/>
<polyline points="268.21,488.85 269.44,488.85 270.68,488.85 271.92,488.85 273.16,488.85 274.40,488.84 275.63,488.84 276.87,488.84 278.11,488.84 279.35,488.83 280.59,488.82 281.82,488.81 283.06,488.80 284.30,488.78 285.54,488.76 286.78,488.73 288.01,488.69 289.25,488.63 290.49,488.55 291.73,488.45 292.97,488.31 294.21,488.12 295.44,487.88 296.68,487.54 297.92,487.11 299.16,486.53 300.40,485.78 301.63,484.82 302.87,483.61 304.11,482.11 305.35,480.30 306.59,478.18 307.82,475.79 309.06,473.20 310.30,470.51 311.54,467.84 312.78,465.31 314.02,463.01 315.25,461.00 316.49,459.29 317.73,457.89 318.97,456.77 320.21,455.89 321.44,455.20 322.68,454.68 323.92,454.28 325.16,453.98 326.40,453.76 327.63,453.59 328.87,453.46 330.11,453.37 331.35,453.30 332.59,453.25 333.83,453.21 335.06,453.18 336.30,453.16 337.54,453.14 338.78,453.13 340.02,453.12 341.25,453.12 342.49,453.11 343.73,453.11 344.97,453.11 346.21,453.11 347.44,453.10 348.68,453.10 349.92,453.10 351.16,453.10 352.40,453.10 353.64,453.10 354.87,453.10 356.11,453.10 357.35,453.10 358.59,453.10 359.83,453.10 361.06,453.10 362.30,453.10 363.54,453.10 364.78,453.10 366.02,453.10 367.25,453.10" fill="none" stroke="#2e4a8c" stroke-width="1.2" opacity="1"/>
<text x="261.50" y="427.70" font-size="5.0" font-family="Liberation Sans" fill="#8b4a90">IC<tspan font-size="3.3" dy="1.2">50</tspan><tspan dy="-1.2"> = 0.58 µg/mL</tspan></text>
<text x="261.50" y="435.30" font-size="5.0" font-family="Liberation Sans" fill="#3a62b0">IC<tspan font-size="3.3" dy="1.2">50</tspan><tspan dy="-1.2"> = 0.0066 µg/mL</tspan></text>
<polyline points="90.67,581.20 91.88,581.27 93.08,581.35 94.29,581.47 95.50,581.62 96.71,581.81 97.92,582.05 99.13,582.35 100.33,582.70 101.54,583.10 102.75,583.55 103.96,584.03 105.17,584.52 106.38,585.00 107.58,585.44 108.79,585.84 110.00,586.18 111.21,586.47 112.42,586.70 113.63,586.88 114.83,587.03 116.04,587.14 117.25,587.22 118.46,587.29 119.67,587.34 120.88,587.37 122.08,587.40 123.29,587.42 124.50,587.44 125.71,587.45 126.92,587.46 128.13,587.46 129.34,587.47 130.54,587.47 131.75,587.47 132.96,587.47 134.17,587.48 135.38,587.48 136.59,587.48 137.79,587.48 139.00,587.48 140.21,587.48 141.42,587.48 142.63,587.48 143.84,587.48 145.04,587.48 146.25,587.48 147.46,587.48 148.67,587.48 149.88,587.48 151.09,587.48 152.29,587.48 153.50,587.48 154.71,587.48 155.92,587.48 157.13,587.48 158.34,587.48 159.54,587.48 160.75,587.48 161.96,587.48 163.17,587.48 164.38,587.48 165.59,587.48 166.79,587.48 168.00,587.48 169.21,587.48 170.42,587.48 171.63,587.48 172.84,587.48 174.04,587.48 175.25,587.48 176.46,587.48 177.67,587.48 178.88,587.48 180.09,587.48 181.30,587.48 182.50,587.48 183.71,587.48 184.92,587.48 186.13,587.48 187.34,587.48" fill="none" stroke="#a4c4de" stroke-width="1.1" opacity="1"/>
<rect x="89.27" y="580.51" width="2.80" height="2.80" fill="#a4c4de"/>
<rect x="98.93" y="584.01" width="2.80" height="2.80" fill="#a4c4de"/>
<rect x="108.60" y="585.17" width="2.80" height="2.80" fill="#a4c4de"/>
<rect x="118.27" y="585.17" width="2.80" height="2.80" fill="#a4c4de"/>
<rect x="127.94" y="582.84" width="2.80" height="2.80" fill="#a4c4de"/>
<rect x="137.60" y="590.94" width="2.80" height="2.80" fill="#a4c4de"/>
<rect x="147.27" y="580.51" width="2.80" height="2.80" fill="#a4c4de"/>
<rect x="156.94" y="574.74" width="2.80" height="2.80" fill="#a4c4de"/>
<rect x="176.27" y="582.84" width="2.80" height="2.80" fill="#a4c4de"/>
<rect x="185.94" y="597.74" width="2.80" height="2.80" fill="#a4c4de"/>
<polyline points="90.67,576.69 91.88,576.55 93.08,576.37 94.29,576.15 95.50,575.87 96.71,575.53 97.92,575.12 99.13,574.66 100.33,574.16 101.54,573.62 102.75,573.09 103.96,572.57 105.17,572.10 106.38,571.68 107.58,571.32 108.79,571.02 110.00,570.78 111.21,570.59 112.42,570.44 113.63,570.33 114.83,570.24 116.04,570.18 117.25,570.13 118.46,570.09 119.67,570.06 120.88,570.04 122.08,570.03 123.29,570.02 124.50,570.01 125.71,570.00 126.92,570.00 128.13,569.99 129.34,569.99 130.54,569.99 131.75,569.99 132.96,569.99 134.17,569.99 135.38,569.99 136.59,569.99 137.79,569.98 139.00,569.98 140.21,569.98 141.42,569.98 142.63,569.98 143.84,569.98 145.04,569.98 146.25,569.98 147.46,569.98 148.67,569.98 149.88,569.98 151.09,569.98 152.29,569.98 153.50,569.98 154.71,569.98 155.92,569.98 157.13,569.98 158.34,569.98 159.54,569.98 160.75,569.98 161.96,569.98 163.17,569.98 164.38,569.98 165.59,569.98 166.79,569.98 168.00,569.98 169.21,569.98 170.42,569.98 171.63,569.98 172.84,569.98 174.04,569.98 175.25,569.98 176.46,569.98 177.67,569.98 178.88,569.98 180.09,569.98 181.30,569.98 182.50,569.98 183.71,569.98 184.92,569.98 186.13,569.98 187.34,569.98" fill="none" stroke="#c4bedc" stroke-width="1.1" opacity="1"/>
<circle cx="119.67" cy="566.94" r="1.20" fill="#c4bedc"/>
<circle cx="129.34" cy="549.25" r="1.20" fill="#c4bedc"/>
<circle cx="139.00" cy="566.23" r="1.20" fill="#c4bedc"/>
<circle cx="148.67" cy="570.83" r="1.20" fill="#c4bedc"/>
<circle cx="158.34" cy="557.67" r="1.20" fill="#c4bedc"/>
<circle cx="168.00" cy="567.59" r="1.20" fill="#c4bedc"/>
<circle cx="90.67" cy="581.00" r="1.20" fill="#c4bedc"/>
<circle cx="100.33" cy="584.24" r="1.20" fill="#c4bedc"/>
<circle cx="110.00" cy="579.06" r="1.20" fill="#c4bedc"/>
<circle cx="187.34" cy="595.26" r="1.20" fill="#c4bedc"/>
<line x1="84.50" y1="581.00" x2="191.48" y2="581.00" stroke="#000" stroke-width="1.7" stroke-linecap="round" stroke-dasharray="0.01,3.45"/>
<circle cx="100.33" cy="574.52" r="1.40" fill="#7e3276"/>
<circle cx="110.00" cy="580.09" r="1.40" fill="#7e3276"/>
<circle cx="119.67" cy="569.98" r="1.40" fill="#7e3276"/>
<circle cx="129.34" cy="580.74" r="1.40" fill="#7e3276"/>
<circle cx="139.00" cy="583.07" r="1.40" fill="#7e3276"/>
<circle cx="148.67" cy="595.26" r="1.40" fill="#7e3276"/>
<circle cx="158.34" cy="598.50" r="1.40" fill="#7e3276"/>
<circle cx="168.00" cy="595.26" r="1.40" fill="#7e3276"/>
<circle cx="177.67" cy="607.31" r="1.40" fill="#7e3276"/>
<circle cx="187.34" cy="609.19" r="1.40" fill="#7e3276"/>
<polyline points="90.67,577.11 91.88,577.11 93.08,577.11 94.29,577.11 95.50,577.11 96.71,577.11 97.92,577.11 99.13,577.11 100.33,577.11 101.54,577.11 102.75,577.11 103.96,577.11 105.17,577.11 106.38,577.11 107.58,577.11 108.79,577.11 110.00,577.11 111.21,577.12 112.42,577.12 113.63,577.12 114.83,577.12 116.04,577.12 117.25,577.13 118.46,577.13 119.67,577.14 120.88,577.15 122.08,577.16 123.29,577.18 124.50,577.20 125.71,577.23 126.92,577.27 128.13,577.33 129.34,577.41 130.54,577.51 131.75,577.65 132.96,577.83 134.17,578.07 135.38,578.40 136.59,578.82 137.79,579.37 139.00,580.08 140.21,580.98 141.42,582.09 142.63,583.43 143.84,584.99 145.04,586.76 146.25,588.69 147.46,590.68 148.67,592.67 149.88,594.55 151.09,596.27 152.29,597.77 153.50,599.04 154.71,600.09 155.92,600.93 157.13,601.59 158.34,602.10 159.54,602.50 160.75,602.79 161.96,603.02 163.17,603.19 164.38,603.32 165.59,603.41 166.79,603.48 168.00,603.53 169.21,603.57 170.42,603.60 171.63,603.62 172.84,603.64 174.04,603.65 175.25,603.66 176.46,603.66 177.67,603.67 178.88,603.67 180.09,603.67 181.30,603.67 182.50,603.68 183.71,603.68 184.92,603.68 186.13,603.68 187.34,603.68" fill="none" stroke="#7e3276" stroke-width="1.2" opacity="1"/>
<rect x="89.07" y="579.66" width="3.20" height="3.20" fill="#2e4a8c"/>
<rect x="98.73" y="566.44" width="3.20" height="3.20" fill="#2e4a8c"/>
<rect x="108.40" y="562.55" width="3.20" height="3.20" fill="#2e4a8c"/>
<rect x="118.07" y="573.37" width="3.20" height="3.20" fill="#2e4a8c"/>
<rect x="127.74" y="599.94" width="3.20" height="3.20" fill="#2e4a8c"/>
<rect x="137.40" y="605.26" width="3.20" height="3.20" fill="#2e4a8c"/>
<rect x="147.07" y="605.71" width="3.20" height="3.20" fill="#2e4a8c"/>
<rect x="156.74" y="605.71" width="3.20" height="3.20" fill="#2e4a8c"/>
<rect x="166.40" y="608.75" width="3.20" height="3.20" fill="#2e4a8c"/>
<rect x="176.07" y="619.58" width="3.20" height="3.20" fill="#2e4a8c"/>
<rect x="185.74" y="622.56" width="3.20" height="3.20" fill="#2e4a8c"/>
<polyline points="90.67,570.04 91.88,570.05 93.08,570.07 94.29,570.09 95.50,570.11 96.71,570.14 97.92,570.17 99.13,570.21 100.33,570.26 101.54,570.33 102.75,570.40 103.96,570.49 105.17,570.61 106.38,570.74 107.58,570.91 108.79,571.11 110.00,571.35 111.21,571.65 112.42,572.00 113.63,572.43 114.83,572.94 116.04,573.55 117.25,574.27 118.46,575.11 119.67,576.10 120.88,577.24 122.08,578.55 123.29,580.04 124.50,581.69 125.71,583.52 126.92,585.49 128.13,587.59 129.34,589.78 130.54,592.02 131.75,594.27 132.96,596.47 134.17,598.60 135.38,600.61 136.59,602.48 137.79,604.19 139.00,605.72 140.21,607.08 141.42,608.27 142.63,609.30 143.84,610.19 145.04,610.94 146.25,611.58 147.46,612.11 148.67,612.56 149.88,612.94 151.09,613.25 152.29,613.50 153.50,613.72 154.71,613.89 155.92,614.04 157.13,614.16 158.34,614.25 159.54,614.33 160.75,614.40 161.96,614.45 163.17,614.50 164.38,614.53 165.59,614.56 166.79,614.59 168.00,614.61 169.21,614.62 170.42,614.64 171.63,614.65 172.84,614.66 174.04,614.66 175.25,614.67 176.46,614.67 177.67,614.68 178.88,614.68 180.09,614.68 181.30,614.69 182.50,614.69 183.71,614.69 184.92,614.69 186.13,614.69 187.34,614.69" fill="none" stroke="#2e4a8c" stroke-width="1.2" opacity="1"/>
<line x1="80.50" y1="160.20" x2="80.50" y2="258.10" stroke="#1a1a1a" stroke-width="1.0"/>
<line x1="80.00" y1="257.60" x2="191.00" y2="257.60" stroke="#1a1a1a" stroke-width="1.0"/>
<line x1="77.90" y1="160.10" x2="80.50" y2="160.10" stroke="#1a1a1a" stroke-width="0.9"/>
<text x="76.80" y="162.50" font-size="5.6" font-family="Liberation Sans" font-weight="bold" text-anchor="end" fill="#1a1a1a" >40</text>
<line x1="77.90" y1="176.40" x2="80.50" y2="176.40" stroke="#1a1a1a" stroke-width="0.9"/>
<text x="76.80" y="178.80" font-size="5.6" font-family="Liberation Sans" font-weight="bold" text-anchor="end" fill="#1a1a1a" >20</text>
<line x1="77.90" y1="192.70" x2="80.50" y2="192.70" stroke="#1a1a1a" stroke-width="0.9"/>
<text x="76.80" y="195.10" font-size="5.6" font-family="Liberation Sans" font-weight="bold" text-anchor="end" fill="#1a1a1a" >0</text>
<line x1="77.90" y1="209.00" x2="80.50" y2="209.00" stroke="#1a1a1a" stroke-width="0.9"/>
<text x="76.80" y="211.40" font-size="5.6" font-family="Liberation Sans" font-weight="bold" text-anchor="end" fill="#1a1a1a" >−20</text>
<line x1="77.90" y1="225.30" x2="80.50" y2="225.30" stroke="#1a1a1a" stroke-width="0.9"/>
<text x="76.80" y="227.70" font-size="5.6" font-family="Liberation Sans" font-weight="bold" text-anchor="end" fill="#1a1a1a" >−40</text>
<line x1="77.90" y1="241.60" x2="80.50" y2="241.60" stroke="#1a1a1a" stroke-width="0.9"/>
<text x="76.80" y="244.00" font-size="5.6" font-family="Liberation Sans" font-weight="bold" text-anchor="end" fill="#1a1a1a" >−60</text>
<line x1="77.90" y1="257.90" x2="80.50" y2="257.90" stroke="#1a1a1a" stroke-width="0.9"/>
<text x="76.80" y="260.30" font-size="5.6" font-family="Liberation Sans" font-weight="bold" text-anchor="end" fill="#1a1a1a" >−80</text>
<line x1="80.50" y1="257.60" x2="80.50" y2="260.20" stroke="#1a1a1a" stroke-width="0.9"/>
<text x="79.40" y="265.30" font-size="5.5" font-family="Liberation Sans" font-weight="bold" text-anchor="middle" fill="#1a1a1a" >−6</text>
<line x1="108.00" y1="257.60" x2="108.00" y2="260.20" stroke="#1a1a1a" stroke-width="0.9"/>
<text x="106.90" y="265.30" font-size="5.5" font-family="Liberation Sans" font-weight="bold" text-anchor="middle" fill="#1a1a1a" >−4</text>
<line x1="135.50" y1="257.60" x2="135.50" y2="260.20" stroke="#1a1a1a" stroke-width="0.9"/>
<text x="134.40" y="265.30" font-size="5.5" font-family="Liberation Sans" font-weight="bold" text-anchor="middle" fill="#1a1a1a" >−2</text>
<line x1="163.00" y1="257.60" x2="163.00" y2="260.20" stroke="#1a1a1a" stroke-width="0.9"/>
<text x="163.00" y="265.30" font-size="5.5" font-family="Liberation Sans" font-weight="bold" text-anchor="middle" fill="#1a1a1a" >0</text>
<line x1="190.50" y1="257.60" x2="190.50" y2="260.20" stroke="#1a1a1a" stroke-width="0.9"/>
<text x="190.50" y="265.30" font-size="5.5" font-family="Liberation Sans" font-weight="bold" text-anchor="middle" fill="#1a1a1a" >2</text>
<text x="137.00" y="274.30" font-size="7.2" font-family="Liberation Sans" font-weight="bold" text-anchor="middle" fill="#111" textLength="95" lengthAdjust="spacingAndGlyphs" stroke="#111" stroke-width="0.12">Log treatment conc. (µg/mL)</text>
<text x="0" y="0" transform="translate(53.68,206.50) rotate(-90)" font-size="6.6" font-family="Liberation Sans" font-weight="bold" text-anchor="middle" fill="#111" textLength="55" lengthAdjust="spacingAndGlyphs">H1975 Proliferation</text>
<text x="0" y="0" transform="translate(62.88,208.00) rotate(-90)" font-size="6.9" font-family="Liberation Sans" text-anchor="middle" fill="#2a2a2a" textLength="95" lengthAdjust="spacingAndGlyphs">(NucRed AUC Normalized to Cnt)</text>
<line x1="257.30" y1="160.70" x2="257.30" y2="257.80" stroke="#1a1a1a" stroke-width="1.0"/>
<line x1="256.80" y1="257.30" x2="368.00" y2="257.30" stroke="#1a1a1a" stroke-width="1.0"/>
<line x1="254.70" y1="160.75" x2="257.30" y2="160.75" stroke="#1a1a1a" stroke-width="0.9"/>
<text x="254.70" y="163.15" font-size="5.6" font-family="Liberation Sans" font-weight="bold" text-anchor="end" fill="#1a1a1a" >250</text>
<line x1="254.70" y1="173.60" x2="257.30" y2="173.60" stroke="#1a1a1a" stroke-width="0.9"/>
<text x="254.70" y="176.00" font-size="5.6" font-family="Liberation Sans" font-weight="bold" text-anchor="end" fill="#1a1a1a" >200</text>
<line x1="254.70" y1="199.30" x2="257.30" y2="199.30" stroke="#1a1a1a" stroke-width="0.9"/>
<text x="254.70" y="201.70" font-size="5.6" font-family="Liberation Sans" font-weight="bold" text-anchor="end" fill="#1a1a1a" >100</text>
<line x1="254.70" y1="225.00" x2="257.30" y2="225.00" stroke="#1a1a1a" stroke-width="0.9"/>
<text x="254.70" y="227.40" font-size="5.6" font-family="Liberation Sans" font-weight="bold" text-anchor="end" fill="#1a1a1a" >0</text>
<line x1="254.70" y1="250.70" x2="257.30" y2="250.70" stroke="#1a1a1a" stroke-width="0.9"/>
<text x="254.70" y="253.10" font-size="5.6" font-family="Liberation Sans" font-weight="bold" text-anchor="end" fill="#1a1a1a" >−100</text>
<line x1="257.50" y1="257.30" x2="257.50" y2="259.90" stroke="#1a1a1a" stroke-width="0.9"/>
<text x="256.40" y="265.30" font-size="5.5" font-family="Liberation Sans" font-weight="bold" text-anchor="middle" fill="#1a1a1a" >−6</text>
<line x1="285.00" y1="257.30" x2="285.00" y2="259.90" stroke="#1a1a1a" stroke-width="0.9"/>
<text x="283.90" y="265.30" font-size="5.5" font-family="Liberation Sans" font-weight="bold" text-anchor="middle" fill="#1a1a1a" >−4</text>
<line x1="312.50" y1="257.30" x2="312.50" y2="259.90" stroke="#1a1a1a" stroke-width="0.9"/>
<text x="311.40" y="265.30" font-size="5.5" font-family="Liberation Sans" font-weight="bold" text-anchor="middle" fill="#1a1a1a" >−2</text>
<line x1="340.00" y1="257.30" x2="340.00" y2="259.90" stroke="#1a1a1a" stroke-width="0.9"/>
<text x="340.00" y="265.30" font-size="5.5" font-family="Liberation Sans" font-weight="bold" text-anchor="middle" fill="#1a1a1a" >0</text>
<line x1="367.50" y1="257.30" x2="367.50" y2="259.90" stroke="#1a1a1a" stroke-width="0.9"/>
<text x="367.50" y="265.30" font-size="5.5" font-family="Liberation Sans" font-weight="bold" text-anchor="middle" fill="#1a1a1a" >2</text>
<text x="314.00" y="274.30" font-size="7.2" font-family="Liberation Sans" font-weight="bold" text-anchor="middle" fill="#111" textLength="95" lengthAdjust="spacingAndGlyphs" stroke="#111" stroke-width="0.12">Log treatment conc. (µg/mL)</text>
<text x="0" y="0" transform="translate(231.08,206.00) rotate(-90)" font-size="6.6" font-family="Liberation Sans" font-weight="bold" text-anchor="middle" fill="#111" textLength="49" lengthAdjust="spacingAndGlyphs">H1975 Apoptosis</text>
<text x="0" y="0" transform="translate(238.18,208.00) rotate(-90)" font-size="6.9" font-family="Liberation Sans" text-anchor="middle" fill="#2a2a2a" textLength="94" lengthAdjust="spacingAndGlyphs">(Annexin AUC Normalized to Cnt)</text>
<line x1="80.50" y1="294.70" x2="80.50" y2="392.30" stroke="#1a1a1a" stroke-width="1.0"/>
<line x1="80.00" y1="391.80" x2="191.20" y2="391.80" stroke="#1a1a1a" stroke-width="1.0"/>
<line x1="77.90" y1="294.70" x2="80.50" y2="294.70" stroke="#1a1a1a" stroke-width="0.9"/>
<text x="76.80" y="297.10" font-size="5.6" font-family="Liberation Sans" font-weight="bold" text-anchor="end" fill="#1a1a1a" >50</text>
<line x1="77.90" y1="327.00" x2="80.50" y2="327.00" stroke="#1a1a1a" stroke-width="0.9"/>
<text x="76.80" y="329.40" font-size="5.6" font-family="Liberation Sans" font-weight="bold" text-anchor="end" fill="#1a1a1a" >0</text>
<line x1="77.90" y1="359.30" x2="80.50" y2="359.30" stroke="#1a1a1a" stroke-width="0.9"/>
<text x="76.80" y="361.70" font-size="5.6" font-family="Liberation Sans" font-weight="bold" text-anchor="end" fill="#1a1a1a" >−50</text>
<line x1="77.90" y1="391.60" x2="80.50" y2="391.60" stroke="#1a1a1a" stroke-width="0.9"/>
<text x="76.80" y="394.00" font-size="5.6" font-family="Liberation Sans" font-weight="bold" text-anchor="end" fill="#1a1a1a" >−100</text>
<line x1="80.30" y1="391.80" x2="80.30" y2="394.40" stroke="#1a1a1a" stroke-width="0.9"/>
<text x="79.20" y="400.40" font-size="5.5" font-family="Liberation Sans" font-weight="bold" text-anchor="middle" fill="#1a1a1a" >−6</text>
<line x1="107.90" y1="391.80" x2="107.90" y2="394.40" stroke="#1a1a1a" stroke-width="0.9"/>
<text x="106.80" y="400.40" font-size="5.5" font-family="Liberation Sans" font-weight="bold" text-anchor="middle" fill="#1a1a1a" >−4</text>
<line x1="135.50" y1="391.80" x2="135.50" y2="394.40" stroke="#1a1a1a" stroke-width="0.9"/>
<text x="134.40" y="400.40" font-size="5.5" font-family="Liberation Sans" font-weight="bold" text-anchor="middle" fill="#1a1a1a" >−2</text>
<line x1="163.10" y1="391.80" x2="163.10" y2="394.40" stroke="#1a1a1a" stroke-width="0.9"/>
<text x="163.10" y="400.40" font-size="5.5" font-family="Liberation Sans" font-weight="bold" text-anchor="middle" fill="#1a1a1a" >0</text>
<line x1="190.70" y1="391.80" x2="190.70" y2="394.40" stroke="#1a1a1a" stroke-width="0.9"/>
<text x="190.70" y="400.40" font-size="5.5" font-family="Liberation Sans" font-weight="bold" text-anchor="middle" fill="#1a1a1a" >2</text>
<text x="137.00" y="408.40" font-size="7.2" font-family="Liberation Sans" font-weight="bold" text-anchor="middle" fill="#111" textLength="95" lengthAdjust="spacingAndGlyphs" stroke="#111" stroke-width="0.12">Log treatment conc. (µg/mL)</text>
<text x="0" y="0" transform="translate(53.68,343.00) rotate(-90)" font-size="6.6" font-family="Liberation Sans" font-weight="bold" text-anchor="middle" fill="#111" textLength="54" lengthAdjust="spacingAndGlyphs">SNU5 Proliferation</text>
<text x="0" y="0" transform="translate(60.98,342.40) rotate(-90)" font-size="6.9" font-family="Liberation Sans" text-anchor="middle" fill="#2a2a2a" textLength="91" lengthAdjust="spacingAndGlyphs">(NucRed AUC Normalized to Cnt)</text>
<line x1="257.80" y1="293.70" x2="257.80" y2="392.30" stroke="#1a1a1a" stroke-width="1.0"/>
<line x1="257.30" y1="391.80" x2="369.20" y2="391.80" stroke="#1a1a1a" stroke-width="1.0"/>
<line x1="255.20" y1="293.70" x2="257.80" y2="293.70" stroke="#1a1a1a" stroke-width="0.9"/>
<text x="255.20" y="296.10" font-size="5.6" font-family="Liberation Sans" font-weight="bold" text-anchor="end" fill="#1a1a1a" >100</text>
<line x1="255.20" y1="328.70" x2="257.80" y2="328.70" stroke="#1a1a1a" stroke-width="0.9"/>
<text x="255.20" y="331.10" font-size="5.6" font-family="Liberation Sans" font-weight="bold" text-anchor="end" fill="#1a1a1a" >50</text>
<line x1="255.20" y1="363.70" x2="257.80" y2="363.70" stroke="#1a1a1a" stroke-width="0.9"/>
<text x="255.20" y="366.10" font-size="5.6" font-family="Liberation Sans" font-weight="bold" text-anchor="end" fill="#1a1a1a" >0</text>
<line x1="257.50" y1="391.80" x2="257.50" y2="394.40" stroke="#1a1a1a" stroke-width="0.9"/>
<text x="256.40" y="400.40" font-size="5.5" font-family="Liberation Sans" font-weight="bold" text-anchor="middle" fill="#1a1a1a" >−6</text>
<line x1="285.30" y1="391.80" x2="285.30" y2="394.40" stroke="#1a1a1a" stroke-width="0.9"/>
<text x="284.20" y="400.40" font-size="5.5" font-family="Liberation Sans" font-weight="bold" text-anchor="middle" fill="#1a1a1a" >−4</text>
<line x1="313.10" y1="391.80" x2="313.10" y2="394.40" stroke="#1a1a1a" stroke-width="0.9"/>
<text x="312.00" y="400.40" font-size="5.5" font-family="Liberation Sans" font-weight="bold" text-anchor="middle" fill="#1a1a1a" >−2</text>
<line x1="340.90" y1="391.80" x2="340.90" y2="394.40" stroke="#1a1a1a" stroke-width="0.9"/>
<text x="340.90" y="400.40" font-size="5.5" font-family="Liberation Sans" font-weight="bold" text-anchor="middle" fill="#1a1a1a" >0</text>
<line x1="368.70" y1="391.80" x2="368.70" y2="394.40" stroke="#1a1a1a" stroke-width="0.9"/>
<text x="368.70" y="400.40" font-size="5.5" font-family="Liberation Sans" font-weight="bold" text-anchor="middle" fill="#1a1a1a" >2</text>
<text x="314.60" y="408.00" font-size="7.2" font-family="Liberation Sans" font-weight="bold" text-anchor="middle" fill="#111" textLength="95" lengthAdjust="spacingAndGlyphs" stroke="#111" stroke-width="0.12">Log treatment conc. (µg/mL)</text>
<text x="0" y="0" transform="translate(230.98,339.70) rotate(-90)" font-size="6.6" font-family="Liberation Sans" font-weight="bold" text-anchor="middle" fill="#111" textLength="46" lengthAdjust="spacingAndGlyphs">SNU5 Apoptosis</text>
<text x="0" y="0" transform="translate(237.78,342.60) rotate(-90)" font-size="6.9" font-family="Liberation Sans" text-anchor="middle" fill="#2a2a2a" textLength="93" lengthAdjust="spacingAndGlyphs">(Annexin AUC Normalized to Cnt)</text>
<line x1="80.50" y1="419.30" x2="80.50" y2="519.20" stroke="#1a1a1a" stroke-width="1.0"/>
<line x1="80.00" y1="518.70" x2="194.40" y2="518.70" stroke="#1a1a1a" stroke-width="1.0"/>
<line x1="77.90" y1="419.30" x2="80.50" y2="419.30" stroke="#1a1a1a" stroke-width="0.9"/>
<text x="76.80" y="421.70" font-size="5.6" font-family="Liberation Sans" font-weight="bold" text-anchor="end" fill="#1a1a1a" >40</text>
<line x1="77.90" y1="435.90" x2="80.50" y2="435.90" stroke="#1a1a1a" stroke-width="0.9"/>
<text x="76.80" y="438.30" font-size="5.6" font-family="Liberation Sans" font-weight="bold" text-anchor="end" fill="#1a1a1a" >20</text>
<line x1="77.90" y1="452.50" x2="80.50" y2="452.50" stroke="#1a1a1a" stroke-width="0.9"/>
<text x="76.80" y="454.90" font-size="5.6" font-family="Liberation Sans" font-weight="bold" text-anchor="end" fill="#1a1a1a" >0</text>
<line x1="77.90" y1="469.10" x2="80.50" y2="469.10" stroke="#1a1a1a" stroke-width="0.9"/>
<text x="76.80" y="471.50" font-size="5.6" font-family="Liberation Sans" font-weight="bold" text-anchor="end" fill="#1a1a1a" >−20</text>
<line x1="77.90" y1="485.70" x2="80.50" y2="485.70" stroke="#1a1a1a" stroke-width="0.9"/>
<text x="76.80" y="488.10" font-size="5.6" font-family="Liberation Sans" font-weight="bold" text-anchor="end" fill="#1a1a1a" >−40</text>
<line x1="77.90" y1="502.30" x2="80.50" y2="502.30" stroke="#1a1a1a" stroke-width="0.9"/>
<text x="76.80" y="504.70" font-size="5.6" font-family="Liberation Sans" font-weight="bold" text-anchor="end" fill="#1a1a1a" >−60</text>
<line x1="77.90" y1="518.90" x2="80.50" y2="518.90" stroke="#1a1a1a" stroke-width="0.9"/>
<text x="76.80" y="521.30" font-size="5.6" font-family="Liberation Sans" font-weight="bold" text-anchor="end" fill="#1a1a1a" >−80</text>
<line x1="80.30" y1="518.70" x2="80.30" y2="521.30" stroke="#1a1a1a" stroke-width="0.9"/>
<text x="79.20" y="526.00" font-size="5.5" font-family="Liberation Sans" font-weight="bold" text-anchor="middle" fill="#1a1a1a" >−6</text>
<line x1="108.70" y1="518.70" x2="108.70" y2="521.30" stroke="#1a1a1a" stroke-width="0.9"/>
<text x="107.60" y="526.00" font-size="5.5" font-family="Liberation Sans" font-weight="bold" text-anchor="middle" fill="#1a1a1a" >−4</text>
<line x1="137.10" y1="518.70" x2="137.10" y2="521.30" stroke="#1a1a1a" stroke-width="0.9"/>
<text x="136.00" y="526.00" font-size="5.5" font-family="Liberation Sans" font-weight="bold" text-anchor="middle" fill="#1a1a1a" >−2</text>
<line x1="165.50" y1="518.70" x2="165.50" y2="521.30" stroke="#1a1a1a" stroke-width="0.9"/>
<text x="165.50" y="526.00" font-size="5.5" font-family="Liberation Sans" font-weight="bold" text-anchor="middle" fill="#1a1a1a" >0</text>
<line x1="193.90" y1="518.70" x2="193.90" y2="521.30" stroke="#1a1a1a" stroke-width="0.9"/>
<text x="193.90" y="526.00" font-size="5.5" font-family="Liberation Sans" font-weight="bold" text-anchor="middle" fill="#1a1a1a" >2</text>
<text x="138.60" y="534.10" font-size="7.2" font-family="Liberation Sans" font-weight="bold" text-anchor="middle" fill="#111" textLength="95" lengthAdjust="spacingAndGlyphs" stroke="#111" stroke-width="0.12">Log treatment conc. (µg/mL)</text>
<text x="0" y="0" transform="translate(53.48,467.40) rotate(-90)" font-size="6.6" font-family="Liberation Sans" font-weight="bold" text-anchor="middle" fill="#111" textLength="54" lengthAdjust="spacingAndGlyphs">H1975 Proliferation</text>
<text x="0" y="0" transform="translate(61.18,467.90) rotate(-90)" font-size="6.9" font-family="Liberation Sans" text-anchor="middle" fill="#2a2a2a" textLength="92" lengthAdjust="spacingAndGlyphs">(NucRed AUC Normalized to Cnt)</text>
<line x1="257.30" y1="419.10" x2="257.30" y2="519.60" stroke="#1a1a1a" stroke-width="1.0"/>
<line x1="256.80" y1="519.10" x2="372.00" y2="519.10" stroke="#1a1a1a" stroke-width="1.0"/>
<line x1="254.70" y1="419.10" x2="257.30" y2="419.10" stroke="#1a1a1a" stroke-width="0.9"/>
<text x="254.70" y="421.50" font-size="5.6" font-family="Liberation Sans" font-weight="bold" text-anchor="end" fill="#1a1a1a" >300</text>
<line x1="254.70" y1="444.10" x2="257.30" y2="444.10" stroke="#1a1a1a" stroke-width="0.9"/>
<text x="254.70" y="446.50" font-size="5.6" font-family="Liberation Sans" font-weight="bold" text-anchor="end" fill="#1a1a1a" >200</text>
<line x1="254.70" y1="469.10" x2="257.30" y2="469.10" stroke="#1a1a1a" stroke-width="0.9"/>
<text x="254.70" y="471.50" font-size="5.6" font-family="Liberation Sans" font-weight="bold" text-anchor="end" fill="#1a1a1a" >100</text>
<line x1="254.70" y1="494.10" x2="257.30" y2="494.10" stroke="#1a1a1a" stroke-width="0.9"/>
<text x="254.70" y="496.50" font-size="5.6" font-family="Liberation Sans" font-weight="bold" text-anchor="end" fill="#1a1a1a" >0</text>
<line x1="254.70" y1="519.10" x2="257.30" y2="519.10" stroke="#1a1a1a" stroke-width="0.9"/>
<text x="254.70" y="521.50" font-size="5.6" font-family="Liberation Sans" font-weight="bold" text-anchor="end" fill="#1a1a1a" >−100</text>
<line x1="258.30" y1="519.10" x2="258.30" y2="521.70" stroke="#1a1a1a" stroke-width="0.9"/>
<text x="257.20" y="526.50" font-size="5.5" font-family="Liberation Sans" font-weight="bold" text-anchor="middle" fill="#1a1a1a" >−6</text>
<line x1="286.60" y1="519.10" x2="286.60" y2="521.70" stroke="#1a1a1a" stroke-width="0.9"/>
<text x="285.50" y="526.50" font-size="5.5" font-family="Liberation Sans" font-weight="bold" text-anchor="middle" fill="#1a1a1a" >−4</text>
<line x1="314.90" y1="519.10" x2="314.90" y2="521.70" stroke="#1a1a1a" stroke-width="0.9"/>
<text x="313.80" y="526.50" font-size="5.5" font-family="Liberation Sans" font-weight="bold" text-anchor="middle" fill="#1a1a1a" >−2</text>
<line x1="343.20" y1="519.10" x2="343.20" y2="521.70" stroke="#1a1a1a" stroke-width="0.9"/>
<text x="343.20" y="526.50" font-size="5.5" font-family="Liberation Sans" font-weight="bold" text-anchor="middle" fill="#1a1a1a" >0</text>
<line x1="371.50" y1="519.10" x2="371.50" y2="521.70" stroke="#1a1a1a" stroke-width="0.9"/>
<text x="371.50" y="526.50" font-size="5.5" font-family="Liberation Sans" font-weight="bold" text-anchor="middle" fill="#1a1a1a" >2</text>
<text x="316.40" y="534.90" font-size="7.2" font-family="Liberation Sans" font-weight="bold" text-anchor="middle" fill="#111" textLength="95" lengthAdjust="spacingAndGlyphs" stroke="#111" stroke-width="0.12">Log treatment conc. (µg/mL)</text>
<text x="0" y="0" transform="translate(230.88,466.50) rotate(-90)" font-size="6.6" font-family="Liberation Sans" font-weight="bold" text-anchor="middle" fill="#111" textLength="48" lengthAdjust="spacingAndGlyphs">H1975 Apoptosis</text>
<text x="0" y="0" transform="translate(237.48,468.00) rotate(-90)" font-size="6.9" font-family="Liberation Sans" text-anchor="middle" fill="#2a2a2a" textLength="93" lengthAdjust="spacingAndGlyphs">(Annexin AUC Normalized to Cnt)</text>
<line x1="81.00" y1="548.60" x2="81.00" y2="646.40" stroke="#4a4a4a" stroke-width="1.4"/>
<line x1="80.30" y1="645.70" x2="191.98" y2="645.70" stroke="#4a4a4a" stroke-width="1.4"/>
<line x1="78.40" y1="548.60" x2="81.00" y2="548.60" stroke="#1a1a1a" stroke-width="0.9"/>
<text x="77.10" y="551.00" font-size="5.6" font-family="Liberation Sans" font-weight="bold" text-anchor="end" fill="#1a1a1a" >50</text>
<line x1="78.40" y1="581.00" x2="81.00" y2="581.00" stroke="#1a1a1a" stroke-width="0.9"/>
<text x="77.10" y="583.40" font-size="5.6" font-family="Liberation Sans" font-weight="bold" text-anchor="end" fill="#1a1a1a" >0</text>
<line x1="78.40" y1="613.40" x2="81.00" y2="613.40" stroke="#1a1a1a" stroke-width="0.9"/>
<text x="77.10" y="615.80" font-size="5.6" font-family="Liberation Sans" font-weight="bold" text-anchor="end" fill="#1a1a1a" >−50</text>
<line x1="78.40" y1="645.80" x2="81.00" y2="645.80" stroke="#1a1a1a" stroke-width="0.9"/>
<text x="77.10" y="648.20" font-size="5.6" font-family="Liberation Sans" font-weight="bold" text-anchor="end" fill="#1a1a1a" >−100</text>
<line x1="81.00" y1="645.70" x2="81.00" y2="648.30" stroke="#1a1a1a" stroke-width="0.9"/>
<text x="79.90" y="655.30" font-size="5.5" font-family="Liberation Sans" font-weight="bold" text-anchor="middle" fill="#1a1a1a" >−6</text>
<line x1="108.62" y1="645.70" x2="108.62" y2="648.30" stroke="#1a1a1a" stroke-width="0.9"/>
<text x="107.52" y="655.30" font-size="5.5" font-family="Liberation Sans" font-weight="bold" text-anchor="middle" fill="#1a1a1a" >−4</text>
<line x1="136.24" y1="645.70" x2="136.24" y2="648.30" stroke="#1a1a1a" stroke-width="0.9"/>
<text x="135.14" y="655.30" font-size="5.5" font-family="Liberation Sans" font-weight="bold" text-anchor="middle" fill="#1a1a1a" >−2</text>
<line x1="163.86" y1="645.70" x2="163.86" y2="648.30" stroke="#1a1a1a" stroke-width="0.9"/>
<text x="163.86" y="655.30" font-size="5.5" font-family="Liberation Sans" font-weight="bold" text-anchor="middle" fill="#1a1a1a" >0</text>
<line x1="191.48" y1="645.70" x2="191.48" y2="648.30" stroke="#1a1a1a" stroke-width="0.9"/>
<text x="191.48" y="655.30" font-size="5.5" font-family="Liberation Sans" font-weight="bold" text-anchor="middle" fill="#1a1a1a" >2</text>
<text x="137.74" y="661.20" font-size="7.2" font-family="Liberation Sans" font-weight="bold" text-anchor="middle" fill="#111" textLength="95" lengthAdjust="spacingAndGlyphs" stroke="#111" stroke-width="0.12">Log treatment conc. (µg/mL)</text>
<text x="0" y="0" transform="translate(53.88,596.50) rotate(-90)" font-size="6.6" font-family="Liberation Sans" font-weight="bold" text-anchor="middle" fill="#111" textLength="53" lengthAdjust="spacingAndGlyphs">SNU5 Proliferation</text>
<text x="0" y="0" transform="translate(61.88,594.00) rotate(-90)" font-size="6.9" font-family="Liberation Sans" text-anchor="middle" fill="#2a2a2a" textLength="92" lengthAdjust="spacingAndGlyphs">(NucRed Area Normalized to Cnt)</text>
<line x1="397.50" y1="160.70" x2="407.50" y2="160.70" stroke="#787878" stroke-width="1"/>
<polygon points="402.50,158.42 404.78,160.70 402.50,162.98 400.22,160.70" fill="#787878"/>
<text x="412.00" y="163.10" font-size="6.6" font-family="Liberation Sans" text-anchor="start" fill="#2a2a2a" textLength="80.5" lengthAdjust="spacingAndGlyphs" >H1975 - Isotype - no PBMC</text>
<line x1="397.50" y1="169.50" x2="407.50" y2="169.50" stroke="#111111" stroke-width="1"/>
<polygon points="402.50,167.22 404.78,169.50 402.50,171.78 400.22,169.50" fill="#111111"/>
<text x="412.00" y="171.90" font-size="6.6" font-family="Liberation Sans" text-anchor="start" fill="#2a2a2a" textLength="70.5" lengthAdjust="spacingAndGlyphs" >H1975 - Isotype - PBMC</text>
<line x1="397.50" y1="186.60" x2="407.50" y2="186.60" stroke="#a4c4de" stroke-width="1"/>
<circle cx="402.50" cy="186.60" r="1.90" fill="#a4c4de"/>
<text x="412.00" y="189.00" font-size="6.6" font-family="Liberation Sans" text-anchor="start" fill="#2a2a2a" textLength="98.5" lengthAdjust="spacingAndGlyphs" >H1975 - Amivantamab - no PBMC</text>
<line x1="397.50" y1="196.00" x2="407.50" y2="196.00" stroke="#2e4a8c" stroke-width="1"/>
<rect x="400.60" y="194.10" width="3.80" height="3.80" fill="#2e4a8c"/>
<text x="412.00" y="198.40" font-size="6.6" font-family="Liberation Sans" text-anchor="start" fill="#2a2a2a" textLength="89.75" lengthAdjust="spacingAndGlyphs" >H1975 - Amivantamab - PBMC</text>
<line x1="397.50" y1="214.60" x2="407.50" y2="214.60" stroke="#f0aaa8" stroke-width="1"/>
<polygon points="400.41,213.08 404.59,213.08 402.50,216.69" fill="#f0aaa8"/>
<text x="412.00" y="217.00" font-size="6.6" font-family="Liberation Sans" text-anchor="start" fill="#2a2a2a" textLength="76.75" lengthAdjust="spacingAndGlyphs" >H1975 - IgG2σ - no PBMC</text>
<line x1="397.50" y1="224.60" x2="407.50" y2="224.60" stroke="#cc2a38" stroke-width="1"/>
<polygon points="400.41,223.08 404.59,223.08 402.50,226.69" fill="#cc2a38"/>
<text x="412.00" y="227.00" font-size="6.6" font-family="Liberation Sans" text-anchor="start" fill="#2a2a2a" textLength="67.5" lengthAdjust="spacingAndGlyphs" >H1975 - IgG2σ - PBMC</text>
<line x1="397.50" y1="295.50" x2="407.50" y2="295.50" stroke="#787878" stroke-width="1"/>
<polygon points="402.50,293.22 404.78,295.50 402.50,297.78 400.22,295.50" fill="#787878"/>
<text x="412.00" y="297.90" font-size="6.6" font-family="Liberation Sans" text-anchor="start" fill="#2a2a2a" textLength="77.5" lengthAdjust="spacingAndGlyphs" >SNU5 - Isotype - no PBMC</text>
<line x1="397.50" y1="303.75" x2="407.50" y2="303.75" stroke="#111111" stroke-width="1"/>
<polygon points="402.50,301.47 404.78,303.75 402.50,306.03 400.22,303.75" fill="#111111"/>
<text x="412.00" y="306.15" font-size="6.6" font-family="Liberation Sans" text-anchor="start" fill="#2a2a2a" textLength="68.5" lengthAdjust="spacingAndGlyphs" >SNU5 - Isotype - PBMC</text>
<line x1="397.50" y1="320.50" x2="407.50" y2="320.50" stroke="#a4c4de" stroke-width="1"/>
<circle cx="402.50" cy="320.50" r="1.90" fill="#a4c4de"/>
<text x="412.00" y="322.90" font-size="6.6" font-family="Liberation Sans" text-anchor="start" fill="#2a2a2a" textLength="96.75" lengthAdjust="spacingAndGlyphs" >SNU5 - Amivantamab - no PBMC</text>
<line x1="397.50" y1="330.50" x2="407.50" y2="330.50" stroke="#2e4a8c" stroke-width="1"/>
<rect x="400.60" y="328.60" width="3.80" height="3.80" fill="#2e4a8c"/>
<text x="412.00" y="332.90" font-size="6.6" font-family="Liberation Sans" text-anchor="start" fill="#2a2a2a" textLength="88" lengthAdjust="spacingAndGlyphs" >SNU5 - Amivantamab - PBMC</text>
<line x1="397.50" y1="349.50" x2="407.50" y2="349.50" stroke="#f0aaa8" stroke-width="1"/>
<polygon points="400.41,347.98 404.59,347.98 402.50,351.59" fill="#f0aaa8"/>
<text x="412.00" y="351.90" font-size="6.6" font-family="Liberation Sans" text-anchor="start" fill="#2a2a2a" textLength="75" lengthAdjust="spacingAndGlyphs" >SNU5 - IgG2σ - no PBMC</text>
<line x1="397.50" y1="359.25" x2="407.50" y2="359.25" stroke="#cc2a38" stroke-width="1"/>
<polygon points="400.41,357.73 404.59,357.73 402.50,361.34" fill="#cc2a38"/>
<text x="412.00" y="361.65" font-size="6.6" font-family="Liberation Sans" text-anchor="start" fill="#2a2a2a" textLength="66.75" lengthAdjust="spacingAndGlyphs" >SNU5 - IgG2σ - PBMC</text>
<line x1="397.50" y1="420.50" x2="407.50" y2="420.50" stroke="#c4bedc" stroke-width="1"/>
<circle cx="402.50" cy="420.50" r="1.90" fill="#c4bedc"/>
<text x="413.75" y="422.90" font-size="6.6" font-family="Liberation Sans" text-anchor="start" fill="#2a2a2a" textLength="93.25" lengthAdjust="spacingAndGlyphs" >H1975 - Cetuximab - no PBMC</text>
<line x1="397.50" y1="429.50" x2="407.50" y2="429.50" stroke="#7e3276" stroke-width="1"/>
<circle cx="402.50" cy="429.50" r="1.90" fill="#7e3276"/>
<text x="413.75" y="431.90" font-size="6.6" font-family="Liberation Sans" text-anchor="start" fill="#2a2a2a" textLength="83.75" lengthAdjust="spacingAndGlyphs" >H1975 - Cetuximab - PBMC</text>
<line x1="397.50" y1="449.25" x2="407.50" y2="449.25" stroke="#a4c4de" stroke-width="1"/>
<circle cx="402.50" cy="449.25" r="1.90" fill="#a4c4de"/>
<text x="413.75" y="451.65" font-size="6.6" font-family="Liberation Sans" text-anchor="start" fill="#2a2a2a" textLength="102" lengthAdjust="spacingAndGlyphs" >H1975 - Amivantamab - no PBMC</text>
<line x1="397.50" y1="458.75" x2="407.50" y2="458.75" stroke="#2e4a8c" stroke-width="1"/>
<circle cx="402.50" cy="458.75" r="1.90" fill="#2e4a8c"/>
<text x="413.75" y="461.15" font-size="6.6" font-family="Liberation Sans" text-anchor="start" fill="#2a2a2a" textLength="90.75" lengthAdjust="spacingAndGlyphs" >H1975 - Amivantamab- PBMC</text>
<line x1="212.50" y1="550.00" x2="222.50" y2="550.00" stroke="#c4bedc" stroke-width="1"/>
<circle cx="217.50" cy="550.00" r="1.90" fill="#c4bedc"/>
<text x="227.00" y="552.40" font-size="6.6" font-family="Liberation Sans" text-anchor="start" fill="#2a2a2a" textLength="89" lengthAdjust="spacingAndGlyphs" >SNU5- Cetuximab - no PBMC</text>
<line x1="212.50" y1="559.00" x2="222.50" y2="559.00" stroke="#7e3276" stroke-width="1"/>
<circle cx="217.50" cy="559.00" r="1.90" fill="#7e3276"/>
<text x="227.00" y="561.40" font-size="6.6" font-family="Liberation Sans" text-anchor="start" fill="#2a2a2a" textLength="81" lengthAdjust="spacingAndGlyphs" >SNU5 - Cetuximab - PBMC</text>
<line x1="212.50" y1="578.75" x2="222.50" y2="578.75" stroke="#a4c4de" stroke-width="1"/>
<circle cx="217.50" cy="578.75" r="1.90" fill="#a4c4de"/>
<text x="227.00" y="581.15" font-size="6.6" font-family="Liberation Sans" text-anchor="start" fill="#2a2a2a" textLength="97.25" lengthAdjust="spacingAndGlyphs" >SNU5- Amivantamab- no PBMC</text>
<line x1="212.50" y1="588.00" x2="222.50" y2="588.00" stroke="#2e4a8c" stroke-width="1"/>
<circle cx="217.50" cy="588.00" r="1.90" fill="#2e4a8c"/>
<text x="227.00" y="590.40" font-size="6.6" font-family="Liberation Sans" text-anchor="start" fill="#2a2a2a" textLength="88.5" lengthAdjust="spacingAndGlyphs" >SNU5- Amivantamab- PBMC</text>
</g>
</svg></body></html>
